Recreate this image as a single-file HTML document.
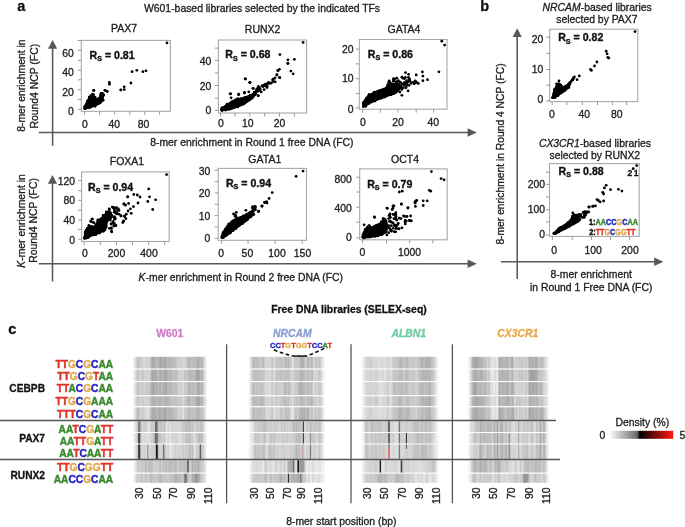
<!DOCTYPE html>
<html><head><meta charset="utf-8"><style>html,body{margin:0;padding:0;background:#fff;width:685px;height:527px;overflow:hidden}text{font-family:"Liberation Sans",sans-serif} svg{filter:blur(0.5px)}</style></head>
<body><svg width="685" height="527" viewBox="0 0 685 527" style="display:block;font-family:'Liberation Sans', sans-serif"><text x="17.20" y="11.20" font-size="14.5" font-weight="bold" fill="#111" stroke="#111" stroke-width="0.28">a</text>
<text x="480.30" y="11.20" font-size="14.5" font-weight="bold" fill="#111" stroke="#111" stroke-width="0.28">b</text>
<text x="8.30" y="334.00" font-size="14.5" font-weight="bold" fill="#111" stroke="#111" stroke-width="0.28">c</text>
<text x="144.00" y="11.70" font-size="10.4" fill="#1e1e1e" stroke="#1e1e1e" stroke-width="0.32">W601-based libraries selected by the indicated TFs</text>
<line x1="52.60" y1="46.00" x2="52.60" y2="145.80" stroke="#585858" stroke-width="1.55"/>
<polygon points="52.60,40.00 48.00,48.80 57.20,48.80" fill="#585858"/>
<line x1="38.80" y1="132.50" x2="470.80" y2="132.50" stroke="#585858" stroke-width="1.55"/>
<polygon points="476.80,132.50 467.60,128.20 467.60,136.80" fill="#585858"/>
<line x1="52.50" y1="181.00" x2="52.50" y2="281.50" stroke="#585858" stroke-width="1.55"/>
<polygon points="52.50,175.00 47.90,183.80 57.10,183.80" fill="#585858"/>
<line x1="38.80" y1="263.70" x2="470.80" y2="263.70" stroke="#585858" stroke-width="1.55"/>
<polygon points="476.80,263.70 467.60,259.40 467.60,268.00" fill="#585858"/>
<line x1="517.20" y1="34.20" x2="517.20" y2="279.00" stroke="#585858" stroke-width="1.55"/>
<polygon points="517.20,28.20 512.60,37.00 521.80,37.00" fill="#585858"/>
<line x1="501.00" y1="261.80" x2="657.40" y2="261.80" stroke="#585858" stroke-width="1.55"/>
<polygon points="663.40,261.80 654.20,257.50 654.20,266.10" fill="#585858"/>
<text x="25.40" y="85.60" font-size="10.4" text-anchor="middle" fill="#1e1e1e" stroke="#1e1e1e" stroke-width="0.32" transform="rotate(-90 25.40 85.60)">8-mer enrichment in</text>
<text x="37.60" y="86.20" font-size="10.4" text-anchor="middle" fill="#1e1e1e" stroke="#1e1e1e" stroke-width="0.32" transform="rotate(-90 37.60 86.20)">Round4 NCP (FC)</text>
<text x="24.60" y="221.00" font-size="10.4" text-anchor="middle" fill="#1e1e1e" stroke="#1e1e1e" stroke-width="0.32" transform="rotate(-90 24.60 221.00)"><tspan font-style="italic">K</tspan>-mer enrichment in</text>
<text x="36.80" y="220.50" font-size="10.4" text-anchor="middle" fill="#1e1e1e" stroke="#1e1e1e" stroke-width="0.32" transform="rotate(-90 36.80 220.50)">Round4 NCP (FC)</text>
<text x="150.20" y="145.90" font-size="10.4" fill="#1e1e1e" stroke="#1e1e1e" stroke-width="0.32">8-mer enrichment in Round 1 free DNA (FC)</text>
<text x="138.60" y="280.90" font-size="10.4" fill="#1e1e1e" stroke="#1e1e1e" stroke-width="0.32"><tspan font-style="italic">K</tspan>-mer enrichment in Round 2 free DNA (FC)</text>
<text x="503.60" y="154.00" font-size="10.3" text-anchor="middle" fill="#1e1e1e" stroke="#1e1e1e" stroke-width="0.32" transform="rotate(-90 503.60 154.00)">8-mer enrichment in Round 4 NCP (FC)</text>
<text x="591.20" y="278.00" font-size="10.4" text-anchor="middle" fill="#1e1e1e" stroke="#1e1e1e" stroke-width="0.32">8-mer enrichment</text>
<text x="591.20" y="291.00" font-size="10.4" text-anchor="middle" fill="#1e1e1e" stroke="#1e1e1e" stroke-width="0.32">in Round 1 Free DNA (FC)</text>
<text x="597.20" y="10.90" font-size="10.4" text-anchor="middle" fill="#1e1e1e" stroke="#1e1e1e" stroke-width="0.32"><tspan font-style="italic">NRCAM</tspan>-based libraries</text>
<text x="596.90" y="23.20" font-size="10.4" text-anchor="middle" fill="#1e1e1e" stroke="#1e1e1e" stroke-width="0.32">selected by PAX7</text>
<text x="594.90" y="146.80" font-size="10.4" text-anchor="middle" fill="#1e1e1e" stroke="#1e1e1e" stroke-width="0.32"><tspan font-style="italic">CX3CR1</tspan>-based libraries</text>
<text x="594.80" y="158.90" font-size="10.4" text-anchor="middle" fill="#1e1e1e" stroke="#1e1e1e" stroke-width="0.32">selected by RUNX2</text>
<rect x="81.30" y="40.40" width="89.10" height="70.90" fill="none" stroke="#a8a8a8" stroke-width="1.1"/>
<text x="124.10" y="31.50" font-size="10.5" text-anchor="middle" fill="#1e1e1e" stroke="#1e1e1e" stroke-width="0.32">PAX7</text>
<line x1="77.80" y1="40.50" x2="81.30" y2="40.50" stroke="#9a9a9a" stroke-width="1.0"/>
<line x1="77.80" y1="50.30" x2="81.30" y2="50.30" stroke="#9a9a9a" stroke-width="1.0"/>
<line x1="77.80" y1="60.50" x2="81.30" y2="60.50" stroke="#9a9a9a" stroke-width="1.0"/>
<line x1="77.80" y1="70.30" x2="81.30" y2="70.30" stroke="#9a9a9a" stroke-width="1.0"/>
<line x1="77.80" y1="79.80" x2="81.30" y2="79.80" stroke="#9a9a9a" stroke-width="1.0"/>
<line x1="77.80" y1="89.70" x2="81.30" y2="89.70" stroke="#9a9a9a" stroke-width="1.0"/>
<line x1="77.80" y1="99.50" x2="81.30" y2="99.50" stroke="#9a9a9a" stroke-width="1.0"/>
<line x1="77.80" y1="109.40" x2="81.30" y2="109.40" stroke="#9a9a9a" stroke-width="1.0"/>
<line x1="84.60" y1="111.30" x2="84.60" y2="114.80" stroke="#9a9a9a" stroke-width="1.0"/>
<line x1="99.50" y1="111.30" x2="99.50" y2="114.80" stroke="#9a9a9a" stroke-width="1.0"/>
<line x1="114.60" y1="111.30" x2="114.60" y2="114.80" stroke="#9a9a9a" stroke-width="1.0"/>
<line x1="129.80" y1="111.30" x2="129.80" y2="114.80" stroke="#9a9a9a" stroke-width="1.0"/>
<line x1="144.80" y1="111.30" x2="144.80" y2="114.80" stroke="#9a9a9a" stroke-width="1.0"/>
<line x1="159.60" y1="111.30" x2="159.60" y2="114.80" stroke="#9a9a9a" stroke-width="1.0"/>
<text x="73.80" y="57.00" font-size="10.4" text-anchor="end" fill="#1e1e1e" stroke="#1e1e1e" stroke-width="0.32">60</text>
<text x="73.80" y="76.00" font-size="10.4" text-anchor="end" fill="#1e1e1e" stroke="#1e1e1e" stroke-width="0.32">40</text>
<text x="73.80" y="95.70" font-size="10.4" text-anchor="end" fill="#1e1e1e" stroke="#1e1e1e" stroke-width="0.32">20</text>
<text x="73.80" y="114.50" font-size="10.4" text-anchor="end" fill="#1e1e1e" stroke="#1e1e1e" stroke-width="0.32">0</text>
<text x="85.00" y="127.60" font-size="10.4" text-anchor="middle" fill="#1e1e1e" stroke="#1e1e1e" stroke-width="0.32">0</text>
<text x="114.30" y="127.60" font-size="10.4" text-anchor="middle" fill="#1e1e1e" stroke="#1e1e1e" stroke-width="0.32">40</text>
<text x="143.50" y="127.60" font-size="10.4" text-anchor="middle" fill="#1e1e1e" stroke="#1e1e1e" stroke-width="0.32">80</text>
<text x="89.50" y="58.60" font-size="10.6" font-weight="bold" fill="#111" stroke="#111" stroke-width="0.35">R<tspan font-size="7.2" dy="2.4">S</tspan><tspan dy="-2.4"> = 0.81</tspan></text>
<rect x="218.40" y="40.00" width="88.20" height="73.00" fill="none" stroke="#a8a8a8" stroke-width="1.1"/>
<text x="262.60" y="32.60" font-size="10.5" text-anchor="middle" fill="#1e1e1e" stroke="#1e1e1e" stroke-width="0.32">RUNX2</text>
<line x1="214.90" y1="48.10" x2="218.40" y2="48.10" stroke="#9a9a9a" stroke-width="1.0"/>
<line x1="214.90" y1="60.30" x2="218.40" y2="60.30" stroke="#9a9a9a" stroke-width="1.0"/>
<line x1="214.90" y1="72.90" x2="218.40" y2="72.90" stroke="#9a9a9a" stroke-width="1.0"/>
<line x1="214.90" y1="85.50" x2="218.40" y2="85.50" stroke="#9a9a9a" stroke-width="1.0"/>
<line x1="214.90" y1="98.20" x2="218.40" y2="98.20" stroke="#9a9a9a" stroke-width="1.0"/>
<line x1="214.90" y1="110.40" x2="218.40" y2="110.40" stroke="#9a9a9a" stroke-width="1.0"/>
<line x1="220.60" y1="113.00" x2="220.60" y2="116.50" stroke="#9a9a9a" stroke-width="1.0"/>
<line x1="235.10" y1="113.00" x2="235.10" y2="116.50" stroke="#9a9a9a" stroke-width="1.0"/>
<line x1="249.90" y1="113.00" x2="249.90" y2="116.50" stroke="#9a9a9a" stroke-width="1.0"/>
<line x1="264.70" y1="113.00" x2="264.70" y2="116.50" stroke="#9a9a9a" stroke-width="1.0"/>
<line x1="279.50" y1="113.00" x2="279.50" y2="116.50" stroke="#9a9a9a" stroke-width="1.0"/>
<line x1="294.40" y1="113.00" x2="294.40" y2="116.50" stroke="#9a9a9a" stroke-width="1.0"/>
<text x="211.20" y="64.70" font-size="10.4" text-anchor="end" fill="#1e1e1e" stroke="#1e1e1e" stroke-width="0.32">40</text>
<text x="211.20" y="89.70" font-size="10.4" text-anchor="end" fill="#1e1e1e" stroke="#1e1e1e" stroke-width="0.32">20</text>
<text x="211.20" y="114.10" font-size="10.4" text-anchor="end" fill="#1e1e1e" stroke="#1e1e1e" stroke-width="0.32">0</text>
<text x="221.00" y="126.60" font-size="10.4" text-anchor="middle" fill="#1e1e1e" stroke="#1e1e1e" stroke-width="0.32">0</text>
<text x="247.70" y="126.60" font-size="10.4" text-anchor="middle" fill="#1e1e1e" stroke="#1e1e1e" stroke-width="0.32">10</text>
<text x="279.60" y="126.60" font-size="10.4" text-anchor="middle" fill="#1e1e1e" stroke="#1e1e1e" stroke-width="0.32">20</text>
<text x="225.30" y="58.30" font-size="10.6" font-weight="bold" fill="#111" stroke="#111" stroke-width="0.35">R<tspan font-size="7.2" dy="2.4">S</tspan><tspan dy="-2.4"> = 0.68</tspan></text>
<rect x="359.30" y="39.50" width="87.70" height="69.70" fill="none" stroke="#a8a8a8" stroke-width="1.1"/>
<text x="404.00" y="32.60" font-size="10.5" text-anchor="middle" fill="#1e1e1e" stroke="#1e1e1e" stroke-width="0.32">GATA4</text>
<line x1="355.80" y1="49.10" x2="359.30" y2="49.10" stroke="#9a9a9a" stroke-width="1.0"/>
<line x1="355.80" y1="63.90" x2="359.30" y2="63.90" stroke="#9a9a9a" stroke-width="1.0"/>
<line x1="355.80" y1="78.70" x2="359.30" y2="78.70" stroke="#9a9a9a" stroke-width="1.0"/>
<line x1="355.80" y1="93.60" x2="359.30" y2="93.60" stroke="#9a9a9a" stroke-width="1.0"/>
<line x1="355.80" y1="107.90" x2="359.30" y2="107.90" stroke="#9a9a9a" stroke-width="1.0"/>
<line x1="362.60" y1="109.20" x2="362.60" y2="112.70" stroke="#9a9a9a" stroke-width="1.0"/>
<line x1="380.40" y1="109.20" x2="380.40" y2="112.70" stroke="#9a9a9a" stroke-width="1.0"/>
<line x1="397.90" y1="109.20" x2="397.90" y2="112.70" stroke="#9a9a9a" stroke-width="1.0"/>
<line x1="416.20" y1="109.20" x2="416.20" y2="112.70" stroke="#9a9a9a" stroke-width="1.0"/>
<line x1="433.60" y1="109.20" x2="433.60" y2="112.70" stroke="#9a9a9a" stroke-width="1.0"/>
<text x="353.50" y="53.30" font-size="10.4" text-anchor="end" fill="#1e1e1e" stroke="#1e1e1e" stroke-width="0.32">20</text>
<text x="353.50" y="82.40" font-size="10.4" text-anchor="end" fill="#1e1e1e" stroke="#1e1e1e" stroke-width="0.32">10</text>
<text x="353.50" y="112.50" font-size="10.4" text-anchor="end" fill="#1e1e1e" stroke="#1e1e1e" stroke-width="0.32">0</text>
<text x="363.00" y="125.90" font-size="10.4" text-anchor="middle" fill="#1e1e1e" stroke="#1e1e1e" stroke-width="0.32">0</text>
<text x="398.00" y="125.90" font-size="10.4" text-anchor="middle" fill="#1e1e1e" stroke="#1e1e1e" stroke-width="0.32">20</text>
<text x="433.30" y="125.90" font-size="10.4" text-anchor="middle" fill="#1e1e1e" stroke="#1e1e1e" stroke-width="0.32">40</text>
<text x="367.80" y="57.80" font-size="10.6" font-weight="bold" fill="#111" stroke="#111" stroke-width="0.35">R<tspan font-size="7.2" dy="2.4">S</tspan><tspan dy="-2.4"> = 0.86</tspan></text>
<rect x="81.60" y="171.90" width="87.60" height="69.60" fill="none" stroke="#a8a8a8" stroke-width="1.1"/>
<text x="127.00" y="164.60" font-size="10.5" text-anchor="middle" fill="#1e1e1e" stroke="#1e1e1e" stroke-width="0.32">FOXA1</text>
<line x1="78.10" y1="180.60" x2="81.60" y2="180.60" stroke="#9a9a9a" stroke-width="1.0"/>
<line x1="78.10" y1="190.70" x2="81.60" y2="190.70" stroke="#9a9a9a" stroke-width="1.0"/>
<line x1="78.10" y1="200.30" x2="81.60" y2="200.30" stroke="#9a9a9a" stroke-width="1.0"/>
<line x1="78.10" y1="210.20" x2="81.60" y2="210.20" stroke="#9a9a9a" stroke-width="1.0"/>
<line x1="78.10" y1="220.00" x2="81.60" y2="220.00" stroke="#9a9a9a" stroke-width="1.0"/>
<line x1="78.10" y1="229.40" x2="81.60" y2="229.40" stroke="#9a9a9a" stroke-width="1.0"/>
<line x1="78.10" y1="239.20" x2="81.60" y2="239.20" stroke="#9a9a9a" stroke-width="1.0"/>
<line x1="84.10" y1="241.50" x2="84.10" y2="245.00" stroke="#9a9a9a" stroke-width="1.0"/>
<line x1="100.30" y1="241.50" x2="100.30" y2="245.00" stroke="#9a9a9a" stroke-width="1.0"/>
<line x1="116.40" y1="241.50" x2="116.40" y2="245.00" stroke="#9a9a9a" stroke-width="1.0"/>
<line x1="132.40" y1="241.50" x2="132.40" y2="245.00" stroke="#9a9a9a" stroke-width="1.0"/>
<line x1="148.70" y1="241.50" x2="148.70" y2="245.00" stroke="#9a9a9a" stroke-width="1.0"/>
<line x1="164.70" y1="241.50" x2="164.70" y2="245.00" stroke="#9a9a9a" stroke-width="1.0"/>
<text x="75.00" y="185.00" font-size="10.4" text-anchor="end" fill="#1e1e1e" stroke="#1e1e1e" stroke-width="0.32">120</text>
<text x="75.00" y="204.20" font-size="10.4" text-anchor="end" fill="#1e1e1e" stroke="#1e1e1e" stroke-width="0.32">80</text>
<text x="75.00" y="224.10" font-size="10.4" text-anchor="end" fill="#1e1e1e" stroke="#1e1e1e" stroke-width="0.32">40</text>
<text x="75.00" y="244.00" font-size="10.4" text-anchor="end" fill="#1e1e1e" stroke="#1e1e1e" stroke-width="0.32">0</text>
<text x="84.80" y="256.90" font-size="10.4" text-anchor="middle" fill="#1e1e1e" stroke="#1e1e1e" stroke-width="0.32">0</text>
<text x="116.50" y="256.90" font-size="10.4" text-anchor="middle" fill="#1e1e1e" stroke="#1e1e1e" stroke-width="0.32">200</text>
<text x="149.00" y="256.90" font-size="10.4" text-anchor="middle" fill="#1e1e1e" stroke="#1e1e1e" stroke-width="0.32">400</text>
<text x="88.00" y="190.80" font-size="10.6" font-weight="bold" fill="#111" stroke="#111" stroke-width="0.35">R<tspan font-size="7.2" dy="2.4">S</tspan><tspan dy="-2.4"> = 0.94</tspan></text>
<rect x="218.20" y="168.40" width="88.30" height="71.90" fill="none" stroke="#a8a8a8" stroke-width="1.1"/>
<text x="264.80" y="162.80" font-size="10.5" text-anchor="middle" fill="#1e1e1e" stroke="#1e1e1e" stroke-width="0.32">GATA1</text>
<line x1="214.70" y1="170.20" x2="218.20" y2="170.20" stroke="#9a9a9a" stroke-width="1.0"/>
<line x1="214.70" y1="181.60" x2="218.20" y2="181.60" stroke="#9a9a9a" stroke-width="1.0"/>
<line x1="214.70" y1="192.90" x2="218.20" y2="192.90" stroke="#9a9a9a" stroke-width="1.0"/>
<line x1="214.70" y1="204.30" x2="218.20" y2="204.30" stroke="#9a9a9a" stroke-width="1.0"/>
<line x1="214.70" y1="215.60" x2="218.20" y2="215.60" stroke="#9a9a9a" stroke-width="1.0"/>
<line x1="214.70" y1="226.90" x2="218.20" y2="226.90" stroke="#9a9a9a" stroke-width="1.0"/>
<line x1="214.70" y1="238.30" x2="218.20" y2="238.30" stroke="#9a9a9a" stroke-width="1.0"/>
<line x1="221.60" y1="240.30" x2="221.60" y2="243.80" stroke="#9a9a9a" stroke-width="1.0"/>
<line x1="248.10" y1="240.30" x2="248.10" y2="243.80" stroke="#9a9a9a" stroke-width="1.0"/>
<line x1="275.20" y1="240.30" x2="275.20" y2="243.80" stroke="#9a9a9a" stroke-width="1.0"/>
<line x1="302.20" y1="240.30" x2="302.20" y2="243.80" stroke="#9a9a9a" stroke-width="1.0"/>
<text x="210.30" y="175.00" font-size="10.4" text-anchor="end" fill="#1e1e1e" stroke="#1e1e1e" stroke-width="0.32">30</text>
<text x="210.30" y="197.00" font-size="10.4" text-anchor="end" fill="#1e1e1e" stroke="#1e1e1e" stroke-width="0.32">20</text>
<text x="210.30" y="219.60" font-size="10.4" text-anchor="end" fill="#1e1e1e" stroke="#1e1e1e" stroke-width="0.32">10</text>
<text x="210.30" y="241.90" font-size="10.4" text-anchor="end" fill="#1e1e1e" stroke="#1e1e1e" stroke-width="0.32">0</text>
<text x="221.10" y="257.10" font-size="10.4" text-anchor="middle" fill="#1e1e1e" stroke="#1e1e1e" stroke-width="0.32">0</text>
<text x="247.40" y="257.10" font-size="10.4" text-anchor="middle" fill="#1e1e1e" stroke="#1e1e1e" stroke-width="0.32">50</text>
<text x="277.00" y="257.10" font-size="10.4" text-anchor="middle" fill="#1e1e1e" stroke="#1e1e1e" stroke-width="0.32">100</text>
<text x="302.50" y="257.10" font-size="10.4" text-anchor="middle" fill="#1e1e1e" stroke="#1e1e1e" stroke-width="0.32">150</text>
<text x="225.90" y="186.90" font-size="10.6" font-weight="bold" fill="#111" stroke="#111" stroke-width="0.35">R<tspan font-size="7.2" dy="2.4">S</tspan><tspan dy="-2.4"> = 0.94</tspan></text>
<rect x="359.70" y="168.90" width="87.50" height="70.90" fill="none" stroke="#a8a8a8" stroke-width="1.1"/>
<text x="405.00" y="162.90" font-size="10.5" text-anchor="middle" fill="#1e1e1e" stroke="#1e1e1e" stroke-width="0.32">OCT4</text>
<line x1="356.20" y1="177.20" x2="359.70" y2="177.20" stroke="#9a9a9a" stroke-width="1.0"/>
<line x1="356.20" y1="192.00" x2="359.70" y2="192.00" stroke="#9a9a9a" stroke-width="1.0"/>
<line x1="356.20" y1="207.20" x2="359.70" y2="207.20" stroke="#9a9a9a" stroke-width="1.0"/>
<line x1="356.20" y1="222.20" x2="359.70" y2="222.20" stroke="#9a9a9a" stroke-width="1.0"/>
<line x1="356.20" y1="237.90" x2="359.70" y2="237.90" stroke="#9a9a9a" stroke-width="1.0"/>
<line x1="362.60" y1="239.80" x2="362.60" y2="243.30" stroke="#9a9a9a" stroke-width="1.0"/>
<line x1="386.50" y1="239.80" x2="386.50" y2="243.30" stroke="#9a9a9a" stroke-width="1.0"/>
<line x1="409.70" y1="239.80" x2="409.70" y2="243.30" stroke="#9a9a9a" stroke-width="1.0"/>
<line x1="432.80" y1="239.80" x2="432.80" y2="243.30" stroke="#9a9a9a" stroke-width="1.0"/>
<text x="351.80" y="182.90" font-size="10.4" text-anchor="end" fill="#1e1e1e" stroke="#1e1e1e" stroke-width="0.32">800</text>
<text x="351.80" y="211.60" font-size="10.4" text-anchor="end" fill="#1e1e1e" stroke="#1e1e1e" stroke-width="0.32">400</text>
<text x="351.80" y="240.80" font-size="10.4" text-anchor="end" fill="#1e1e1e" stroke="#1e1e1e" stroke-width="0.32">0</text>
<text x="362.50" y="256.40" font-size="10.4" text-anchor="middle" fill="#1e1e1e" stroke="#1e1e1e" stroke-width="0.32">0</text>
<text x="409.60" y="256.40" font-size="10.4" text-anchor="middle" fill="#1e1e1e" stroke="#1e1e1e" stroke-width="0.32">1000</text>
<text x="367.20" y="188.00" font-size="10.6" font-weight="bold" fill="#111" stroke="#111" stroke-width="0.35">R<tspan font-size="7.2" dy="2.4">S</tspan><tspan dy="-2.4"> = 0.79</tspan></text>
<rect x="549.70" y="29.20" width="88.10" height="72.40" fill="none" stroke="#a8a8a8" stroke-width="1.1"/>
<line x1="546.20" y1="37.20" x2="549.70" y2="37.20" stroke="#9a9a9a" stroke-width="1.0"/>
<line x1="546.20" y1="53.30" x2="549.70" y2="53.30" stroke="#9a9a9a" stroke-width="1.0"/>
<line x1="546.20" y1="69.50" x2="549.70" y2="69.50" stroke="#9a9a9a" stroke-width="1.0"/>
<line x1="546.20" y1="85.20" x2="549.70" y2="85.20" stroke="#9a9a9a" stroke-width="1.0"/>
<line x1="546.20" y1="100.90" x2="549.70" y2="100.90" stroke="#9a9a9a" stroke-width="1.0"/>
<line x1="552.10" y1="101.60" x2="552.10" y2="105.10" stroke="#9a9a9a" stroke-width="1.0"/>
<line x1="566.90" y1="101.60" x2="566.90" y2="105.10" stroke="#9a9a9a" stroke-width="1.0"/>
<line x1="582.30" y1="101.60" x2="582.30" y2="105.10" stroke="#9a9a9a" stroke-width="1.0"/>
<line x1="597.50" y1="101.60" x2="597.50" y2="105.10" stroke="#9a9a9a" stroke-width="1.0"/>
<line x1="612.30" y1="101.60" x2="612.30" y2="105.10" stroke="#9a9a9a" stroke-width="1.0"/>
<line x1="626.60" y1="101.60" x2="626.60" y2="105.10" stroke="#9a9a9a" stroke-width="1.0"/>
<text x="543.30" y="42.60" font-size="10.4" text-anchor="end" fill="#1e1e1e" stroke="#1e1e1e" stroke-width="0.32">20</text>
<text x="543.30" y="73.10" font-size="10.4" text-anchor="end" fill="#1e1e1e" stroke="#1e1e1e" stroke-width="0.32">10</text>
<text x="543.30" y="103.10" font-size="10.4" text-anchor="end" fill="#1e1e1e" stroke="#1e1e1e" stroke-width="0.32">0</text>
<text x="552.00" y="117.50" font-size="10.4" text-anchor="middle" fill="#1e1e1e" stroke="#1e1e1e" stroke-width="0.32">0</text>
<text x="584.20" y="117.50" font-size="10.4" text-anchor="middle" fill="#1e1e1e" stroke="#1e1e1e" stroke-width="0.32">40</text>
<text x="616.80" y="117.50" font-size="10.4" text-anchor="middle" fill="#1e1e1e" stroke="#1e1e1e" stroke-width="0.32">80</text>
<text x="558.20" y="41.20" font-size="10.6" font-weight="bold" fill="#111" stroke="#111" stroke-width="0.35">R<tspan font-size="7.2" dy="2.4">S</tspan><tspan dy="-2.4"> = 0.82</tspan></text>
<rect x="549.50" y="163.60" width="89.70" height="72.80" fill="none" stroke="#a8a8a8" stroke-width="1.1"/>
<line x1="546.00" y1="172.20" x2="549.50" y2="172.20" stroke="#9a9a9a" stroke-width="1.0"/>
<line x1="546.00" y1="184.40" x2="549.50" y2="184.40" stroke="#9a9a9a" stroke-width="1.0"/>
<line x1="546.00" y1="197.00" x2="549.50" y2="197.00" stroke="#9a9a9a" stroke-width="1.0"/>
<line x1="546.00" y1="209.70" x2="549.50" y2="209.70" stroke="#9a9a9a" stroke-width="1.0"/>
<line x1="546.00" y1="221.90" x2="549.50" y2="221.90" stroke="#9a9a9a" stroke-width="1.0"/>
<line x1="546.00" y1="235.00" x2="549.50" y2="235.00" stroke="#9a9a9a" stroke-width="1.0"/>
<line x1="552.60" y1="236.40" x2="552.60" y2="239.90" stroke="#9a9a9a" stroke-width="1.0"/>
<line x1="572.20" y1="236.40" x2="572.20" y2="239.90" stroke="#9a9a9a" stroke-width="1.0"/>
<line x1="591.40" y1="236.40" x2="591.40" y2="239.90" stroke="#9a9a9a" stroke-width="1.0"/>
<line x1="610.50" y1="236.40" x2="610.50" y2="239.90" stroke="#9a9a9a" stroke-width="1.0"/>
<line x1="629.70" y1="236.40" x2="629.70" y2="239.90" stroke="#9a9a9a" stroke-width="1.0"/>
<text x="545.00" y="187.90" font-size="10.4" text-anchor="end" fill="#1e1e1e" stroke="#1e1e1e" stroke-width="0.32">200</text>
<text x="545.00" y="213.30" font-size="10.4" text-anchor="end" fill="#1e1e1e" stroke="#1e1e1e" stroke-width="0.32">100</text>
<text x="545.00" y="237.50" font-size="10.4" text-anchor="end" fill="#1e1e1e" stroke="#1e1e1e" stroke-width="0.32">0</text>
<text x="554.10" y="253.90" font-size="10.4" text-anchor="middle" fill="#1e1e1e" stroke="#1e1e1e" stroke-width="0.32">0</text>
<text x="593.10" y="253.90" font-size="10.4" text-anchor="middle" fill="#1e1e1e" stroke="#1e1e1e" stroke-width="0.32">100</text>
<text x="630.00" y="253.90" font-size="10.4" text-anchor="middle" fill="#1e1e1e" stroke="#1e1e1e" stroke-width="0.32">200</text>
<text x="558.60" y="175.00" font-size="10.6" font-weight="bold" fill="#111" stroke="#111" stroke-width="0.35">R<tspan font-size="7.2" dy="2.4">S</tspan><tspan dy="-2.4"> = 0.88</tspan></text>
<path d="M83.6,109.1 L83.3,106.5 L85.1,103.5 L87.7,98.8 L88.5,96.0 L90.3,95.3 L92.3,94.0 L93.8,94.2 L93.6,96.0 L95.4,97.3 L96.4,98.3 L97.9,97.8 L99.5,95.8 L100.5,92.7 L103.1,92.2 L105.1,94.2 L104.1,96.3 L103.6,99.9 L101.5,103.5 L95.4,106.5 L87.7,109.1 L84.6,109.6Z" fill="#000"/>
<g><circle cx="93.8" cy="90.4" r="1.4"/><circle cx="105.1" cy="90.4" r="1.4"/><circle cx="167.0" cy="42.9" r="1.4"/><circle cx="132.1" cy="71.7" r="1.4"/><circle cx="136.8" cy="70.3" r="1.4"/><circle cx="142.9" cy="71.7" r="1.4"/><circle cx="146.0" cy="70.8" r="1.4"/><circle cx="130.9" cy="83.0" r="1.4"/><circle cx="109.4" cy="82.5" r="1.4"/><circle cx="109.4" cy="84.2" r="1.4"/><circle cx="120.7" cy="90.0" r="1.4"/><circle cx="124.2" cy="86.8" r="1.4"/><circle cx="124.2" cy="89.6" r="1.4"/><circle cx="93.7" cy="90.3" r="1.4"/><circle cx="105.0" cy="90.3" r="1.4"/><circle cx="101.6" cy="93.8" r="1.4"/><circle cx="107.3" cy="91.5" r="1.4"/><circle cx="85.0" cy="108.5" r="1.4"/><circle cx="85.0" cy="106.8" r="1.4"/><circle cx="89.1" cy="99.6" r="1.4"/><circle cx="87.5" cy="100.9" r="1.4"/><circle cx="89.3" cy="97.4" r="1.4"/><circle cx="90.7" cy="95.9" r="1.4"/><circle cx="91.5" cy="95.5" r="1.4"/><circle cx="93.8" cy="94.8" r="1.4"/><circle cx="92.5" cy="94.1" r="1.4"/><circle cx="94.3" cy="97.3" r="1.4"/><circle cx="95.2" cy="97.5" r="1.4"/><circle cx="97.6" cy="99.1" r="1.4"/><circle cx="99.8" cy="98.7" r="1.4"/><circle cx="100.4" cy="95.4" r="1.4"/><circle cx="100.9" cy="93.6" r="1.4"/><circle cx="102.0" cy="93.3" r="1.4"/><circle cx="103.4" cy="95.6" r="1.4"/><circle cx="102.9" cy="99.8" r="1.4"/><circle cx="103.1" cy="100.3" r="1.4"/><circle cx="98.1" cy="103.8" r="1.4"/><circle cx="99.6" cy="102.5" r="1.4"/><circle cx="91.3" cy="106.7" r="1.4"/><circle cx="95.0" cy="106.3" r="1.4"/><circle cx="89.5" cy="107.8" r="1.4"/><circle cx="85.1" cy="108.0" r="1.4"/><circle cx="85.0" cy="108.7" r="1.4"/></g>
<path d="M220.3,110.5 L222.0,107.0 L226.7,103.8 L235.0,98.8 L243.4,97.1 L251.7,93.8 L256.0,89.5 L258.0,90.0 L256.0,95.0 L253.4,98.8 L243.4,105.5 L230.0,110.5 L221.0,111.2Z" fill="#000"/>
<g><circle cx="287.8" cy="63.5" r="1.4"/><circle cx="278.0" cy="70.8" r="1.4"/><circle cx="279.4" cy="69.3" r="1.4"/><circle cx="276.9" cy="75.1" r="1.4"/><circle cx="279.8" cy="77.7" r="1.4"/><circle cx="273.2" cy="79.2" r="1.4"/><circle cx="273.6" cy="81.7" r="1.4"/><circle cx="271.4" cy="82.8" r="1.4"/><circle cx="269.2" cy="83.5" r="1.4"/><circle cx="267.0" cy="83.9" r="1.4"/><circle cx="264.8" cy="84.6" r="1.4"/><circle cx="263.4" cy="85.4" r="1.4"/><circle cx="267.0" cy="87.5" r="1.4"/><circle cx="264.1" cy="89.7" r="1.4"/><circle cx="261.2" cy="91.9" r="1.4"/><circle cx="258.2" cy="95.6" r="1.4"/><circle cx="245.1" cy="78.8" r="1.4"/><circle cx="249.9" cy="82.4" r="1.4"/><circle cx="253.1" cy="88.3" r="1.4"/><circle cx="244.4" cy="93.0" r="1.4"/><circle cx="248.8" cy="91.9" r="1.4"/><circle cx="258.2" cy="86.8" r="1.4"/><circle cx="256.8" cy="89.0" r="1.4"/><circle cx="230.1" cy="93.8" r="1.4"/><circle cx="238.7" cy="94.2" r="1.4"/><circle cx="244.6" cy="92.5" r="1.4"/><circle cx="253.1" cy="88.6" r="1.4"/><circle cx="258.4" cy="86.6" r="1.4"/><circle cx="258.1" cy="95.8" r="1.4"/><circle cx="249.9" cy="82.7" r="1.4"/><circle cx="231.1" cy="97.8" r="1.4"/><circle cx="303.1" cy="42.4" r="1.4"/><circle cx="279.9" cy="54.6" r="1.4"/><circle cx="287.9" cy="59.8" r="1.4"/><circle cx="287.9" cy="63.3" r="1.4"/><circle cx="294.4" cy="59.3" r="1.4"/><circle cx="290.9" cy="71.1" r="1.4"/><circle cx="293.2" cy="73.8" r="1.4"/><circle cx="277.8" cy="70.3" r="1.4"/><circle cx="276.9" cy="74.6" r="1.4"/><circle cx="279.5" cy="77.3" r="1.4"/><circle cx="245.5" cy="79.0" r="1.4"/><circle cx="249.9" cy="82.5" r="1.4"/><circle cx="272.6" cy="79.9" r="1.4"/><circle cx="265.6" cy="84.2" r="1.4"/><circle cx="268.5" cy="82.5" r="1.4"/><circle cx="262.0" cy="86.0" r="1.4"/><circle cx="230.7" cy="93.8" r="1.4"/><circle cx="238.6" cy="94.7" r="1.4"/><circle cx="275.0" cy="78.0" r="1.4"/><circle cx="221.8" cy="108.0" r="1.4"/><circle cx="226.7" cy="104.8" r="1.4"/><circle cx="223.1" cy="107.9" r="1.4"/><circle cx="232.0" cy="101.6" r="1.4"/><circle cx="227.1" cy="104.1" r="1.4"/><circle cx="230.4" cy="103.2" r="1.4"/><circle cx="237.9" cy="98.6" r="1.4"/><circle cx="235.8" cy="100.0" r="1.4"/><circle cx="241.3" cy="98.6" r="1.4"/><circle cx="244.8" cy="97.5" r="1.4"/><circle cx="249.9" cy="96.1" r="1.4"/><circle cx="250.2" cy="95.4" r="1.4"/><circle cx="254.3" cy="92.1" r="1.4"/><circle cx="254.1" cy="94.3" r="1.4"/><circle cx="256.4" cy="91.2" r="1.4"/><circle cx="255.7" cy="92.5" r="1.4"/><circle cx="256.7" cy="90.2" r="1.4"/><circle cx="254.7" cy="94.9" r="1.4"/><circle cx="243.5" cy="103.7" r="1.4"/><circle cx="249.2" cy="100.1" r="1.4"/><circle cx="243.5" cy="103.9" r="1.4"/><circle cx="244.9" cy="103.0" r="1.4"/><circle cx="235.1" cy="106.7" r="1.4"/><circle cx="235.9" cy="106.6" r="1.4"/><circle cx="237.7" cy="106.9" r="1.4"/><circle cx="237.2" cy="106.6" r="1.4"/><circle cx="237.7" cy="106.6" r="1.4"/><circle cx="222.1" cy="110.5" r="1.4"/><circle cx="225.6" cy="108.9" r="1.4"/><circle cx="225.4" cy="110.0" r="1.4"/><circle cx="221.3" cy="109.9" r="1.4"/><circle cx="259.4" cy="87.6" r="1.4"/><circle cx="253.1" cy="94.3" r="1.4"/><circle cx="257.6" cy="91.3" r="1.4"/><circle cx="258.4" cy="90.8" r="1.4"/><circle cx="263.1" cy="86.6" r="1.4"/><circle cx="275.2" cy="81.8" r="1.4"/><circle cx="265.4" cy="85.8" r="1.4"/><circle cx="260.2" cy="88.9" r="1.4"/><circle cx="263.6" cy="85.8" r="1.4"/><circle cx="270.8" cy="83.2" r="1.4"/><circle cx="259.5" cy="90.2" r="1.4"/><circle cx="258.8" cy="88.6" r="1.4"/><circle cx="267.1" cy="86.5" r="1.4"/><circle cx="255.6" cy="94.1" r="1.4"/></g>
<path d="M362.1,107.3 L362.1,102.7 L365.2,98.6 L368.2,94.5 L373.3,92.0 L378.4,89.5 L384.0,88.0 L388.0,84.5 L392.0,82.5 L396.0,84.0 L400.0,86.0 L403.0,87.0 L400.0,90.0 L396.8,93.5 L388.7,96.6 L380.5,99.6 L372.3,102.7 L366.2,106.3 L363.1,107.8Z" fill="#000"/>
<g><circle cx="405.5" cy="72.6" r="1.4"/><circle cx="408.6" cy="74.3" r="1.4"/><circle cx="416.2" cy="74.9" r="1.4"/><circle cx="422.4" cy="72.0" r="1.4"/><circle cx="422.9" cy="76.1" r="1.4"/><circle cx="427.5" cy="79.7" r="1.4"/><circle cx="422.9" cy="80.7" r="1.4"/><circle cx="408.1" cy="90.9" r="1.4"/><circle cx="401.9" cy="95.3" r="1.4"/><circle cx="396.8" cy="78.2" r="1.4"/><circle cx="401.9" cy="77.2" r="1.4"/><circle cx="403.0" cy="78.2" r="1.4"/><circle cx="393.8" cy="80.7" r="1.4"/><circle cx="388.7" cy="82.3" r="1.4"/><circle cx="387.6" cy="84.8" r="1.4"/><circle cx="409.1" cy="79.2" r="1.4"/><circle cx="410.1" cy="81.2" r="1.4"/><circle cx="411.1" cy="83.3" r="1.4"/><circle cx="413.2" cy="82.3" r="1.4"/><circle cx="417.3" cy="82.8" r="1.4"/><circle cx="406.0" cy="83.3" r="1.4"/><circle cx="404.0" cy="85.3" r="1.4"/><circle cx="400.9" cy="86.3" r="1.4"/><circle cx="398.9" cy="84.3" r="1.4"/><circle cx="396.8" cy="83.3" r="1.4"/><circle cx="394.8" cy="86.3" r="1.4"/><circle cx="392.7" cy="84.3" r="1.4"/><circle cx="390.7" cy="83.3" r="1.4"/><circle cx="406.0" cy="87.4" r="1.4"/><circle cx="401.9" cy="89.4" r="1.4"/><circle cx="399.9" cy="92.0" r="1.4"/><circle cx="393.8" cy="90.4" r="1.4"/><circle cx="407.0" cy="85.3" r="1.4"/><circle cx="414.2" cy="83.8" r="1.4"/><circle cx="398.4" cy="80.7" r="1.4"/><circle cx="404.5" cy="82.3" r="1.4"/><circle cx="391.7" cy="88.4" r="1.4"/><circle cx="395.8" cy="87.4" r="1.4"/><circle cx="399.9" cy="82.3" r="1.4"/><circle cx="409.1" cy="85.3" r="1.4"/><circle cx="415.2" cy="82.8" r="1.4"/><circle cx="441.8" cy="41.2" r="1.4"/><circle cx="444.6" cy="45.1" r="1.4"/><circle cx="438.9" cy="71.8" r="1.4"/><circle cx="363.9" cy="103.9" r="1.4"/><circle cx="363.4" cy="102.7" r="1.4"/><circle cx="365.1" cy="100.5" r="1.4"/><circle cx="366.3" cy="98.2" r="1.4"/><circle cx="368.0" cy="96.7" r="1.4"/><circle cx="369.1" cy="94.3" r="1.4"/><circle cx="373.2" cy="93.5" r="1.4"/><circle cx="375.6" cy="92.3" r="1.4"/><circle cx="374.3" cy="92.2" r="1.4"/><circle cx="383.8" cy="89.1" r="1.4"/><circle cx="383.6" cy="89.3" r="1.4"/><circle cx="387.8" cy="86.7" r="1.4"/><circle cx="388.0" cy="86.2" r="1.4"/><circle cx="390.1" cy="84.5" r="1.4"/><circle cx="393.8" cy="85.0" r="1.4"/><circle cx="397.7" cy="86.2" r="1.4"/><circle cx="402.7" cy="87.9" r="1.4"/><circle cx="400.6" cy="87.4" r="1.4"/><circle cx="397.3" cy="90.8" r="1.4"/><circle cx="391.2" cy="94.7" r="1.4"/><circle cx="391.9" cy="93.7" r="1.4"/><circle cx="394.0" cy="93.4" r="1.4"/><circle cx="385.2" cy="96.6" r="1.4"/><circle cx="384.6" cy="97.0" r="1.4"/><circle cx="381.2" cy="98.2" r="1.4"/><circle cx="372.0" cy="101.9" r="1.4"/><circle cx="375.5" cy="99.9" r="1.4"/><circle cx="374.9" cy="101.1" r="1.4"/><circle cx="368.7" cy="103.4" r="1.4"/><circle cx="365.3" cy="105.1" r="1.4"/><circle cx="365.7" cy="106.3" r="1.4"/><circle cx="363.4" cy="106.6" r="1.4"/><circle cx="406.7" cy="83.7" r="1.4"/><circle cx="398.6" cy="85.1" r="1.4"/><circle cx="389.2" cy="80.9" r="1.4"/><circle cx="393.4" cy="81.2" r="1.4"/><circle cx="396.7" cy="85.8" r="1.4"/><circle cx="397.0" cy="81.6" r="1.4"/><circle cx="394.0" cy="84.8" r="1.4"/><circle cx="394.2" cy="84.1" r="1.4"/><circle cx="415.8" cy="81.6" r="1.4"/><circle cx="418.4" cy="83.6" r="1.4"/><circle cx="391.2" cy="85.0" r="1.4"/><circle cx="405.6" cy="87.8" r="1.4"/><circle cx="396.6" cy="86.6" r="1.4"/><circle cx="408.7" cy="81.3" r="1.4"/><circle cx="389.6" cy="83.6" r="1.4"/><circle cx="401.8" cy="84.0" r="1.4"/><circle cx="406.4" cy="80.6" r="1.4"/><circle cx="415.1" cy="80.9" r="1.4"/><circle cx="389.5" cy="81.9" r="1.4"/><circle cx="395.2" cy="91.8" r="1.4"/><circle cx="397.5" cy="90.3" r="1.4"/><circle cx="393.8" cy="79.1" r="1.4"/><circle cx="404.2" cy="78.5" r="1.4"/><circle cx="414.0" cy="82.7" r="1.4"/><circle cx="396.3" cy="84.5" r="1.4"/><circle cx="394.7" cy="86.1" r="1.4"/><circle cx="405.4" cy="77.4" r="1.4"/><circle cx="392.7" cy="89.4" r="1.4"/><circle cx="404.5" cy="83.5" r="1.4"/><circle cx="396.1" cy="81.9" r="1.4"/><circle cx="409.3" cy="78.8" r="1.4"/><circle cx="400.6" cy="86.3" r="1.4"/><circle cx="393.3" cy="78.8" r="1.4"/><circle cx="393.4" cy="84.2" r="1.4"/><circle cx="407.4" cy="82.2" r="1.4"/><circle cx="394.7" cy="78.9" r="1.4"/><circle cx="409.6" cy="79.5" r="1.4"/><circle cx="400.4" cy="82.2" r="1.4"/><circle cx="408.5" cy="77.4" r="1.4"/><circle cx="394.4" cy="87.7" r="1.4"/></g>
<path d="M551.7,99.0 L552.2,94.0 L553.4,90.1 L555.9,85.1 L558.4,82.6 L560.9,83.4 L563.4,86.3 L567.5,83.4 L571.7,78.4 L575.1,75.1 L575.5,77.5 L572.0,82.0 L569.2,88.4 L560.0,95.1 L555.0,98.8Z" fill="#000"/>
<g><circle cx="579.3" cy="75.9" r="1.4"/><circle cx="577.1" cy="79.7" r="1.4"/><circle cx="635.0" cy="31.6" r="1.4"/><circle cx="606.2" cy="51.2" r="1.4"/><circle cx="607.1" cy="53.8" r="1.4"/><circle cx="607.9" cy="57.3" r="1.4"/><circle cx="608.8" cy="58.1" r="1.4"/><circle cx="596.9" cy="62.0" r="1.4"/><circle cx="594.5" cy="66.0" r="1.4"/><circle cx="590.5" cy="69.5" r="1.4"/><circle cx="591.4" cy="70.4" r="1.4"/><circle cx="559.0" cy="81.0" r="1.4"/><circle cx="556.5" cy="84.0" r="1.4"/><circle cx="553.2" cy="96.7" r="1.4"/><circle cx="552.5" cy="97.7" r="1.4"/><circle cx="554.6" cy="90.2" r="1.4"/><circle cx="555.3" cy="89.7" r="1.4"/><circle cx="554.7" cy="89.2" r="1.4"/><circle cx="558.6" cy="84.0" r="1.4"/><circle cx="559.4" cy="84.6" r="1.4"/><circle cx="560.6" cy="85.1" r="1.4"/><circle cx="564.6" cy="87.4" r="1.4"/><circle cx="565.2" cy="86.3" r="1.4"/><circle cx="569.0" cy="83.3" r="1.4"/><circle cx="572.6" cy="80.0" r="1.4"/><circle cx="574.2" cy="77.1" r="1.4"/><circle cx="573.8" cy="77.3" r="1.4"/><circle cx="573.4" cy="78.8" r="1.4"/><circle cx="572.3" cy="79.9" r="1.4"/><circle cx="568.9" cy="87.4" r="1.4"/><circle cx="569.8" cy="84.1" r="1.4"/><circle cx="563.1" cy="91.0" r="1.4"/><circle cx="563.7" cy="91.1" r="1.4"/><circle cx="564.8" cy="90.6" r="1.4"/><circle cx="561.2" cy="93.1" r="1.4"/><circle cx="557.9" cy="95.5" r="1.4"/><circle cx="557.9" cy="95.7" r="1.4"/><circle cx="554.8" cy="97.7" r="1.4"/></g>
<path d="M552.4,234.5 L554.6,231.2 L557.9,227.9 L562.3,225.2 L566.7,222.4 L570.0,219.1 L572.2,215.2 L574.4,213.6 L577.7,214.7 L581.0,216.3 L579.9,220.7 L577.7,223.0 L573.3,225.2 L567.8,228.5 L561.2,231.8 L555.7,235.1Z" fill="#000"/>
<g><circle cx="572.8" cy="213.0" r="1.4"/><circle cx="576.6" cy="215.2" r="1.4"/><circle cx="581.0" cy="214.7" r="1.4"/><circle cx="584.3" cy="215.8" r="1.4"/><circle cx="583.2" cy="212.5" r="1.4"/><circle cx="586.5" cy="213.0" r="1.4"/><circle cx="588.7" cy="211.9" r="1.4"/><circle cx="589.3" cy="207.0" r="1.4"/><circle cx="592.6" cy="206.4" r="1.4"/><circle cx="595.4" cy="205.9" r="1.4"/><circle cx="597.0" cy="199.6" r="1.4"/><circle cx="584.3" cy="217.4" r="1.4"/><circle cx="585.4" cy="215.2" r="1.4"/><circle cx="575.5" cy="218.0" r="1.4"/><circle cx="573.3" cy="216.3" r="1.4"/><circle cx="636.7" cy="165.6" r="1.4"/><circle cx="633.2" cy="168.7" r="1.4"/><circle cx="606.2" cy="185.3" r="1.4"/><circle cx="604.4" cy="187.9" r="1.4"/><circle cx="602.7" cy="192.3" r="1.4"/><circle cx="603.6" cy="194.0" r="1.4"/><circle cx="610.5" cy="189.7" r="1.4"/><circle cx="618.4" cy="189.3" r="1.4"/><circle cx="621.9" cy="191.1" r="1.4"/><circle cx="603.6" cy="201.0" r="1.4"/><circle cx="598.3" cy="200.5" r="1.4"/><circle cx="600.1" cy="201.9" r="1.4"/><circle cx="593.1" cy="206.2" r="1.4"/><circle cx="588.7" cy="207.1" r="1.4"/><circle cx="587.0" cy="212.3" r="1.4"/><circle cx="584.4" cy="214.1" r="1.4"/><circle cx="555.1" cy="233.3" r="1.4"/><circle cx="558.4" cy="229.6" r="1.4"/><circle cx="560.6" cy="227.3" r="1.4"/><circle cx="559.1" cy="228.5" r="1.4"/><circle cx="566.1" cy="224.8" r="1.4"/><circle cx="563.8" cy="226.1" r="1.4"/><circle cx="567.7" cy="222.7" r="1.4"/><circle cx="572.6" cy="216.3" r="1.4"/><circle cx="572.8" cy="216.2" r="1.4"/><circle cx="573.9" cy="214.8" r="1.4"/><circle cx="577.3" cy="216.0" r="1.4"/><circle cx="578.4" cy="218.8" r="1.4"/><circle cx="578.9" cy="220.4" r="1.4"/><circle cx="574.0" cy="223.4" r="1.4"/><circle cx="572.7" cy="224.2" r="1.4"/><circle cx="569.5" cy="226.2" r="1.4"/><circle cx="566.3" cy="227.3" r="1.4"/><circle cx="564.5" cy="228.8" r="1.4"/><circle cx="559.1" cy="231.1" r="1.4"/><circle cx="558.4" cy="231.7" r="1.4"/><circle cx="553.9" cy="233.2" r="1.4"/><circle cx="584.6" cy="211.7" r="1.4"/><circle cx="582.4" cy="217.5" r="1.4"/><circle cx="580.5" cy="215.9" r="1.4"/><circle cx="579.0" cy="214.3" r="1.4"/><circle cx="579.8" cy="219.5" r="1.4"/><circle cx="587.5" cy="211.9" r="1.4"/><circle cx="585.1" cy="212.3" r="1.4"/><circle cx="586.3" cy="212.0" r="1.4"/><circle cx="573.6" cy="218.4" r="1.4"/><circle cx="577.7" cy="221.4" r="1.4"/></g>
<path d="M83.6,239.4 L84.0,231.0 L87.2,227.1 L90.4,225.5 L94.3,225.5 L97.5,219.9 L101.5,216.7 L105.5,212.7 L108.7,209.6 L111.8,211.9 L112.6,217.5 L107.9,222.3 L107.1,227.9 L103.9,231.8 L98.3,234.2 L91.9,236.6 L86.4,239.4Z" fill="#000"/>
<g><circle cx="127.7" cy="196.8" r="1.4"/><circle cx="124.1" cy="203.9" r="1.4"/><circle cx="125.5" cy="205.2" r="1.4"/><circle cx="128.6" cy="203.5" r="1.4"/><circle cx="133.5" cy="206.6" r="1.4"/><circle cx="130.4" cy="208.8" r="1.4"/><circle cx="128.1" cy="211.0" r="1.4"/><circle cx="126.3" cy="214.2" r="1.4"/><circle cx="131.2" cy="213.3" r="1.4"/><circle cx="124.6" cy="216.4" r="1.4"/><circle cx="125.9" cy="218.6" r="1.4"/><circle cx="123.7" cy="220.8" r="1.4"/><circle cx="122.8" cy="222.6" r="1.4"/><circle cx="121.0" cy="215.9" r="1.4"/><circle cx="116.5" cy="213.7" r="1.4"/><circle cx="117.4" cy="210.6" r="1.4"/><circle cx="115.7" cy="208.4" r="1.4"/><circle cx="113.9" cy="207.5" r="1.4"/><circle cx="118.3" cy="208.8" r="1.4"/><circle cx="113.9" cy="217.3" r="1.4"/><circle cx="114.3" cy="223.5" r="1.4"/><circle cx="115.7" cy="225.7" r="1.4"/><circle cx="111.6" cy="231.5" r="1.4"/><circle cx="109.4" cy="228.4" r="1.4"/><circle cx="111.2" cy="224.0" r="1.4"/><circle cx="109.4" cy="209.3" r="1.4"/><circle cx="91.1" cy="221.7" r="1.4"/><circle cx="93.4" cy="222.6" r="1.4"/><circle cx="92.5" cy="219.1" r="1.4"/><circle cx="106.7" cy="212.4" r="1.4"/><circle cx="113.0" cy="221.7" r="1.4"/><circle cx="110.3" cy="220.0" r="1.4"/><circle cx="88.9" cy="225.3" r="1.4"/><circle cx="97.8" cy="220.0" r="1.4"/><circle cx="103.2" cy="215.5" r="1.4"/><circle cx="91.9" cy="219.1" r="1.4"/><circle cx="90.7" cy="221.1" r="1.4"/><circle cx="93.9" cy="222.7" r="1.4"/><circle cx="109.1" cy="208.8" r="1.4"/><circle cx="106.3" cy="211.9" r="1.4"/><circle cx="113.4" cy="208.0" r="1.4"/><circle cx="116.6" cy="207.6" r="1.4"/><circle cx="119.0" cy="210.4" r="1.4"/><circle cx="115.0" cy="211.9" r="1.4"/><circle cx="117.0" cy="213.9" r="1.4"/><circle cx="121.0" cy="215.9" r="1.4"/><circle cx="114.2" cy="217.1" r="1.4"/><circle cx="111.1" cy="223.9" r="1.4"/><circle cx="113.4" cy="223.1" r="1.4"/><circle cx="115.8" cy="225.5" r="1.4"/><circle cx="111.1" cy="227.9" r="1.4"/><circle cx="111.8" cy="231.8" r="1.4"/><circle cx="123.8" cy="204.0" r="1.4"/><circle cx="123.4" cy="221.5" r="1.4"/><circle cx="124.6" cy="215.9" r="1.4"/><circle cx="166.6" cy="174.6" r="1.4"/><circle cx="148.7" cy="188.9" r="1.4"/><circle cx="149.5" cy="196.8" r="1.4"/><circle cx="147.8" cy="201.5" r="1.4"/><circle cx="155.6" cy="199.8" r="1.4"/><circle cx="152.7" cy="209.5" r="1.4"/><circle cx="133.8" cy="194.5" r="1.4"/><circle cx="137.3" cy="195.0" r="1.4"/><circle cx="127.7" cy="196.8" r="1.4"/><circle cx="140.0" cy="197.0" r="1.4"/><circle cx="138.0" cy="203.0" r="1.4"/><circle cx="84.8" cy="237.7" r="1.4"/><circle cx="85.6" cy="236.8" r="1.4"/><circle cx="84.6" cy="238.1" r="1.4"/><circle cx="86.5" cy="230.1" r="1.4"/><circle cx="87.3" cy="228.2" r="1.4"/><circle cx="88.4" cy="228.0" r="1.4"/><circle cx="91.1" cy="226.5" r="1.4"/><circle cx="95.9" cy="224.6" r="1.4"/><circle cx="97.9" cy="222.4" r="1.4"/><circle cx="99.0" cy="220.4" r="1.4"/><circle cx="98.0" cy="221.2" r="1.4"/><circle cx="105.2" cy="215.2" r="1.4"/><circle cx="103.8" cy="215.5" r="1.4"/><circle cx="108.9" cy="211.7" r="1.4"/><circle cx="109.4" cy="211.8" r="1.4"/><circle cx="111.1" cy="216.1" r="1.4"/><circle cx="110.7" cy="214.4" r="1.4"/><circle cx="110.5" cy="217.5" r="1.4"/><circle cx="110.0" cy="218.0" r="1.4"/><circle cx="105.7" cy="225.2" r="1.4"/><circle cx="106.1" cy="227.1" r="1.4"/><circle cx="104.9" cy="229.9" r="1.4"/><circle cx="104.2" cy="228.9" r="1.4"/><circle cx="99.6" cy="233.0" r="1.4"/><circle cx="103.4" cy="231.3" r="1.4"/><circle cx="95.9" cy="234.7" r="1.4"/><circle cx="93.9" cy="234.9" r="1.4"/><circle cx="87.9" cy="237.6" r="1.4"/><circle cx="87.8" cy="237.3" r="1.4"/><circle cx="84.2" cy="238.0" r="1.4"/><circle cx="108.9" cy="218.7" r="1.4"/><circle cx="111.7" cy="215.5" r="1.4"/><circle cx="114.5" cy="219.4" r="1.4"/><circle cx="119.1" cy="214.2" r="1.4"/><circle cx="114.4" cy="209.9" r="1.4"/><circle cx="115.4" cy="218.5" r="1.4"/><circle cx="114.3" cy="216.7" r="1.4"/><circle cx="117.0" cy="213.3" r="1.4"/><circle cx="112.3" cy="207.1" r="1.4"/><circle cx="114.2" cy="212.3" r="1.4"/><circle cx="113.7" cy="226.0" r="1.4"/><circle cx="111.5" cy="228.6" r="1.4"/></g>
<path d="M220.7,238.3 L221.5,233.0 L223.4,230.1 L228.4,223.4 L235.0,218.4 L243.4,215.1 L251.7,210.1 L254.2,205.1 L256.0,207.0 L253.4,215.1 L246.7,221.8 L236.7,228.4 L226.7,236.8 L222.0,239.0Z" fill="#000"/>
<g><circle cx="236.3" cy="212.4" r="1.4"/><circle cx="233.6" cy="214.0" r="1.4"/><circle cx="235.1" cy="216.3" r="1.4"/><circle cx="261.9" cy="206.2" r="1.4"/><circle cx="258.4" cy="211.7" r="1.4"/><circle cx="253.8" cy="214.4" r="1.4"/><circle cx="264.7" cy="202.3" r="1.4"/><circle cx="267.0" cy="203.1" r="1.4"/><circle cx="252.2" cy="207.8" r="1.4"/><circle cx="253.0" cy="210.1" r="1.4"/><circle cx="303.1" cy="171.1" r="1.4"/><circle cx="296.1" cy="176.3" r="1.4"/><circle cx="272.2" cy="192.6" r="1.4"/><circle cx="269.1" cy="198.5" r="1.4"/><circle cx="266.5" cy="201.6" r="1.4"/><circle cx="264.7" cy="202.5" r="1.4"/><circle cx="262.1" cy="206.0" r="1.4"/><circle cx="258.6" cy="211.2" r="1.4"/><circle cx="221.9" cy="236.4" r="1.4"/><circle cx="222.5" cy="236.5" r="1.4"/><circle cx="223.4" cy="232.2" r="1.4"/><circle cx="225.7" cy="228.8" r="1.4"/><circle cx="226.7" cy="228.4" r="1.4"/><circle cx="227.6" cy="225.9" r="1.4"/><circle cx="231.6" cy="222.0" r="1.4"/><circle cx="232.9" cy="220.9" r="1.4"/><circle cx="228.8" cy="224.0" r="1.4"/><circle cx="238.9" cy="218.4" r="1.4"/><circle cx="243.1" cy="215.9" r="1.4"/><circle cx="234.8" cy="219.8" r="1.4"/><circle cx="249.3" cy="213.2" r="1.4"/><circle cx="249.8" cy="212.9" r="1.4"/><circle cx="246.2" cy="215.1" r="1.4"/><circle cx="255.3" cy="206.5" r="1.4"/><circle cx="253.9" cy="209.1" r="1.4"/><circle cx="255.2" cy="207.6" r="1.4"/><circle cx="254.0" cy="208.0" r="1.4"/><circle cx="252.9" cy="214.2" r="1.4"/><circle cx="251.7" cy="214.4" r="1.4"/><circle cx="250.9" cy="216.8" r="1.4"/><circle cx="251.9" cy="215.4" r="1.4"/><circle cx="247.4" cy="219.7" r="1.4"/><circle cx="237.3" cy="227.0" r="1.4"/><circle cx="237.0" cy="226.5" r="1.4"/><circle cx="242.6" cy="223.5" r="1.4"/><circle cx="239.3" cy="225.6" r="1.4"/><circle cx="231.7" cy="230.7" r="1.4"/><circle cx="230.3" cy="233.0" r="1.4"/><circle cx="226.7" cy="234.7" r="1.4"/><circle cx="235.7" cy="228.7" r="1.4"/><circle cx="233.1" cy="230.5" r="1.4"/><circle cx="222.0" cy="237.7" r="1.4"/><circle cx="223.2" cy="237.4" r="1.4"/><circle cx="223.2" cy="237.4" r="1.4"/><circle cx="246.1" cy="215.0" r="1.4"/><circle cx="240.5" cy="220.1" r="1.4"/><circle cx="236.3" cy="217.0" r="1.4"/><circle cx="252.8" cy="206.6" r="1.4"/><circle cx="240.3" cy="217.7" r="1.4"/><circle cx="255.5" cy="209.7" r="1.4"/><circle cx="245.9" cy="210.3" r="1.4"/><circle cx="235.4" cy="215.2" r="1.4"/></g>
<path d="M361.9,237.9 L362.4,232.7 L365.0,228.3 L369.4,223.9 L372.0,226.5 L376.4,223.9 L379.0,223.0 L381.6,220.4 L383.4,216.9 L386.0,218.6 L387.8,223.0 L387.8,230.0 L386.0,233.5 L379.9,236.2 L371.1,237.9 L363.3,238.8Z" fill="#000"/>
<g><circle cx="364.1" cy="224.8" r="1.4"/><circle cx="366.8" cy="228.3" r="1.4"/><circle cx="374.6" cy="217.3" r="1.4"/><circle cx="386.9" cy="208.1" r="1.4"/><circle cx="392.2" cy="209.5" r="1.4"/><circle cx="393.0" cy="208.1" r="1.4"/><circle cx="393.9" cy="205.9" r="1.4"/><circle cx="401.4" cy="203.8" r="1.4"/><circle cx="407.9" cy="208.1" r="1.4"/><circle cx="415.4" cy="206.4" r="1.4"/><circle cx="414.9" cy="202.0" r="1.4"/><circle cx="416.7" cy="200.3" r="1.4"/><circle cx="389.1" cy="215.6" r="1.4"/><circle cx="393.0" cy="214.3" r="1.4"/><circle cx="394.8" cy="214.7" r="1.4"/><circle cx="393.9" cy="218.6" r="1.4"/><circle cx="395.7" cy="218.2" r="1.4"/><circle cx="399.2" cy="218.2" r="1.4"/><circle cx="400.9" cy="218.6" r="1.4"/><circle cx="403.5" cy="216.0" r="1.4"/><circle cx="407.0" cy="216.5" r="1.4"/><circle cx="410.6" cy="216.0" r="1.4"/><circle cx="409.7" cy="220.4" r="1.4"/><circle cx="411.4" cy="220.8" r="1.4"/><circle cx="405.3" cy="220.4" r="1.4"/><circle cx="405.3" cy="223.9" r="1.4"/><circle cx="388.7" cy="218.6" r="1.4"/><circle cx="389.5" cy="221.3" r="1.4"/><circle cx="391.3" cy="222.2" r="1.4"/><circle cx="393.0" cy="223.0" r="1.4"/><circle cx="394.8" cy="224.8" r="1.4"/><circle cx="397.4" cy="224.8" r="1.4"/><circle cx="398.3" cy="228.7" r="1.4"/><circle cx="395.7" cy="231.8" r="1.4"/><circle cx="393.0" cy="228.3" r="1.4"/><circle cx="391.3" cy="230.9" r="1.4"/><circle cx="388.7" cy="232.7" r="1.4"/><circle cx="386.9" cy="234.9" r="1.4"/><circle cx="391.3" cy="225.7" r="1.4"/><circle cx="398.3" cy="223.5" r="1.4"/><circle cx="388.7" cy="225.7" r="1.4"/><circle cx="389.5" cy="228.3" r="1.4"/><circle cx="431.4" cy="171.6" r="1.4"/><circle cx="441.1" cy="178.6" r="1.4"/><circle cx="444.1" cy="179.8" r="1.4"/><circle cx="429.3" cy="190.3" r="1.4"/><circle cx="430.7" cy="191.2" r="1.4"/><circle cx="423.2" cy="200.8" r="1.4"/><circle cx="427.2" cy="200.8" r="1.4"/><circle cx="416.2" cy="200.8" r="1.4"/><circle cx="415.3" cy="203.0" r="1.4"/><circle cx="423.2" cy="205.5" r="1.4"/><circle cx="399.3" cy="192.0" r="1.4"/><circle cx="402.2" cy="191.2" r="1.4"/><circle cx="401.4" cy="204.3" r="1.4"/><circle cx="393.0" cy="206.0" r="1.4"/><circle cx="387.4" cy="208.3" r="1.4"/><circle cx="408.0" cy="207.7" r="1.4"/><circle cx="374.3" cy="217.0" r="1.4"/><circle cx="362.5" cy="237.1" r="1.4"/><circle cx="363.0" cy="234.8" r="1.4"/><circle cx="365.4" cy="229.8" r="1.4"/><circle cx="365.3" cy="229.3" r="1.4"/><circle cx="367.6" cy="227.2" r="1.4"/><circle cx="367.8" cy="227.1" r="1.4"/><circle cx="369.1" cy="225.6" r="1.4"/><circle cx="374.5" cy="226.2" r="1.4"/><circle cx="376.1" cy="225.7" r="1.4"/><circle cx="379.1" cy="224.5" r="1.4"/><circle cx="381.5" cy="221.7" r="1.4"/><circle cx="383.1" cy="218.6" r="1.4"/><circle cx="384.2" cy="219.6" r="1.4"/><circle cx="386.0" cy="220.9" r="1.4"/><circle cx="386.9" cy="226.7" r="1.4"/><circle cx="385.9" cy="224.2" r="1.4"/><circle cx="386.2" cy="231.7" r="1.4"/><circle cx="382.0" cy="234.5" r="1.4"/><circle cx="381.1" cy="234.5" r="1.4"/><circle cx="375.6" cy="236.3" r="1.4"/><circle cx="377.8" cy="235.9" r="1.4"/><circle cx="373.5" cy="235.9" r="1.4"/><circle cx="364.0" cy="238.1" r="1.4"/><circle cx="369.4" cy="236.9" r="1.4"/><circle cx="364.4" cy="237.6" r="1.4"/><circle cx="363.8" cy="237.6" r="1.4"/><circle cx="399.1" cy="228.8" r="1.4"/><circle cx="405.0" cy="221.8" r="1.4"/><circle cx="389.9" cy="214.0" r="1.4"/><circle cx="389.5" cy="215.6" r="1.4"/><circle cx="409.3" cy="220.4" r="1.4"/><circle cx="386.4" cy="225.7" r="1.4"/><circle cx="390.6" cy="230.2" r="1.4"/><circle cx="396.2" cy="226.5" r="1.4"/><circle cx="401.9" cy="227.8" r="1.4"/><circle cx="395.8" cy="214.4" r="1.4"/><circle cx="406.3" cy="221.1" r="1.4"/><circle cx="395.8" cy="228.5" r="1.4"/><circle cx="394.2" cy="225.6" r="1.4"/><circle cx="390.4" cy="217.4" r="1.4"/><circle cx="395.9" cy="216.3" r="1.4"/><circle cx="410.1" cy="220.8" r="1.4"/><circle cx="394.1" cy="231.7" r="1.4"/><circle cx="395.2" cy="218.8" r="1.4"/><circle cx="396.8" cy="220.2" r="1.4"/><circle cx="404.7" cy="216.4" r="1.4"/><circle cx="395.8" cy="212.7" r="1.4"/><circle cx="394.5" cy="214.5" r="1.4"/><circle cx="391.4" cy="231.1" r="1.4"/><circle cx="388.2" cy="227.4" r="1.4"/><circle cx="390.3" cy="221.2" r="1.4"/></g>
<text x="627.60" y="176.20" font-size="8.6" font-weight="bold" fill="#111" stroke="#111" stroke-width="0.28">2</text>
<text x="633.80" y="176.40" font-size="8.6" font-weight="bold" fill="#111" stroke="#111" stroke-width="0.28">1</text>
<text x="589.00" y="225.30" font-size="8.4" font-weight="bold" fill="#111" stroke="#111" stroke-width="0.45" textLength="49" lengthAdjust="spacingAndGlyphs">1:<tspan fill="#3a8a2e" stroke="#3a8a2e">A</tspan><tspan fill="#3a8a2e" stroke="#3a8a2e">A</tspan><tspan fill="#2424c8" stroke="#2424c8">C</tspan><tspan fill="#2424c8" stroke="#2424c8">C</tspan><tspan fill="#e0aa50" stroke="#e0aa50">G</tspan><tspan fill="#2424c8" stroke="#2424c8">C</tspan><tspan fill="#3a8a2e" stroke="#3a8a2e">A</tspan><tspan fill="#3a8a2e" stroke="#3a8a2e">A</tspan></text>
<text x="589.30" y="234.80" font-size="8.4" font-weight="bold" fill="#111" stroke="#111" stroke-width="0.45" textLength="46" lengthAdjust="spacingAndGlyphs">2:<tspan fill="#e03228" stroke="#e03228">T</tspan><tspan fill="#e03228" stroke="#e03228">T</tspan><tspan fill="#e0aa50" stroke="#e0aa50">G</tspan><tspan fill="#2424c8" stroke="#2424c8">C</tspan><tspan fill="#e0aa50" stroke="#e0aa50">G</tspan><tspan fill="#e0aa50" stroke="#e0aa50">G</tspan><tspan fill="#e03228" stroke="#e03228">T</tspan><tspan fill="#e03228" stroke="#e03228">T</tspan></text>
<text x="271.20" y="312.60" font-size="10.4" font-weight="bold" fill="#111" stroke="#111" stroke-width="0.28">Free DNA libraries (SELEX-seq)</text>
<text x="156.20" y="337.00" font-size="10.4" font-weight="bold" fill="#cf7dc8" stroke="#cf7dc8" stroke-width="0.28">W601</text>
<text x="273.00" y="336.80" font-size="10.4" font-weight="bold" font-style="italic" fill="#8a9dd2" stroke="#8a9dd2" stroke-width="0.28">NRCAM</text>
<text x="391.50" y="337.00" font-size="10.4" font-weight="bold" font-style="italic" fill="#6ccaa2" stroke="#6ccaa2" stroke-width="0.28">ALBN1</text>
<text x="497.30" y="337.00" font-size="10.4" font-weight="bold" font-style="italic" fill="#eaa948" stroke="#eaa948" stroke-width="0.28">CX3CR1</text>
<text x="270.00" y="348.30" font-size="8.1" font-weight="bold" fill="#111" stroke="#111" stroke-width="0.35" textLength="62" lengthAdjust="spacingAndGlyphs"><tspan fill="#2424c8" stroke="#2424c8">C</tspan><tspan fill="#2424c8" stroke="#2424c8">C</tspan><tspan fill="#e03228" stroke="#e03228">T</tspan><tspan fill="#e0aa50" stroke="#e0aa50">G</tspan><tspan fill="#e03228" stroke="#e03228">T</tspan><tspan fill="#e0aa50" stroke="#e0aa50">G</tspan><tspan fill="#e0aa50" stroke="#e0aa50">G</tspan><tspan fill="#e03228" stroke="#e03228">T</tspan><tspan fill="#2424c8" stroke="#2424c8">C</tspan><tspan fill="#2424c8" stroke="#2424c8">C</tspan><tspan fill="#3a8a2e" stroke="#3a8a2e">A</tspan><tspan fill="#e03228" stroke="#e03228">T</tspan></text>
<path d="M273.8,349.8 Q284,354 293.5,356.2 L306,356.2 Q316,352.5 326,347.6" stroke="#111" stroke-width="1.6" stroke-dasharray="3.6,2.6" fill="none"/>
<path d="M293.5,356.2 L306,356.2" stroke="#111" stroke-width="1.6" fill="none"/>
<text x="0.00" y="0.00" font-size="10.4" fill="#1e1e1e" stroke="#1e1e1e" stroke-width="0.32"></text>
<text x="45.00" y="392.40" font-size="10.2" font-weight="bold" text-anchor="end" fill="#111" stroke="#111" stroke-width="0.28">CEBPB</text>
<text x="45.00" y="442.30" font-size="10.2" font-weight="bold" text-anchor="end" fill="#111" stroke="#111" stroke-width="0.28">PAX7</text>
<text x="45.00" y="479.00" font-size="10.2" font-weight="bold" text-anchor="end" fill="#111" stroke="#111" stroke-width="0.28">RUNX2</text>
<text x="113.20" y="367.80" font-size="10.2" font-weight="bold" text-anchor="end" fill="#111" stroke="#111" stroke-width="0.45"><tspan fill="#e03228" stroke="#e03228">T</tspan><tspan fill="#e03228" stroke="#e03228">T</tspan><tspan fill="#e0aa50" stroke="#e0aa50">G</tspan><tspan fill="#2424c8" stroke="#2424c8">C</tspan><tspan fill="#e0aa50" stroke="#e0aa50">G</tspan><tspan fill="#2424c8" stroke="#2424c8">C</tspan><tspan fill="#3a8a2e" stroke="#3a8a2e">A</tspan><tspan fill="#3a8a2e" stroke="#3a8a2e">A</tspan></text>
<text x="113.20" y="380.00" font-size="10.2" font-weight="bold" text-anchor="end" fill="#111" stroke="#111" stroke-width="0.45"><tspan fill="#e03228" stroke="#e03228">T</tspan><tspan fill="#e03228" stroke="#e03228">T</tspan><tspan fill="#e0aa50" stroke="#e0aa50">G</tspan><tspan fill="#2424c8" stroke="#2424c8">C</tspan><tspan fill="#e0aa50" stroke="#e0aa50">G</tspan><tspan fill="#e03228" stroke="#e03228">T</tspan><tspan fill="#3a8a2e" stroke="#3a8a2e">A</tspan><tspan fill="#3a8a2e" stroke="#3a8a2e">A</tspan></text>
<text x="113.20" y="392.30" font-size="10.2" font-weight="bold" text-anchor="end" fill="#111" stroke="#111" stroke-width="0.45"><tspan fill="#e03228" stroke="#e03228">T</tspan><tspan fill="#e03228" stroke="#e03228">T</tspan><tspan fill="#3a8a2e" stroke="#3a8a2e">A</tspan><tspan fill="#2424c8" stroke="#2424c8">C</tspan><tspan fill="#e0aa50" stroke="#e0aa50">G</tspan><tspan fill="#2424c8" stroke="#2424c8">C</tspan><tspan fill="#3a8a2e" stroke="#3a8a2e">A</tspan><tspan fill="#3a8a2e" stroke="#3a8a2e">A</tspan></text>
<text x="113.20" y="404.80" font-size="10.2" font-weight="bold" text-anchor="end" fill="#111" stroke="#111" stroke-width="0.45"><tspan fill="#e03228" stroke="#e03228">T</tspan><tspan fill="#e03228" stroke="#e03228">T</tspan><tspan fill="#e0aa50" stroke="#e0aa50">G</tspan><tspan fill="#2424c8" stroke="#2424c8">C</tspan><tspan fill="#e0aa50" stroke="#e0aa50">G</tspan><tspan fill="#3a8a2e" stroke="#3a8a2e">A</tspan><tspan fill="#3a8a2e" stroke="#3a8a2e">A</tspan><tspan fill="#3a8a2e" stroke="#3a8a2e">A</tspan></text>
<text x="113.20" y="418.40" font-size="10.2" font-weight="bold" text-anchor="end" fill="#111" stroke="#111" stroke-width="0.45"><tspan fill="#e03228" stroke="#e03228">T</tspan><tspan fill="#e03228" stroke="#e03228">T</tspan><tspan fill="#e03228" stroke="#e03228">T</tspan><tspan fill="#2424c8" stroke="#2424c8">C</tspan><tspan fill="#e0aa50" stroke="#e0aa50">G</tspan><tspan fill="#2424c8" stroke="#2424c8">C</tspan><tspan fill="#3a8a2e" stroke="#3a8a2e">A</tspan><tspan fill="#3a8a2e" stroke="#3a8a2e">A</tspan></text>
<text x="113.20" y="432.50" font-size="10.2" font-weight="bold" text-anchor="end" fill="#111" stroke="#111" stroke-width="0.45"><tspan fill="#3a8a2e" stroke="#3a8a2e">A</tspan><tspan fill="#3a8a2e" stroke="#3a8a2e">A</tspan><tspan fill="#e03228" stroke="#e03228">T</tspan><tspan fill="#2424c8" stroke="#2424c8">C</tspan><tspan fill="#e0aa50" stroke="#e0aa50">G</tspan><tspan fill="#3a8a2e" stroke="#3a8a2e">A</tspan><tspan fill="#e03228" stroke="#e03228">T</tspan><tspan fill="#e03228" stroke="#e03228">T</tspan></text>
<text x="113.20" y="444.60" font-size="10.2" font-weight="bold" text-anchor="end" fill="#111" stroke="#111" stroke-width="0.45"><tspan fill="#3a8a2e" stroke="#3a8a2e">A</tspan><tspan fill="#3a8a2e" stroke="#3a8a2e">A</tspan><tspan fill="#e03228" stroke="#e03228">T</tspan><tspan fill="#e03228" stroke="#e03228">T</tspan><tspan fill="#e0aa50" stroke="#e0aa50">G</tspan><tspan fill="#3a8a2e" stroke="#3a8a2e">A</tspan><tspan fill="#e03228" stroke="#e03228">T</tspan><tspan fill="#e03228" stroke="#e03228">T</tspan></text>
<text x="113.20" y="457.10" font-size="10.2" font-weight="bold" text-anchor="end" fill="#111" stroke="#111" stroke-width="0.45"><tspan fill="#3a8a2e" stroke="#3a8a2e">A</tspan><tspan fill="#3a8a2e" stroke="#3a8a2e">A</tspan><tspan fill="#e03228" stroke="#e03228">T</tspan><tspan fill="#2424c8" stroke="#2424c8">C</tspan><tspan fill="#3a8a2e" stroke="#3a8a2e">A</tspan><tspan fill="#3a8a2e" stroke="#3a8a2e">A</tspan><tspan fill="#e03228" stroke="#e03228">T</tspan><tspan fill="#e03228" stroke="#e03228">T</tspan></text>
<text x="113.20" y="471.10" font-size="10.2" font-weight="bold" text-anchor="end" fill="#111" stroke="#111" stroke-width="0.45"><tspan fill="#e03228" stroke="#e03228">T</tspan><tspan fill="#e03228" stroke="#e03228">T</tspan><tspan fill="#e0aa50" stroke="#e0aa50">G</tspan><tspan fill="#2424c8" stroke="#2424c8">C</tspan><tspan fill="#e0aa50" stroke="#e0aa50">G</tspan><tspan fill="#e0aa50" stroke="#e0aa50">G</tspan><tspan fill="#e03228" stroke="#e03228">T</tspan><tspan fill="#e03228" stroke="#e03228">T</tspan></text>
<text x="113.20" y="483.20" font-size="10.2" font-weight="bold" text-anchor="end" fill="#111" stroke="#111" stroke-width="0.45"><tspan fill="#3a8a2e" stroke="#3a8a2e">A</tspan><tspan fill="#3a8a2e" stroke="#3a8a2e">A</tspan><tspan fill="#2424c8" stroke="#2424c8">C</tspan><tspan fill="#2424c8" stroke="#2424c8">C</tspan><tspan fill="#e0aa50" stroke="#e0aa50">G</tspan><tspan fill="#2424c8" stroke="#2424c8">C</tspan><tspan fill="#3a8a2e" stroke="#3a8a2e">A</tspan><tspan fill="#3a8a2e" stroke="#3a8a2e">A</tspan></text>
<g transform="translate(0,356.8)"><rect x="133.0" width="1.05" height="11.6" fill="#f3f3f3"/><rect x="134.0" width="1.05" height="11.6" fill="#e8e8e8"/><rect x="135.0" width="1.05" height="11.6" fill="#dcdcdc"/><rect x="136.0" width="1.05" height="11.6" fill="#cecece"/><rect x="137.0" width="1.05" height="11.6" fill="#c5c5c5"/><rect x="138.0" width="1.05" height="11.6" fill="#c4c4c4"/><rect x="139.0" width="1.05" height="11.6" fill="#c4c4c4"/><rect x="140.0" width="1.05" height="11.6" fill="#cfcfcf"/><rect x="141.0" width="1.05" height="11.6" fill="#cecece"/><rect x="142.0" width="1.05" height="11.6" fill="#cdcdcd"/><rect x="143.0" width="1.05" height="11.6" fill="#d9d9d9"/><rect x="144.0" width="1.05" height="11.6" fill="#d8d8d8"/><rect x="145.0" width="1.05" height="11.6" fill="#d7d7d7"/><rect x="146.0" width="1.05" height="11.6" fill="#cecece"/><rect x="147.0" width="1.05" height="11.6" fill="#cecece"/><rect x="148.0" width="1.05" height="11.6" fill="#d5d5d5"/><rect x="149.0" width="1.05" height="11.6" fill="#d0d0d0"/><rect x="150.0" width="1.05" height="11.6" fill="#c2c2c2"/><rect x="151.0" width="1.05" height="11.6" fill="#b3b3b3"/><rect x="152.0" width="1.05" height="11.6" fill="#aaaaaa"/><rect x="153.0" width="1.05" height="11.6" fill="#a9a9a9"/><rect x="154.0" width="1.05" height="11.6" fill="#b0b0b0"/><rect x="155.0" width="1.05" height="11.6" fill="#b4b4b4"/><rect x="156.0" width="1.05" height="11.6" fill="#b6b6b6"/><rect x="157.0" width="1.05" height="11.6" fill="#bcbcbc"/><rect x="158.0" width="1.05" height="11.6" fill="#b6b6b6"/><rect x="159.0" width="1.05" height="11.6" fill="#aaaaaa"/><rect x="160.0" width="1.05" height="11.6" fill="#a4a4a4"/><rect x="161.0" width="1.05" height="11.6" fill="#aeaeae"/><rect x="162.0" width="1.05" height="11.6" fill="#b2b2b2"/><rect x="163.0" width="1.05" height="11.6" fill="#acacac"/><rect x="164.0" width="1.05" height="11.6" fill="#a8a8a8"/><rect x="165.0" width="1.05" height="11.6" fill="#adadad"/><rect x="166.0" width="1.05" height="11.6" fill="#b1b1b1"/><rect x="167.0" width="1.05" height="11.6" fill="#b9b9b9"/><rect x="168.0" width="1.05" height="11.6" fill="#b6b6b6"/><rect x="169.0" width="1.05" height="11.6" fill="#b2b2b2"/><rect x="170.0" width="1.05" height="11.6" fill="#bbbbbb"/><rect x="171.0" width="1.05" height="11.6" fill="#bbbbbb"/><rect x="172.0" width="1.05" height="11.6" fill="#b5b5b5"/><rect x="173.0" width="1.05" height="11.6" fill="#bebebe"/><rect x="174.0" width="1.05" height="11.6" fill="#c2c2c2"/><rect x="175.0" width="1.05" height="11.6" fill="#bcbcbc"/><rect x="176.0" width="1.05" height="11.6" fill="#c6c6c6"/><rect x="177.0" width="1.05" height="11.6" fill="#d1d1d1"/><rect x="178.0" width="1.05" height="11.6" fill="#cccccc"/><rect x="179.0" width="1.05" height="11.6" fill="#d0d0d0"/><rect x="180.0" width="1.05" height="11.6" fill="#d6d6d6"/><rect x="181.0" width="1.05" height="11.6" fill="#cacaca"/><rect x="182.0" width="1.05" height="11.6" fill="#d3d3d3"/><rect x="183.0" width="1.05" height="11.6" fill="#dadada"/><rect x="184.0" width="1.05" height="11.6" fill="#d3d3d3"/><rect x="185.0" width="1.05" height="11.6" fill="#d4d4d4"/><rect x="186.0" width="1.05" height="11.6" fill="#cbcbcb"/><rect x="187.0" width="1.05" height="11.6" fill="#bcbcbc"/><rect x="188.0" width="1.05" height="11.6" fill="#b7b7b7"/><rect x="189.0" width="1.05" height="11.6" fill="#b7b7b7"/><rect x="190.0" width="1.05" height="11.6" fill="#b6b6b6"/><rect x="191.0" width="1.05" height="11.6" fill="#c2c2c2"/><rect x="192.0" width="1.05" height="11.6" fill="#bebebe"/><rect x="193.0" width="1.05" height="11.6" fill="#bbbbbb"/><rect x="194.0" width="1.05" height="11.6" fill="#bdbdbd"/><rect x="195.0" width="1.05" height="11.6" fill="#bdbdbd"/><rect x="196.0" width="1.05" height="11.6" fill="#b7b7b7"/><rect x="197.0" width="1.05" height="11.6" fill="#afafaf"/><rect x="198.0" width="1.05" height="11.6" fill="#b0b0b0"/><rect x="199.0" width="1.05" height="11.6" fill="#b4b4b4"/><rect x="200.0" width="1.05" height="11.6" fill="#bebebe"/><rect x="201.0" width="1.05" height="11.6" fill="#b4b4b4"/><rect x="202.0" width="1.05" height="11.6" fill="#b8b8b8"/><rect x="203.0" width="1.05" height="11.6" fill="#d0d0d0"/><rect x="204.0" width="1.05" height="11.6" fill="#d9d9d9"/><rect x="205.0" width="1.05" height="11.6" fill="#e7e7e7"/><rect x="206.0" width="1.05" height="11.6" fill="#f5f5f5"/></g><g transform="translate(0,369.6)"><rect x="133.0" width="1.05" height="11.4" fill="#f4f4f4"/><rect x="134.0" width="1.05" height="11.4" fill="#e9e9e9"/><rect x="135.0" width="1.05" height="11.4" fill="#dcdcdc"/><rect x="136.0" width="1.05" height="11.4" fill="#cfcfcf"/><rect x="137.0" width="1.05" height="11.4" fill="#c6c6c6"/><rect x="138.0" width="1.05" height="11.4" fill="#c6c6c6"/><rect x="139.0" width="1.05" height="11.4" fill="#cbcbcb"/><rect x="140.0" width="1.05" height="11.4" fill="#d7d7d7"/><rect x="141.0" width="1.05" height="11.4" fill="#d3d3d3"/><rect x="142.0" width="1.05" height="11.4" fill="#c4c4c4"/><rect x="143.0" width="1.05" height="11.4" fill="#cacaca"/><rect x="144.0" width="1.05" height="11.4" fill="#d1d1d1"/><rect x="145.0" width="1.05" height="11.4" fill="#d5d5d5"/><rect x="146.0" width="1.05" height="11.4" fill="#cfcfcf"/><rect x="147.0" width="1.05" height="11.4" fill="#d0d0d0"/><rect x="148.0" width="1.05" height="11.4" fill="#d4d4d4"/><rect x="149.0" width="1.05" height="11.4" fill="#d3d3d3"/><rect x="150.0" width="1.05" height="11.4" fill="#c7c7c7"/><rect x="151.0" width="1.05" height="11.4" fill="#b0b0b0"/><rect x="152.0" width="1.05" height="11.4" fill="#a6a6a6"/><rect x="153.0" width="1.05" height="11.4" fill="#adadad"/><rect x="154.0" width="1.05" height="11.4" fill="#ababab"/><rect x="155.0" width="1.05" height="11.4" fill="#aaaaaa"/><rect x="156.0" width="1.05" height="11.4" fill="#afafaf"/><rect x="157.0" width="1.05" height="11.4" fill="#b7b7b7"/><rect x="158.0" width="1.05" height="11.4" fill="#bcbcbc"/><rect x="159.0" width="1.05" height="11.4" fill="#b0b0b0"/><rect x="160.0" width="1.05" height="11.4" fill="#a9a9a9"/><rect x="161.0" width="1.05" height="11.4" fill="#b6b6b6"/><rect x="162.0" width="1.05" height="11.4" fill="#b8b8b8"/><rect x="163.0" width="1.05" height="11.4" fill="#adadad"/><rect x="164.0" width="1.05" height="11.4" fill="#acacac"/><rect x="165.0" width="1.05" height="11.4" fill="#ababab"/><rect x="166.0" width="1.05" height="11.4" fill="#a4a4a4"/><rect x="167.0" width="1.05" height="11.4" fill="#b4b4b4"/><rect x="168.0" width="1.05" height="11.4" fill="#bababa"/><rect x="169.0" width="1.05" height="11.4" fill="#b1b1b1"/><rect x="170.0" width="1.05" height="11.4" fill="#b8b8b8"/><rect x="171.0" width="1.05" height="11.4" fill="#bbbbbb"/><rect x="172.0" width="1.05" height="11.4" fill="#bbbbbb"/><rect x="173.0" width="1.05" height="11.4" fill="#c5c5c5"/><rect x="174.0" width="1.05" height="11.4" fill="#c3c3c3"/><rect x="175.0" width="1.05" height="11.4" fill="#bababa"/><rect x="176.0" width="1.05" height="11.4" fill="#b9b9b9"/><rect x="177.0" width="1.05" height="11.4" fill="#cccccc"/><rect x="178.0" width="1.05" height="11.4" fill="#cacaca"/><rect x="179.0" width="1.05" height="11.4" fill="#d4d4d4"/><rect x="180.0" width="1.05" height="11.4" fill="#d8d8d8"/><rect x="181.0" width="1.05" height="11.4" fill="#cdcdcd"/><rect x="182.0" width="1.05" height="11.4" fill="#cfcfcf"/><rect x="183.0" width="1.05" height="11.4" fill="#dcdcdc"/><rect x="184.0" width="1.05" height="11.4" fill="#c6c6c6"/><rect x="185.0" width="1.05" height="11.4" fill="#bfbfbf"/><rect x="186.0" width="1.05" height="11.4" fill="#c9c9c9"/><rect x="187.0" width="1.05" height="11.4" fill="#c5c5c5"/><rect x="188.0" width="1.05" height="11.4" fill="#bdbdbd"/><rect x="189.0" width="1.05" height="11.4" fill="#b5b5b5"/><rect x="190.0" width="1.05" height="11.4" fill="#b6b6b6"/><rect x="191.0" width="1.05" height="11.4" fill="#bbbbbb"/><rect x="192.0" width="1.05" height="11.4" fill="#bcbcbc"/><rect x="193.0" width="1.05" height="11.4" fill="#bdbdbd"/><rect x="194.0" width="1.05" height="11.4" fill="#bbbbbb"/><rect x="195.0" width="1.05" height="11.4" fill="#b4b4b4"/><rect x="196.0" width="1.05" height="11.4" fill="#a5a5a5"/><rect x="197.0" width="1.05" height="11.4" fill="#9e9e9e"/><rect x="198.0" width="1.05" height="11.4" fill="#a5a5a5"/><rect x="199.0" width="1.05" height="11.4" fill="#aaaaaa"/><rect x="200.0" width="1.05" height="11.4" fill="#b8b8b8"/><rect x="201.0" width="1.05" height="11.4" fill="#b3b3b3"/><rect x="202.0" width="1.05" height="11.4" fill="#b3b3b3"/><rect x="203.0" width="1.05" height="11.4" fill="#cdcdcd"/><rect x="204.0" width="1.05" height="11.4" fill="#dbdbdb"/><rect x="205.0" width="1.05" height="11.4" fill="#e7e7e7"/><rect x="206.0" width="1.05" height="11.4" fill="#f4f4f4"/></g><g transform="translate(0,382.1)"><rect x="133.0" width="1.05" height="13.0" fill="#f3f3f3"/><rect x="134.0" width="1.05" height="13.0" fill="#e9e9e9"/><rect x="135.0" width="1.05" height="13.0" fill="#dedede"/><rect x="136.0" width="1.05" height="13.0" fill="#cfcfcf"/><rect x="137.0" width="1.05" height="13.0" fill="#c5c5c5"/><rect x="138.0" width="1.05" height="13.0" fill="#c2c2c2"/><rect x="139.0" width="1.05" height="13.0" fill="#c8c8c8"/><rect x="140.0" width="1.05" height="13.0" fill="#d3d3d3"/><rect x="141.0" width="1.05" height="13.0" fill="#cdcdcd"/><rect x="142.0" width="1.05" height="13.0" fill="#c7c7c7"/><rect x="143.0" width="1.05" height="13.0" fill="#cfcfcf"/><rect x="144.0" width="1.05" height="13.0" fill="#d2d2d2"/><rect x="145.0" width="1.05" height="13.0" fill="#cdcdcd"/><rect x="146.0" width="1.05" height="13.0" fill="#c7c7c7"/><rect x="147.0" width="1.05" height="13.0" fill="#c9c9c9"/><rect x="148.0" width="1.05" height="13.0" fill="#d0d0d0"/><rect x="149.0" width="1.05" height="13.0" fill="#c5c5c5"/><rect x="150.0" width="1.05" height="13.0" fill="#bababa"/><rect x="151.0" width="1.05" height="13.0" fill="#b2b2b2"/><rect x="152.0" width="1.05" height="13.0" fill="#a8a8a8"/><rect x="153.0" width="1.05" height="13.0" fill="#a5a5a5"/><rect x="154.0" width="1.05" height="13.0" fill="#acacac"/><rect x="155.0" width="1.05" height="13.0" fill="#b3b3b3"/><rect x="156.0" width="1.05" height="13.0" fill="#afafaf"/><rect x="157.0" width="1.05" height="13.0" fill="#b6b6b6"/><rect x="158.0" width="1.05" height="13.0" fill="#bbbbbb"/><rect x="159.0" width="1.05" height="13.0" fill="#b1b1b1"/><rect x="160.0" width="1.05" height="13.0" fill="#b1b1b1"/><rect x="161.0" width="1.05" height="13.0" fill="#bcbcbc"/><rect x="162.0" width="1.05" height="13.0" fill="#b9b9b9"/><rect x="163.0" width="1.05" height="13.0" fill="#b0b0b0"/><rect x="164.0" width="1.05" height="13.0" fill="#aeaeae"/><rect x="165.0" width="1.05" height="13.0" fill="#adadad"/><rect x="166.0" width="1.05" height="13.0" fill="#a8a8a8"/><rect x="167.0" width="1.05" height="13.0" fill="#b9b9b9"/><rect x="168.0" width="1.05" height="13.0" fill="#bbbbbb"/><rect x="169.0" width="1.05" height="13.0" fill="#b5b5b5"/><rect x="170.0" width="1.05" height="13.0" fill="#bababa"/><rect x="171.0" width="1.05" height="13.0" fill="#bbbbbb"/><rect x="172.0" width="1.05" height="13.0" fill="#bbbbbb"/><rect x="173.0" width="1.05" height="13.0" fill="#c1c1c1"/><rect x="174.0" width="1.05" height="13.0" fill="#c3c3c3"/><rect x="175.0" width="1.05" height="13.0" fill="#bebebe"/><rect x="176.0" width="1.05" height="13.0" fill="#bdbdbd"/><rect x="177.0" width="1.05" height="13.0" fill="#cecece"/><rect x="178.0" width="1.05" height="13.0" fill="#cbcbcb"/><rect x="179.0" width="1.05" height="13.0" fill="#d1d1d1"/><rect x="180.0" width="1.05" height="13.0" fill="#d5d5d5"/><rect x="181.0" width="1.05" height="13.0" fill="#c9c9c9"/><rect x="182.0" width="1.05" height="13.0" fill="#d6d6d6"/><rect x="183.0" width="1.05" height="13.0" fill="#dcdcdc"/><rect x="184.0" width="1.05" height="13.0" fill="#c9c9c9"/><rect x="185.0" width="1.05" height="13.0" fill="#c8c8c8"/><rect x="186.0" width="1.05" height="13.0" fill="#cbcbcb"/><rect x="187.0" width="1.05" height="13.0" fill="#c1c1c1"/><rect x="188.0" width="1.05" height="13.0" fill="#b8b8b8"/><rect x="189.0" width="1.05" height="13.0" fill="#b4b4b4"/><rect x="190.0" width="1.05" height="13.0" fill="#b5b5b5"/><rect x="191.0" width="1.05" height="13.0" fill="#c3c3c3"/><rect x="192.0" width="1.05" height="13.0" fill="#bcbcbc"/><rect x="193.0" width="1.05" height="13.0" fill="#b5b5b5"/><rect x="194.0" width="1.05" height="13.0" fill="#c0c0c0"/><rect x="195.0" width="1.05" height="13.0" fill="#c1c1c1"/><rect x="196.0" width="1.05" height="13.0" fill="#b7b7b7"/><rect x="197.0" width="1.05" height="13.0" fill="#b1b1b1"/><rect x="198.0" width="1.05" height="13.0" fill="#aaaaaa"/><rect x="199.0" width="1.05" height="13.0" fill="#acacac"/><rect x="200.0" width="1.05" height="13.0" fill="#b8b8b8"/><rect x="201.0" width="1.05" height="13.0" fill="#b7b7b7"/><rect x="202.0" width="1.05" height="13.0" fill="#b8b8b8"/><rect x="203.0" width="1.05" height="13.0" fill="#cfcfcf"/><rect x="204.0" width="1.05" height="13.0" fill="#dcdcdc"/><rect x="205.0" width="1.05" height="13.0" fill="#e9e9e9"/><rect x="206.0" width="1.05" height="13.0" fill="#f5f5f5"/></g><g transform="translate(0,396.3)"><rect x="133.0" width="1.05" height="9.8" fill="#f4f4f4"/><rect x="134.0" width="1.05" height="9.8" fill="#eaeaea"/><rect x="135.0" width="1.05" height="9.8" fill="#dcdcdc"/><rect x="136.0" width="1.05" height="9.8" fill="#cdcdcd"/><rect x="137.0" width="1.05" height="9.8" fill="#cbcbcb"/><rect x="138.0" width="1.05" height="9.8" fill="#cbcbcb"/><rect x="139.0" width="1.05" height="9.8" fill="#cccccc"/><rect x="140.0" width="1.05" height="9.8" fill="#d5d5d5"/><rect x="141.0" width="1.05" height="9.8" fill="#d0d0d0"/><rect x="142.0" width="1.05" height="9.8" fill="#c7c7c7"/><rect x="143.0" width="1.05" height="9.8" fill="#cfcfcf"/><rect x="144.0" width="1.05" height="9.8" fill="#d3d3d3"/><rect x="145.0" width="1.05" height="9.8" fill="#d4d4d4"/><rect x="146.0" width="1.05" height="9.8" fill="#cecece"/><rect x="147.0" width="1.05" height="9.8" fill="#cfcfcf"/><rect x="148.0" width="1.05" height="9.8" fill="#d5d5d5"/><rect x="149.0" width="1.05" height="9.8" fill="#cdcdcd"/><rect x="150.0" width="1.05" height="9.8" fill="#bebebe"/><rect x="151.0" width="1.05" height="9.8" fill="#bababa"/><rect x="152.0" width="1.05" height="9.8" fill="#b0b0b0"/><rect x="153.0" width="1.05" height="9.8" fill="#aaaaaa"/><rect x="154.0" width="1.05" height="9.8" fill="#b1b1b1"/><rect x="155.0" width="1.05" height="9.8" fill="#b8b8b8"/><rect x="156.0" width="1.05" height="9.8" fill="#b6b6b6"/><rect x="157.0" width="1.05" height="9.8" fill="#b8b8b8"/><rect x="158.0" width="1.05" height="9.8" fill="#bbbbbb"/><rect x="159.0" width="1.05" height="9.8" fill="#b0b0b0"/><rect x="160.0" width="1.05" height="9.8" fill="#b0b0b0"/><rect x="161.0" width="1.05" height="9.8" fill="#bdbdbd"/><rect x="162.0" width="1.05" height="9.8" fill="#bfbfbf"/><rect x="163.0" width="1.05" height="9.8" fill="#b6b6b6"/><rect x="164.0" width="1.05" height="9.8" fill="#b6b6b6"/><rect x="165.0" width="1.05" height="9.8" fill="#b6b6b6"/><rect x="166.0" width="1.05" height="9.8" fill="#aeaeae"/><rect x="167.0" width="1.05" height="9.8" fill="#b5b5b5"/><rect x="168.0" width="1.05" height="9.8" fill="#b9b9b9"/><rect x="169.0" width="1.05" height="9.8" fill="#b6b6b6"/><rect x="170.0" width="1.05" height="9.8" fill="#c1c1c1"/><rect x="171.0" width="1.05" height="9.8" fill="#c6c6c6"/><rect x="172.0" width="1.05" height="9.8" fill="#bebebe"/><rect x="173.0" width="1.05" height="9.8" fill="#c2c2c2"/><rect x="174.0" width="1.05" height="9.8" fill="#c7c7c7"/><rect x="175.0" width="1.05" height="9.8" fill="#bebebe"/><rect x="176.0" width="1.05" height="9.8" fill="#c1c1c1"/><rect x="177.0" width="1.05" height="9.8" fill="#cdcdcd"/><rect x="178.0" width="1.05" height="9.8" fill="#c2c2c2"/><rect x="179.0" width="1.05" height="9.8" fill="#c5c5c5"/><rect x="180.0" width="1.05" height="9.8" fill="#d2d2d2"/><rect x="181.0" width="1.05" height="9.8" fill="#c6c6c6"/><rect x="182.0" width="1.05" height="9.8" fill="#d3d3d3"/><rect x="183.0" width="1.05" height="9.8" fill="#dadada"/><rect x="184.0" width="1.05" height="9.8" fill="#cccccc"/><rect x="185.0" width="1.05" height="9.8" fill="#c7c7c7"/><rect x="186.0" width="1.05" height="9.8" fill="#c5c5c5"/><rect x="187.0" width="1.05" height="9.8" fill="#b7b7b7"/><rect x="188.0" width="1.05" height="9.8" fill="#b5b5b5"/><rect x="189.0" width="1.05" height="9.8" fill="#b2b2b2"/><rect x="190.0" width="1.05" height="9.8" fill="#bababa"/><rect x="191.0" width="1.05" height="9.8" fill="#c7c7c7"/><rect x="192.0" width="1.05" height="9.8" fill="#c0c0c0"/><rect x="193.0" width="1.05" height="9.8" fill="#bababa"/><rect x="194.0" width="1.05" height="9.8" fill="#c0c0c0"/><rect x="195.0" width="1.05" height="9.8" fill="#b9b9b9"/><rect x="196.0" width="1.05" height="9.8" fill="#acacac"/><rect x="197.0" width="1.05" height="9.8" fill="#a5a5a5"/><rect x="198.0" width="1.05" height="9.8" fill="#a3a3a3"/><rect x="199.0" width="1.05" height="9.8" fill="#adadad"/><rect x="200.0" width="1.05" height="9.8" fill="#bababa"/><rect x="201.0" width="1.05" height="9.8" fill="#b6b6b6"/><rect x="202.0" width="1.05" height="9.8" fill="#b7b7b7"/><rect x="203.0" width="1.05" height="9.8" fill="#cccccc"/><rect x="204.0" width="1.05" height="9.8" fill="#d6d6d6"/><rect x="205.0" width="1.05" height="9.8" fill="#e5e5e5"/><rect x="206.0" width="1.05" height="9.8" fill="#f4f4f4"/></g><g transform="translate(0,407.3)"><rect x="133.0" width="1.05" height="13.0" fill="#f3f3f3"/><rect x="134.0" width="1.05" height="13.0" fill="#e9e9e9"/><rect x="135.0" width="1.05" height="13.0" fill="#dcdcdc"/><rect x="136.0" width="1.05" height="13.0" fill="#cbcbcb"/><rect x="137.0" width="1.05" height="13.0" fill="#bdbdbd"/><rect x="138.0" width="1.05" height="13.0" fill="#bfbfbf"/><rect x="139.0" width="1.05" height="13.0" fill="#c4c4c4"/><rect x="140.0" width="1.05" height="13.0" fill="#d0d0d0"/><rect x="141.0" width="1.05" height="13.0" fill="#d4d4d4"/><rect x="142.0" width="1.05" height="13.0" fill="#c9c9c9"/><rect x="143.0" width="1.05" height="13.0" fill="#cdcdcd"/><rect x="144.0" width="1.05" height="13.0" fill="#d3d3d3"/><rect x="145.0" width="1.05" height="13.0" fill="#dadada"/><rect x="146.0" width="1.05" height="13.0" fill="#dadada"/><rect x="147.0" width="1.05" height="13.0" fill="#dddddd"/><rect x="148.0" width="1.05" height="13.0" fill="#dddddd"/><rect x="149.0" width="1.05" height="13.0" fill="#d4d4d4"/><rect x="150.0" width="1.05" height="13.0" fill="#c3c3c3"/><rect x="151.0" width="1.05" height="13.0" fill="#b3b3b3"/><rect x="152.0" width="1.05" height="13.0" fill="#adadad"/><rect x="153.0" width="1.05" height="13.0" fill="#aaaaaa"/><rect x="154.0" width="1.05" height="13.0" fill="#acacac"/><rect x="155.0" width="1.05" height="13.0" fill="#b3b3b3"/><rect x="156.0" width="1.05" height="13.0" fill="#b4b4b4"/><rect x="157.0" width="1.05" height="13.0" fill="#b9b9b9"/><rect x="158.0" width="1.05" height="13.0" fill="#b3b3b3"/><rect x="159.0" width="1.05" height="13.0" fill="#a9a9a9"/><rect x="160.0" width="1.05" height="13.0" fill="#ababab"/><rect x="161.0" width="1.05" height="13.0" fill="#b5b5b5"/><rect x="162.0" width="1.05" height="13.0" fill="#b7b7b7"/><rect x="163.0" width="1.05" height="13.0" fill="#afafaf"/><rect x="164.0" width="1.05" height="13.0" fill="#a5a5a5"/><rect x="165.0" width="1.05" height="13.0" fill="#a9a9a9"/><rect x="166.0" width="1.05" height="13.0" fill="#b0b0b0"/><rect x="167.0" width="1.05" height="13.0" fill="#bababa"/><rect x="168.0" width="1.05" height="13.0" fill="#b7b7b7"/><rect x="169.0" width="1.05" height="13.0" fill="#b2b2b2"/><rect x="170.0" width="1.05" height="13.0" fill="#b8b8b8"/><rect x="171.0" width="1.05" height="13.0" fill="#b7b7b7"/><rect x="172.0" width="1.05" height="13.0" fill="#b4b4b4"/><rect x="173.0" width="1.05" height="13.0" fill="#c1c1c1"/><rect x="174.0" width="1.05" height="13.0" fill="#c1c1c1"/><rect x="175.0" width="1.05" height="13.0" fill="#c1c1c1"/><rect x="176.0" width="1.05" height="13.0" fill="#c3c3c3"/><rect x="177.0" width="1.05" height="13.0" fill="#cbcbcb"/><rect x="178.0" width="1.05" height="13.0" fill="#cecece"/><rect x="179.0" width="1.05" height="13.0" fill="#d4d4d4"/><rect x="180.0" width="1.05" height="13.0" fill="#d4d4d4"/><rect x="181.0" width="1.05" height="13.0" fill="#cdcdcd"/><rect x="182.0" width="1.05" height="13.0" fill="#dbdbdb"/><rect x="183.0" width="1.05" height="13.0" fill="#e3e3e3"/><rect x="184.0" width="1.05" height="13.0" fill="#cecece"/><rect x="185.0" width="1.05" height="13.0" fill="#c7c7c7"/><rect x="186.0" width="1.05" height="13.0" fill="#cdcdcd"/><rect x="187.0" width="1.05" height="13.0" fill="#c2c2c2"/><rect x="188.0" width="1.05" height="13.0" fill="#b8b8b8"/><rect x="189.0" width="1.05" height="13.0" fill="#bababa"/><rect x="190.0" width="1.05" height="13.0" fill="#bdbdbd"/><rect x="191.0" width="1.05" height="13.0" fill="#c5c5c5"/><rect x="192.0" width="1.05" height="13.0" fill="#c1c1c1"/><rect x="193.0" width="1.05" height="13.0" fill="#bfbfbf"/><rect x="194.0" width="1.05" height="13.0" fill="#c1c1c1"/><rect x="195.0" width="1.05" height="13.0" fill="#bebebe"/><rect x="196.0" width="1.05" height="13.0" fill="#b9b9b9"/><rect x="197.0" width="1.05" height="13.0" fill="#b4b4b4"/><rect x="198.0" width="1.05" height="13.0" fill="#b3b3b3"/><rect x="199.0" width="1.05" height="13.0" fill="#b8b8b8"/><rect x="200.0" width="1.05" height="13.0" fill="#c2c2c2"/><rect x="201.0" width="1.05" height="13.0" fill="#c1c1c1"/><rect x="202.0" width="1.05" height="13.0" fill="#c0c0c0"/><rect x="203.0" width="1.05" height="13.0" fill="#cfcfcf"/><rect x="204.0" width="1.05" height="13.0" fill="#dcdcdc"/><rect x="205.0" width="1.05" height="13.0" fill="#e8e8e8"/><rect x="206.0" width="1.05" height="13.0" fill="#f6f6f6"/></g><g transform="translate(0,421.3)"><rect x="133.0" width="1.05" height="10.7" fill="#f5f5f5"/><rect x="134.0" width="1.05" height="10.7" fill="#ececec"/><rect x="135.0" width="1.05" height="10.7" fill="#e1e1e1"/><rect x="136.0" width="1.05" height="10.7" fill="#d7d7d7"/><rect x="137.0" width="1.05" height="10.7" fill="#cccccc"/><rect x="138.0" width="1.05" height="10.7" fill="#c7c7c7"/><rect x="139.0" width="1.05" height="10.7" fill="#c8c8c8"/><rect x="140.0" width="1.05" height="10.7" fill="#c8c8c8"/><rect x="141.0" width="1.05" height="10.7" fill="#cbcbcb"/><rect x="142.0" width="1.05" height="10.7" fill="#d5d5d5"/><rect x="143.0" width="1.05" height="10.7" fill="#d2d2d2"/><rect x="144.0" width="1.05" height="10.7" fill="#cdcdcd"/><rect x="145.0" width="1.05" height="10.7" fill="#cfcfcf"/><rect x="146.0" width="1.05" height="10.7" fill="#d3d3d3"/><rect x="147.0" width="1.05" height="10.7" fill="#d8d8d8"/><rect x="148.0" width="1.05" height="10.7" fill="#e6e6e6"/><rect x="149.0" width="1.05" height="10.7" fill="#e0e0e0"/><rect x="150.0" width="1.05" height="10.7" fill="#d3d3d3"/><rect x="151.0" width="1.05" height="10.7" fill="#c9c9c9"/><rect x="152.0" width="1.05" height="10.7" fill="#c9c9c9"/><rect x="153.0" width="1.05" height="10.7" fill="#cecece"/><rect x="154.0" width="1.05" height="10.7" fill="#c8c8c8"/><rect x="155.0" width="1.05" height="10.7" fill="#bebebe"/><rect x="156.0" width="1.05" height="10.7" fill="#bdbdbd"/><rect x="157.0" width="1.05" height="10.7" fill="#c2c2c2"/><rect x="158.0" width="1.05" height="10.7" fill="#c0c0c0"/><rect x="159.0" width="1.05" height="10.7" fill="#c8c8c8"/><rect x="160.0" width="1.05" height="10.7" fill="#c5c5c5"/><rect x="161.0" width="1.05" height="10.7" fill="#c4c4c4"/><rect x="162.0" width="1.05" height="10.7" fill="#cdcdcd"/><rect x="163.0" width="1.05" height="10.7" fill="#c8c8c8"/><rect x="164.0" width="1.05" height="10.7" fill="#bfbfbf"/><rect x="165.0" width="1.05" height="10.7" fill="#d0d0d0"/><rect x="166.0" width="1.05" height="10.7" fill="#e0e0e0"/><rect x="167.0" width="1.05" height="10.7" fill="#e1e1e1"/><rect x="168.0" width="1.05" height="10.7" fill="#d5d5d5"/><rect x="169.0" width="1.05" height="10.7" fill="#dbdbdb"/><rect x="170.0" width="1.05" height="10.7" fill="#e3e3e3"/><rect x="171.0" width="1.05" height="10.7" fill="#d7d7d7"/><rect x="172.0" width="1.05" height="10.7" fill="#d1d1d1"/><rect x="173.0" width="1.05" height="10.7" fill="#d9d9d9"/><rect x="174.0" width="1.05" height="10.7" fill="#d6d6d6"/><rect x="175.0" width="1.05" height="10.7" fill="#dbdbdb"/><rect x="176.0" width="1.05" height="10.7" fill="#d9d9d9"/><rect x="177.0" width="1.05" height="10.7" fill="#d2d2d2"/><rect x="178.0" width="1.05" height="10.7" fill="#dcdcdc"/><rect x="179.0" width="1.05" height="10.7" fill="#d7d7d7"/><rect x="180.0" width="1.05" height="10.7" fill="#d2d2d2"/><rect x="181.0" width="1.05" height="10.7" fill="#d3d3d3"/><rect x="182.0" width="1.05" height="10.7" fill="#c9c9c9"/><rect x="183.0" width="1.05" height="10.7" fill="#c5c5c5"/><rect x="184.0" width="1.05" height="10.7" fill="#c7c7c7"/><rect x="185.0" width="1.05" height="10.7" fill="#bebebe"/><rect x="186.0" width="1.05" height="10.7" fill="#bfbfbf"/><rect x="187.0" width="1.05" height="10.7" fill="#bfbfbf"/><rect x="188.0" width="1.05" height="10.7" fill="#bdbdbd"/><rect x="189.0" width="1.05" height="10.7" fill="#bfbfbf"/><rect x="190.0" width="1.05" height="10.7" fill="#bbbbbb"/><rect x="191.0" width="1.05" height="10.7" fill="#c9c9c9"/><rect x="192.0" width="1.05" height="10.7" fill="#c6c6c6"/><rect x="193.0" width="1.05" height="10.7" fill="#c7c7c7"/><rect x="194.0" width="1.05" height="10.7" fill="#d5d5d5"/><rect x="195.0" width="1.05" height="10.7" fill="#d9d9d9"/><rect x="196.0" width="1.05" height="10.7" fill="#c8c8c8"/><rect x="197.0" width="1.05" height="10.7" fill="#c3c3c3"/><rect x="198.0" width="1.05" height="10.7" fill="#c8c8c8"/><rect x="199.0" width="1.05" height="10.7" fill="#cecece"/><rect x="200.0" width="1.05" height="10.7" fill="#c5c5c5"/><rect x="201.0" width="1.05" height="10.7" fill="#c0c0c0"/><rect x="202.0" width="1.05" height="10.7" fill="#c7c7c7"/><rect x="203.0" width="1.05" height="10.7" fill="#d6d6d6"/><rect x="204.0" width="1.05" height="10.7" fill="#e0e0e0"/><rect x="205.0" width="1.05" height="10.7" fill="#efefef"/><rect x="206.0" width="1.05" height="10.7" fill="#f7f7f7"/></g><g transform="translate(0,433.1)"><rect x="133.0" width="1.05" height="10.3" fill="#f6f6f6"/><rect x="134.0" width="1.05" height="10.3" fill="#ebebeb"/><rect x="135.0" width="1.05" height="10.3" fill="#dddddd"/><rect x="136.0" width="1.05" height="10.3" fill="#d1d1d1"/><rect x="137.0" width="1.05" height="10.3" fill="#c4c4c4"/><rect x="138.0" width="1.05" height="10.3" fill="#c2c2c2"/><rect x="139.0" width="1.05" height="10.3" fill="#c7c7c7"/><rect x="140.0" width="1.05" height="10.3" fill="#cdcdcd"/><rect x="141.0" width="1.05" height="10.3" fill="#d4d4d4"/><rect x="142.0" width="1.05" height="10.3" fill="#d6d6d6"/><rect x="143.0" width="1.05" height="10.3" fill="#dadada"/><rect x="144.0" width="1.05" height="10.3" fill="#d6d6d6"/><rect x="145.0" width="1.05" height="10.3" fill="#dcdcdc"/><rect x="146.0" width="1.05" height="10.3" fill="#dcdcdc"/><rect x="147.0" width="1.05" height="10.3" fill="#dddddd"/><rect x="148.0" width="1.05" height="10.3" fill="#e1e1e1"/><rect x="149.0" width="1.05" height="10.3" fill="#d9d9d9"/><rect x="150.0" width="1.05" height="10.3" fill="#d3d3d3"/><rect x="151.0" width="1.05" height="10.3" fill="#cecece"/><rect x="152.0" width="1.05" height="10.3" fill="#cdcdcd"/><rect x="153.0" width="1.05" height="10.3" fill="#c7c7c7"/><rect x="154.0" width="1.05" height="10.3" fill="#bdbdbd"/><rect x="155.0" width="1.05" height="10.3" fill="#b6b6b6"/><rect x="156.0" width="1.05" height="10.3" fill="#b3b3b3"/><rect x="157.0" width="1.05" height="10.3" fill="#b6b6b6"/><rect x="158.0" width="1.05" height="10.3" fill="#b9b9b9"/><rect x="159.0" width="1.05" height="10.3" fill="#c5c5c5"/><rect x="160.0" width="1.05" height="10.3" fill="#c4c4c4"/><rect x="161.0" width="1.05" height="10.3" fill="#c6c6c6"/><rect x="162.0" width="1.05" height="10.3" fill="#d5d5d5"/><rect x="163.0" width="1.05" height="10.3" fill="#cdcdcd"/><rect x="164.0" width="1.05" height="10.3" fill="#c7c7c7"/><rect x="165.0" width="1.05" height="10.3" fill="#d9d9d9"/><rect x="166.0" width="1.05" height="10.3" fill="#e0e0e0"/><rect x="167.0" width="1.05" height="10.3" fill="#dcdcdc"/><rect x="168.0" width="1.05" height="10.3" fill="#d8d8d8"/><rect x="169.0" width="1.05" height="10.3" fill="#dcdcdc"/><rect x="170.0" width="1.05" height="10.3" fill="#e6e6e6"/><rect x="171.0" width="1.05" height="10.3" fill="#dcdcdc"/><rect x="172.0" width="1.05" height="10.3" fill="#cfcfcf"/><rect x="173.0" width="1.05" height="10.3" fill="#d5d5d5"/><rect x="174.0" width="1.05" height="10.3" fill="#d5d5d5"/><rect x="175.0" width="1.05" height="10.3" fill="#d2d2d2"/><rect x="176.0" width="1.05" height="10.3" fill="#cfcfcf"/><rect x="177.0" width="1.05" height="10.3" fill="#d7d7d7"/><rect x="178.0" width="1.05" height="10.3" fill="#dddddd"/><rect x="179.0" width="1.05" height="10.3" fill="#dcdcdc"/><rect x="180.0" width="1.05" height="10.3" fill="#dadada"/><rect x="181.0" width="1.05" height="10.3" fill="#dbdbdb"/><rect x="182.0" width="1.05" height="10.3" fill="#d2d2d2"/><rect x="183.0" width="1.05" height="10.3" fill="#cecece"/><rect x="184.0" width="1.05" height="10.3" fill="#d6d6d6"/><rect x="185.0" width="1.05" height="10.3" fill="#c5c5c5"/><rect x="186.0" width="1.05" height="10.3" fill="#c0c0c0"/><rect x="187.0" width="1.05" height="10.3" fill="#c1c1c1"/><rect x="188.0" width="1.05" height="10.3" fill="#bebebe"/><rect x="189.0" width="1.05" height="10.3" fill="#bfbfbf"/><rect x="190.0" width="1.05" height="10.3" fill="#c2c2c2"/><rect x="191.0" width="1.05" height="10.3" fill="#cacaca"/><rect x="192.0" width="1.05" height="10.3" fill="#cacaca"/><rect x="193.0" width="1.05" height="10.3" fill="#d4d4d4"/><rect x="194.0" width="1.05" height="10.3" fill="#dedede"/><rect x="195.0" width="1.05" height="10.3" fill="#d4d4d4"/><rect x="196.0" width="1.05" height="10.3" fill="#cbcbcb"/><rect x="197.0" width="1.05" height="10.3" fill="#c9c9c9"/><rect x="198.0" width="1.05" height="10.3" fill="#b8b8b8"/><rect x="199.0" width="1.05" height="10.3" fill="#b8b8b8"/><rect x="200.0" width="1.05" height="10.3" fill="#bfbfbf"/><rect x="201.0" width="1.05" height="10.3" fill="#bcbcbc"/><rect x="202.0" width="1.05" height="10.3" fill="#c3c3c3"/><rect x="203.0" width="1.05" height="10.3" fill="#d6d6d6"/><rect x="204.0" width="1.05" height="10.3" fill="#dfdfdf"/><rect x="205.0" width="1.05" height="10.3" fill="#ebebeb"/><rect x="206.0" width="1.05" height="10.3" fill="#f6f6f6"/></g><g transform="translate(0,444.5)"><rect x="133.0" width="1.05" height="14.5" fill="#f7f7f7"/><rect x="134.0" width="1.05" height="14.5" fill="#f0f0f0"/><rect x="135.0" width="1.05" height="14.5" fill="#e0e0e0"/><rect x="136.0" width="1.05" height="14.5" fill="#d5d5d5"/><rect x="137.0" width="1.05" height="14.5" fill="#c7c7c7"/><rect x="138.0" width="1.05" height="14.5" fill="#bcbcbc"/><rect x="139.0" width="1.05" height="14.5" fill="#c0c0c0"/><rect x="140.0" width="1.05" height="14.5" fill="#c9c9c9"/><rect x="141.0" width="1.05" height="14.5" fill="#d2d2d2"/><rect x="142.0" width="1.05" height="14.5" fill="#d5d5d5"/><rect x="143.0" width="1.05" height="14.5" fill="#d4d4d4"/><rect x="144.0" width="1.05" height="14.5" fill="#d1d1d1"/><rect x="145.0" width="1.05" height="14.5" fill="#d4d4d4"/><rect x="146.0" width="1.05" height="14.5" fill="#dddddd"/><rect x="147.0" width="1.05" height="14.5" fill="#dddddd"/><rect x="148.0" width="1.05" height="14.5" fill="#e0e0e0"/><rect x="149.0" width="1.05" height="14.5" fill="#d9d9d9"/><rect x="150.0" width="1.05" height="14.5" fill="#d7d7d7"/><rect x="151.0" width="1.05" height="14.5" fill="#cfcfcf"/><rect x="152.0" width="1.05" height="14.5" fill="#cecece"/><rect x="153.0" width="1.05" height="14.5" fill="#cecece"/><rect x="154.0" width="1.05" height="14.5" fill="#cbcbcb"/><rect x="155.0" width="1.05" height="14.5" fill="#c5c5c5"/><rect x="156.0" width="1.05" height="14.5" fill="#bababa"/><rect x="157.0" width="1.05" height="14.5" fill="#b7b7b7"/><rect x="158.0" width="1.05" height="14.5" fill="#c1c1c1"/><rect x="159.0" width="1.05" height="14.5" fill="#d0d0d0"/><rect x="160.0" width="1.05" height="14.5" fill="#d0d0d0"/><rect x="161.0" width="1.05" height="14.5" fill="#d3d3d3"/><rect x="162.0" width="1.05" height="14.5" fill="#d9d9d9"/><rect x="163.0" width="1.05" height="14.5" fill="#c7c7c7"/><rect x="164.0" width="1.05" height="14.5" fill="#b7b7b7"/><rect x="165.0" width="1.05" height="14.5" fill="#cbcbcb"/><rect x="166.0" width="1.05" height="14.5" fill="#d7d7d7"/><rect x="167.0" width="1.05" height="14.5" fill="#d6d6d6"/><rect x="168.0" width="1.05" height="14.5" fill="#d2d2d2"/><rect x="169.0" width="1.05" height="14.5" fill="#e0e0e0"/><rect x="170.0" width="1.05" height="14.5" fill="#e6e6e6"/><rect x="171.0" width="1.05" height="14.5" fill="#dddddd"/><rect x="172.0" width="1.05" height="14.5" fill="#d8d8d8"/><rect x="173.0" width="1.05" height="14.5" fill="#dfdfdf"/><rect x="174.0" width="1.05" height="14.5" fill="#d2d2d2"/><rect x="175.0" width="1.05" height="14.5" fill="#cecece"/><rect x="176.0" width="1.05" height="14.5" fill="#d4d4d4"/><rect x="177.0" width="1.05" height="14.5" fill="#d9d9d9"/><rect x="178.0" width="1.05" height="14.5" fill="#d4d4d4"/><rect x="179.0" width="1.05" height="14.5" fill="#d1d1d1"/><rect x="180.0" width="1.05" height="14.5" fill="#d3d3d3"/><rect x="181.0" width="1.05" height="14.5" fill="#d7d7d7"/><rect x="182.0" width="1.05" height="14.5" fill="#c8c8c8"/><rect x="183.0" width="1.05" height="14.5" fill="#c8c8c8"/><rect x="184.0" width="1.05" height="14.5" fill="#d6d6d6"/><rect x="185.0" width="1.05" height="14.5" fill="#cacaca"/><rect x="186.0" width="1.05" height="14.5" fill="#d0d0d0"/><rect x="187.0" width="1.05" height="14.5" fill="#cbcbcb"/><rect x="188.0" width="1.05" height="14.5" fill="#c6c6c6"/><rect x="189.0" width="1.05" height="14.5" fill="#c0c0c0"/><rect x="190.0" width="1.05" height="14.5" fill="#c0c0c0"/><rect x="191.0" width="1.05" height="14.5" fill="#c9c9c9"/><rect x="192.0" width="1.05" height="14.5" fill="#bfbfbf"/><rect x="193.0" width="1.05" height="14.5" fill="#d0d0d0"/><rect x="194.0" width="1.05" height="14.5" fill="#e4e4e4"/><rect x="195.0" width="1.05" height="14.5" fill="#dedede"/><rect x="196.0" width="1.05" height="14.5" fill="#cfcfcf"/><rect x="197.0" width="1.05" height="14.5" fill="#cdcdcd"/><rect x="198.0" width="1.05" height="14.5" fill="#cecece"/><rect x="199.0" width="1.05" height="14.5" fill="#d1d1d1"/><rect x="200.0" width="1.05" height="14.5" fill="#cbcbcb"/><rect x="201.0" width="1.05" height="14.5" fill="#c1c1c1"/><rect x="202.0" width="1.05" height="14.5" fill="#c8c8c8"/><rect x="203.0" width="1.05" height="14.5" fill="#d2d2d2"/><rect x="204.0" width="1.05" height="14.5" fill="#dcdcdc"/><rect x="205.0" width="1.05" height="14.5" fill="#eeeeee"/><rect x="206.0" width="1.05" height="14.5" fill="#f8f8f8"/></g><g transform="translate(0,460.2)"><rect x="133.0" width="1.05" height="12.3" fill="#f7f7f7"/><rect x="134.0" width="1.05" height="12.3" fill="#f1f1f1"/><rect x="135.0" width="1.05" height="12.3" fill="#e6e6e6"/><rect x="136.0" width="1.05" height="12.3" fill="#dbdbdb"/><rect x="137.0" width="1.05" height="12.3" fill="#cfcfcf"/><rect x="138.0" width="1.05" height="12.3" fill="#cbcbcb"/><rect x="139.0" width="1.05" height="12.3" fill="#cdcdcd"/><rect x="140.0" width="1.05" height="12.3" fill="#cbcbcb"/><rect x="141.0" width="1.05" height="12.3" fill="#cacaca"/><rect x="142.0" width="1.05" height="12.3" fill="#c5c5c5"/><rect x="143.0" width="1.05" height="12.3" fill="#cccccc"/><rect x="144.0" width="1.05" height="12.3" fill="#cacaca"/><rect x="145.0" width="1.05" height="12.3" fill="#bcbcbc"/><rect x="146.0" width="1.05" height="12.3" fill="#c0c0c0"/><rect x="147.0" width="1.05" height="12.3" fill="#cbcbcb"/><rect x="148.0" width="1.05" height="12.3" fill="#c2c2c2"/><rect x="149.0" width="1.05" height="12.3" fill="#b8b8b8"/><rect x="150.0" width="1.05" height="12.3" fill="#c2c2c2"/><rect x="151.0" width="1.05" height="12.3" fill="#bebebe"/><rect x="152.0" width="1.05" height="12.3" fill="#c4c4c4"/><rect x="153.0" width="1.05" height="12.3" fill="#cacaca"/><rect x="154.0" width="1.05" height="12.3" fill="#cfcfcf"/><rect x="155.0" width="1.05" height="12.3" fill="#cdcdcd"/><rect x="156.0" width="1.05" height="12.3" fill="#cccccc"/><rect x="157.0" width="1.05" height="12.3" fill="#cecece"/><rect x="158.0" width="1.05" height="12.3" fill="#cccccc"/><rect x="159.0" width="1.05" height="12.3" fill="#c6c6c6"/><rect x="160.0" width="1.05" height="12.3" fill="#bfbfbf"/><rect x="161.0" width="1.05" height="12.3" fill="#cfcfcf"/><rect x="162.0" width="1.05" height="12.3" fill="#cacaca"/><rect x="163.0" width="1.05" height="12.3" fill="#c0c0c0"/><rect x="164.0" width="1.05" height="12.3" fill="#c6c6c6"/><rect x="165.0" width="1.05" height="12.3" fill="#c1c1c1"/><rect x="166.0" width="1.05" height="12.3" fill="#bbbbbb"/><rect x="167.0" width="1.05" height="12.3" fill="#c5c5c5"/><rect x="168.0" width="1.05" height="12.3" fill="#c3c3c3"/><rect x="169.0" width="1.05" height="12.3" fill="#bdbdbd"/><rect x="170.0" width="1.05" height="12.3" fill="#bcbcbc"/><rect x="171.0" width="1.05" height="12.3" fill="#bfbfbf"/><rect x="172.0" width="1.05" height="12.3" fill="#c2c2c2"/><rect x="173.0" width="1.05" height="12.3" fill="#c1c1c1"/><rect x="174.0" width="1.05" height="12.3" fill="#c0c0c0"/><rect x="175.0" width="1.05" height="12.3" fill="#b9b9b9"/><rect x="176.0" width="1.05" height="12.3" fill="#bfbfbf"/><rect x="177.0" width="1.05" height="12.3" fill="#c9c9c9"/><rect x="178.0" width="1.05" height="12.3" fill="#cacaca"/><rect x="179.0" width="1.05" height="12.3" fill="#c2c2c2"/><rect x="180.0" width="1.05" height="12.3" fill="#bebebe"/><rect x="181.0" width="1.05" height="12.3" fill="#bfbfbf"/><rect x="182.0" width="1.05" height="12.3" fill="#c7c7c7"/><rect x="183.0" width="1.05" height="12.3" fill="#bebebe"/><rect x="184.0" width="1.05" height="12.3" fill="#bcbcbc"/><rect x="185.0" width="1.05" height="12.3" fill="#bdbdbd"/><rect x="186.0" width="1.05" height="12.3" fill="#c1c1c1"/><rect x="187.0" width="1.05" height="12.3" fill="#bfbfbf"/><rect x="188.0" width="1.05" height="12.3" fill="#bebebe"/><rect x="189.0" width="1.05" height="12.3" fill="#cecece"/><rect x="190.0" width="1.05" height="12.3" fill="#cfcfcf"/><rect x="191.0" width="1.05" height="12.3" fill="#c2c2c2"/><rect x="192.0" width="1.05" height="12.3" fill="#b1b1b1"/><rect x="193.0" width="1.05" height="12.3" fill="#b8b8b8"/><rect x="194.0" width="1.05" height="12.3" fill="#bdbdbd"/><rect x="195.0" width="1.05" height="12.3" fill="#b9b9b9"/><rect x="196.0" width="1.05" height="12.3" fill="#bcbcbc"/><rect x="197.0" width="1.05" height="12.3" fill="#b8b8b8"/><rect x="198.0" width="1.05" height="12.3" fill="#adadad"/><rect x="199.0" width="1.05" height="12.3" fill="#bcbcbc"/><rect x="200.0" width="1.05" height="12.3" fill="#c7c7c7"/><rect x="201.0" width="1.05" height="12.3" fill="#c9c9c9"/><rect x="202.0" width="1.05" height="12.3" fill="#cecece"/><rect x="203.0" width="1.05" height="12.3" fill="#d3d3d3"/><rect x="204.0" width="1.05" height="12.3" fill="#dcdcdc"/><rect x="205.0" width="1.05" height="12.3" fill="#e5e5e5"/><rect x="206.0" width="1.05" height="12.3" fill="#f3f3f3"/></g><g transform="translate(0,473.7)"><rect x="133.0" width="1.05" height="9.1" fill="#f8f8f8"/><rect x="134.0" width="1.05" height="9.1" fill="#f0f0f0"/><rect x="135.0" width="1.05" height="9.1" fill="#dedede"/><rect x="136.0" width="1.05" height="9.1" fill="#d4d4d4"/><rect x="137.0" width="1.05" height="9.1" fill="#cccccc"/><rect x="138.0" width="1.05" height="9.1" fill="#cbcbcb"/><rect x="139.0" width="1.05" height="9.1" fill="#d2d2d2"/><rect x="140.0" width="1.05" height="9.1" fill="#cdcdcd"/><rect x="141.0" width="1.05" height="9.1" fill="#c2c2c2"/><rect x="142.0" width="1.05" height="9.1" fill="#c6c6c6"/><rect x="143.0" width="1.05" height="9.1" fill="#d1d1d1"/><rect x="144.0" width="1.05" height="9.1" fill="#cecece"/><rect x="145.0" width="1.05" height="9.1" fill="#c1c1c1"/><rect x="146.0" width="1.05" height="9.1" fill="#c3c3c3"/><rect x="147.0" width="1.05" height="9.1" fill="#cdcdcd"/><rect x="148.0" width="1.05" height="9.1" fill="#cdcdcd"/><rect x="149.0" width="1.05" height="9.1" fill="#c6c6c6"/><rect x="150.0" width="1.05" height="9.1" fill="#c1c1c1"/><rect x="151.0" width="1.05" height="9.1" fill="#b9b9b9"/><rect x="152.0" width="1.05" height="9.1" fill="#c2c2c2"/><rect x="153.0" width="1.05" height="9.1" fill="#cbcbcb"/><rect x="154.0" width="1.05" height="9.1" fill="#c8c8c8"/><rect x="155.0" width="1.05" height="9.1" fill="#c9c9c9"/><rect x="156.0" width="1.05" height="9.1" fill="#cccccc"/><rect x="157.0" width="1.05" height="9.1" fill="#c7c7c7"/><rect x="158.0" width="1.05" height="9.1" fill="#c1c1c1"/><rect x="159.0" width="1.05" height="9.1" fill="#bebebe"/><rect x="160.0" width="1.05" height="9.1" fill="#b5b5b5"/><rect x="161.0" width="1.05" height="9.1" fill="#bebebe"/><rect x="162.0" width="1.05" height="9.1" fill="#cacaca"/><rect x="163.0" width="1.05" height="9.1" fill="#c7c7c7"/><rect x="164.0" width="1.05" height="9.1" fill="#c3c3c3"/><rect x="165.0" width="1.05" height="9.1" fill="#c6c6c6"/><rect x="166.0" width="1.05" height="9.1" fill="#c9c9c9"/><rect x="167.0" width="1.05" height="9.1" fill="#c7c7c7"/><rect x="168.0" width="1.05" height="9.1" fill="#c8c8c8"/><rect x="169.0" width="1.05" height="9.1" fill="#c6c6c6"/><rect x="170.0" width="1.05" height="9.1" fill="#c3c3c3"/><rect x="171.0" width="1.05" height="9.1" fill="#c5c5c5"/><rect x="172.0" width="1.05" height="9.1" fill="#c3c3c3"/><rect x="173.0" width="1.05" height="9.1" fill="#bebebe"/><rect x="174.0" width="1.05" height="9.1" fill="#bababa"/><rect x="175.0" width="1.05" height="9.1" fill="#b0b0b0"/><rect x="176.0" width="1.05" height="9.1" fill="#b3b3b3"/><rect x="177.0" width="1.05" height="9.1" fill="#b9b9b9"/><rect x="178.0" width="1.05" height="9.1" fill="#b8b8b8"/><rect x="179.0" width="1.05" height="9.1" fill="#bbbbbb"/><rect x="180.0" width="1.05" height="9.1" fill="#bdbdbd"/><rect x="181.0" width="1.05" height="9.1" fill="#bebebe"/><rect x="182.0" width="1.05" height="9.1" fill="#c7c7c7"/><rect x="183.0" width="1.05" height="9.1" fill="#bababa"/><rect x="184.0" width="1.05" height="9.1" fill="#bcbcbc"/><rect x="185.0" width="1.05" height="9.1" fill="#b8b8b8"/><rect x="186.0" width="1.05" height="9.1" fill="#afafaf"/><rect x="187.0" width="1.05" height="9.1" fill="#b7b7b7"/><rect x="188.0" width="1.05" height="9.1" fill="#c1c1c1"/><rect x="189.0" width="1.05" height="9.1" fill="#cdcdcd"/><rect x="190.0" width="1.05" height="9.1" fill="#cdcdcd"/><rect x="191.0" width="1.05" height="9.1" fill="#bfbfbf"/><rect x="192.0" width="1.05" height="9.1" fill="#acacac"/><rect x="193.0" width="1.05" height="9.1" fill="#adadad"/><rect x="194.0" width="1.05" height="9.1" fill="#aeaeae"/><rect x="195.0" width="1.05" height="9.1" fill="#a7a7a7"/><rect x="196.0" width="1.05" height="9.1" fill="#b5b5b5"/><rect x="197.0" width="1.05" height="9.1" fill="#adadad"/><rect x="198.0" width="1.05" height="9.1" fill="#a4a4a4"/><rect x="199.0" width="1.05" height="9.1" fill="#b1b1b1"/><rect x="200.0" width="1.05" height="9.1" fill="#c1c1c1"/><rect x="201.0" width="1.05" height="9.1" fill="#c7c7c7"/><rect x="202.0" width="1.05" height="9.1" fill="#d0d0d0"/><rect x="203.0" width="1.05" height="9.1" fill="#d4d4d4"/><rect x="204.0" width="1.05" height="9.1" fill="#d9d9d9"/><rect x="205.0" width="1.05" height="9.1" fill="#e8e8e8"/><rect x="206.0" width="1.05" height="9.1" fill="#f5f5f5"/></g><g transform="translate(0,356.8)"><rect x="249.0" width="1.05" height="11.6" fill="#f1f1f1"/><rect x="250.0" width="1.05" height="11.6" fill="#e4e4e4"/><rect x="251.0" width="1.05" height="11.6" fill="#d6d6d6"/><rect x="252.0" width="1.05" height="11.6" fill="#c1c1c1"/><rect x="253.0" width="1.05" height="11.6" fill="#b8b8b8"/><rect x="254.0" width="1.05" height="11.6" fill="#bababa"/><rect x="255.0" width="1.05" height="11.6" fill="#c2c2c2"/><rect x="256.0" width="1.05" height="11.6" fill="#bfbfbf"/><rect x="257.0" width="1.05" height="11.6" fill="#bebebe"/><rect x="258.0" width="1.05" height="11.6" fill="#c0c0c0"/><rect x="259.0" width="1.05" height="11.6" fill="#c6c6c6"/><rect x="260.0" width="1.05" height="11.6" fill="#c6c6c6"/><rect x="261.0" width="1.05" height="11.6" fill="#c5c5c5"/><rect x="262.0" width="1.05" height="11.6" fill="#bfbfbf"/><rect x="263.0" width="1.05" height="11.6" fill="#b7b7b7"/><rect x="264.0" width="1.05" height="11.6" fill="#c8c8c8"/><rect x="265.0" width="1.05" height="11.6" fill="#d2d2d2"/><rect x="266.0" width="1.05" height="11.6" fill="#d9d9d9"/><rect x="267.0" width="1.05" height="11.6" fill="#d3d3d3"/><rect x="268.0" width="1.05" height="11.6" fill="#d1d1d1"/><rect x="269.0" width="1.05" height="11.6" fill="#d6d6d6"/><rect x="270.0" width="1.05" height="11.6" fill="#d7d7d7"/><rect x="271.0" width="1.05" height="11.6" fill="#cacaca"/><rect x="272.0" width="1.05" height="11.6" fill="#c5c5c5"/><rect x="273.0" width="1.05" height="11.6" fill="#d4d4d4"/><rect x="274.0" width="1.05" height="11.6" fill="#d7d7d7"/><rect x="275.0" width="1.05" height="11.6" fill="#d1d1d1"/><rect x="276.0" width="1.05" height="11.6" fill="#c6c6c6"/><rect x="277.0" width="1.05" height="11.6" fill="#c6c6c6"/><rect x="278.0" width="1.05" height="11.6" fill="#cbcbcb"/><rect x="279.0" width="1.05" height="11.6" fill="#c4c4c4"/><rect x="280.0" width="1.05" height="11.6" fill="#c1c1c1"/><rect x="281.0" width="1.05" height="11.6" fill="#c3c3c3"/><rect x="282.0" width="1.05" height="11.6" fill="#c6c6c6"/><rect x="283.0" width="1.05" height="11.6" fill="#cacaca"/><rect x="284.0" width="1.05" height="11.6" fill="#c5c5c5"/><rect x="285.0" width="1.05" height="11.6" fill="#b2b2b2"/><rect x="286.0" width="1.05" height="11.6" fill="#c0c0c0"/><rect x="287.0" width="1.05" height="11.6" fill="#bdbdbd"/><rect x="288.0" width="1.05" height="11.6" fill="#b2b2b2"/><rect x="289.0" width="1.05" height="11.6" fill="#c4c4c4"/><rect x="290.0" width="1.05" height="11.6" fill="#cacaca"/><rect x="291.0" width="1.05" height="11.6" fill="#cdcdcd"/><rect x="292.0" width="1.05" height="11.6" fill="#e2e2e2"/><rect x="293.0" width="1.05" height="11.6" fill="#dfdfdf"/><rect x="294.0" width="1.05" height="11.6" fill="#cacaca"/><rect x="295.0" width="1.05" height="11.6" fill="#c8c8c8"/><rect x="296.0" width="1.05" height="11.6" fill="#c8c8c8"/><rect x="297.0" width="1.05" height="11.6" fill="#cacaca"/><rect x="298.0" width="1.05" height="11.6" fill="#c9c9c9"/><rect x="299.0" width="1.05" height="11.6" fill="#c1c1c1"/><rect x="300.0" width="1.05" height="11.6" fill="#b8b8b8"/><rect x="301.0" width="1.05" height="11.6" fill="#b3b3b3"/><rect x="302.0" width="1.05" height="11.6" fill="#aaaaaa"/><rect x="303.0" width="1.05" height="11.6" fill="#b6b6b6"/><rect x="304.0" width="1.05" height="11.6" fill="#c2c2c2"/><rect x="305.0" width="1.05" height="11.6" fill="#cccccc"/><rect x="306.0" width="1.05" height="11.6" fill="#cbcbcb"/><rect x="307.0" width="1.05" height="11.6" fill="#b7b7b7"/><rect x="308.0" width="1.05" height="11.6" fill="#b8b8b8"/><rect x="309.0" width="1.05" height="11.6" fill="#bfbfbf"/><rect x="310.0" width="1.05" height="11.6" fill="#c1c1c1"/><rect x="311.0" width="1.05" height="11.6" fill="#b9b9b9"/><rect x="312.0" width="1.05" height="11.6" fill="#bebebe"/><rect x="313.0" width="1.05" height="11.6" fill="#d0d0d0"/><rect x="314.0" width="1.05" height="11.6" fill="#d5d5d5"/><rect x="315.0" width="1.05" height="11.6" fill="#c2c2c2"/><rect x="316.0" width="1.05" height="11.6" fill="#c4c4c4"/><rect x="317.0" width="1.05" height="11.6" fill="#c9c9c9"/><rect x="318.0" width="1.05" height="11.6" fill="#c8c8c8"/><rect x="319.0" width="1.05" height="11.6" fill="#c5c5c5"/><rect x="320.0" width="1.05" height="11.6" fill="#c9c9c9"/><rect x="321.0" width="1.05" height="11.6" fill="#dbdbdb"/><rect x="322.0" width="1.05" height="11.6" fill="#e4e4e4"/><rect x="323.0" width="1.05" height="11.6" fill="#ededed"/><rect x="324.0" width="1.05" height="11.6" fill="#f6f6f6"/></g><g transform="translate(0,369.6)"><rect x="249.0" width="1.05" height="11.4" fill="#f3f3f3"/><rect x="250.0" width="1.05" height="11.4" fill="#e8e8e8"/><rect x="251.0" width="1.05" height="11.4" fill="#dbdbdb"/><rect x="252.0" width="1.05" height="11.4" fill="#cacaca"/><rect x="253.0" width="1.05" height="11.4" fill="#c0c0c0"/><rect x="254.0" width="1.05" height="11.4" fill="#c4c4c4"/><rect x="255.0" width="1.05" height="11.4" fill="#bdbdbd"/><rect x="256.0" width="1.05" height="11.4" fill="#c1c1c1"/><rect x="257.0" width="1.05" height="11.4" fill="#bfbfbf"/><rect x="258.0" width="1.05" height="11.4" fill="#bfbfbf"/><rect x="259.0" width="1.05" height="11.4" fill="#c1c1c1"/><rect x="260.0" width="1.05" height="11.4" fill="#bfbfbf"/><rect x="261.0" width="1.05" height="11.4" fill="#c4c4c4"/><rect x="262.0" width="1.05" height="11.4" fill="#c2c2c2"/><rect x="263.0" width="1.05" height="11.4" fill="#c3c3c3"/><rect x="264.0" width="1.05" height="11.4" fill="#cacaca"/><rect x="265.0" width="1.05" height="11.4" fill="#d0d0d0"/><rect x="266.0" width="1.05" height="11.4" fill="#d5d5d5"/><rect x="267.0" width="1.05" height="11.4" fill="#d5d5d5"/><rect x="268.0" width="1.05" height="11.4" fill="#d6d6d6"/><rect x="269.0" width="1.05" height="11.4" fill="#d9d9d9"/><rect x="270.0" width="1.05" height="11.4" fill="#d4d4d4"/><rect x="271.0" width="1.05" height="11.4" fill="#cacaca"/><rect x="272.0" width="1.05" height="11.4" fill="#c7c7c7"/><rect x="273.0" width="1.05" height="11.4" fill="#dbdbdb"/><rect x="274.0" width="1.05" height="11.4" fill="#d8d8d8"/><rect x="275.0" width="1.05" height="11.4" fill="#d2d2d2"/><rect x="276.0" width="1.05" height="11.4" fill="#c5c5c5"/><rect x="277.0" width="1.05" height="11.4" fill="#c2c2c2"/><rect x="278.0" width="1.05" height="11.4" fill="#c3c3c3"/><rect x="279.0" width="1.05" height="11.4" fill="#c8c8c8"/><rect x="280.0" width="1.05" height="11.4" fill="#c2c2c2"/><rect x="281.0" width="1.05" height="11.4" fill="#bebebe"/><rect x="282.0" width="1.05" height="11.4" fill="#c5c5c5"/><rect x="283.0" width="1.05" height="11.4" fill="#c8c8c8"/><rect x="284.0" width="1.05" height="11.4" fill="#c9c9c9"/><rect x="285.0" width="1.05" height="11.4" fill="#bfbfbf"/><rect x="286.0" width="1.05" height="11.4" fill="#c4c4c4"/><rect x="287.0" width="1.05" height="11.4" fill="#c3c3c3"/><rect x="288.0" width="1.05" height="11.4" fill="#bcbcbc"/><rect x="289.0" width="1.05" height="11.4" fill="#c9c9c9"/><rect x="290.0" width="1.05" height="11.4" fill="#c8c8c8"/><rect x="291.0" width="1.05" height="11.4" fill="#d1d1d1"/><rect x="292.0" width="1.05" height="11.4" fill="#d6d6d6"/><rect x="293.0" width="1.05" height="11.4" fill="#d1d1d1"/><rect x="294.0" width="1.05" height="11.4" fill="#cacaca"/><rect x="295.0" width="1.05" height="11.4" fill="#c3c3c3"/><rect x="296.0" width="1.05" height="11.4" fill="#c3c3c3"/><rect x="297.0" width="1.05" height="11.4" fill="#c8c8c8"/><rect x="298.0" width="1.05" height="11.4" fill="#c3c3c3"/><rect x="299.0" width="1.05" height="11.4" fill="#bcbcbc"/><rect x="300.0" width="1.05" height="11.4" fill="#b7b7b7"/><rect x="301.0" width="1.05" height="11.4" fill="#b1b1b1"/><rect x="302.0" width="1.05" height="11.4" fill="#b3b3b3"/><rect x="303.0" width="1.05" height="11.4" fill="#b9b9b9"/><rect x="304.0" width="1.05" height="11.4" fill="#bbbbbb"/><rect x="305.0" width="1.05" height="11.4" fill="#c5c5c5"/><rect x="306.0" width="1.05" height="11.4" fill="#c5c5c5"/><rect x="307.0" width="1.05" height="11.4" fill="#b7b7b7"/><rect x="308.0" width="1.05" height="11.4" fill="#c1c1c1"/><rect x="309.0" width="1.05" height="11.4" fill="#c7c7c7"/><rect x="310.0" width="1.05" height="11.4" fill="#c5c5c5"/><rect x="311.0" width="1.05" height="11.4" fill="#bcbcbc"/><rect x="312.0" width="1.05" height="11.4" fill="#bbbbbb"/><rect x="313.0" width="1.05" height="11.4" fill="#d1d1d1"/><rect x="314.0" width="1.05" height="11.4" fill="#dbdbdb"/><rect x="315.0" width="1.05" height="11.4" fill="#d2d2d2"/><rect x="316.0" width="1.05" height="11.4" fill="#d7d7d7"/><rect x="317.0" width="1.05" height="11.4" fill="#d5d5d5"/><rect x="318.0" width="1.05" height="11.4" fill="#c7c7c7"/><rect x="319.0" width="1.05" height="11.4" fill="#cacaca"/><rect x="320.0" width="1.05" height="11.4" fill="#cdcdcd"/><rect x="321.0" width="1.05" height="11.4" fill="#dddddd"/><rect x="322.0" width="1.05" height="11.4" fill="#e8e8e8"/><rect x="323.0" width="1.05" height="11.4" fill="#f1f1f1"/><rect x="324.0" width="1.05" height="11.4" fill="#f7f7f7"/></g><g transform="translate(0,382.1)"><rect x="249.0" width="1.05" height="13.0" fill="#f0f0f0"/><rect x="250.0" width="1.05" height="13.0" fill="#e1e1e1"/><rect x="251.0" width="1.05" height="13.0" fill="#d5d5d5"/><rect x="252.0" width="1.05" height="13.0" fill="#c1c1c1"/><rect x="253.0" width="1.05" height="13.0" fill="#b7b7b7"/><rect x="254.0" width="1.05" height="13.0" fill="#c3c3c3"/><rect x="255.0" width="1.05" height="13.0" fill="#c6c6c6"/><rect x="256.0" width="1.05" height="13.0" fill="#c2c2c2"/><rect x="257.0" width="1.05" height="13.0" fill="#c3c3c3"/><rect x="258.0" width="1.05" height="13.0" fill="#c5c5c5"/><rect x="259.0" width="1.05" height="13.0" fill="#c9c9c9"/><rect x="260.0" width="1.05" height="13.0" fill="#c2c2c2"/><rect x="261.0" width="1.05" height="13.0" fill="#bdbdbd"/><rect x="262.0" width="1.05" height="13.0" fill="#c5c5c5"/><rect x="263.0" width="1.05" height="13.0" fill="#cacaca"/><rect x="264.0" width="1.05" height="13.0" fill="#d1d1d1"/><rect x="265.0" width="1.05" height="13.0" fill="#d4d4d4"/><rect x="266.0" width="1.05" height="13.0" fill="#dcdcdc"/><rect x="267.0" width="1.05" height="13.0" fill="#d8d8d8"/><rect x="268.0" width="1.05" height="13.0" fill="#d5d5d5"/><rect x="269.0" width="1.05" height="13.0" fill="#e0e0e0"/><rect x="270.0" width="1.05" height="13.0" fill="#dddddd"/><rect x="271.0" width="1.05" height="13.0" fill="#cbcbcb"/><rect x="272.0" width="1.05" height="13.0" fill="#c4c4c4"/><rect x="273.0" width="1.05" height="13.0" fill="#d8d8d8"/><rect x="274.0" width="1.05" height="13.0" fill="#d3d3d3"/><rect x="275.0" width="1.05" height="13.0" fill="#cacaca"/><rect x="276.0" width="1.05" height="13.0" fill="#c5c5c5"/><rect x="277.0" width="1.05" height="13.0" fill="#cacaca"/><rect x="278.0" width="1.05" height="13.0" fill="#cfcfcf"/><rect x="279.0" width="1.05" height="13.0" fill="#cccccc"/><rect x="280.0" width="1.05" height="13.0" fill="#cdcdcd"/><rect x="281.0" width="1.05" height="13.0" fill="#cecece"/><rect x="282.0" width="1.05" height="13.0" fill="#cecece"/><rect x="283.0" width="1.05" height="13.0" fill="#c9c9c9"/><rect x="284.0" width="1.05" height="13.0" fill="#bdbdbd"/><rect x="285.0" width="1.05" height="13.0" fill="#b0b0b0"/><rect x="286.0" width="1.05" height="13.0" fill="#c3c3c3"/><rect x="287.0" width="1.05" height="13.0" fill="#c5c5c5"/><rect x="288.0" width="1.05" height="13.0" fill="#b9b9b9"/><rect x="289.0" width="1.05" height="13.0" fill="#c4c4c4"/><rect x="290.0" width="1.05" height="13.0" fill="#c5c5c5"/><rect x="291.0" width="1.05" height="13.0" fill="#cfcfcf"/><rect x="292.0" width="1.05" height="13.0" fill="#dbdbdb"/><rect x="293.0" width="1.05" height="13.0" fill="#d6d6d6"/><rect x="294.0" width="1.05" height="13.0" fill="#cccccc"/><rect x="295.0" width="1.05" height="13.0" fill="#cecece"/><rect x="296.0" width="1.05" height="13.0" fill="#cccccc"/><rect x="297.0" width="1.05" height="13.0" fill="#c1c1c1"/><rect x="298.0" width="1.05" height="13.0" fill="#bfbfbf"/><rect x="299.0" width="1.05" height="13.0" fill="#b1b1b1"/><rect x="300.0" width="1.05" height="13.0" fill="#aeaeae"/><rect x="301.0" width="1.05" height="13.0" fill="#b2b2b2"/><rect x="302.0" width="1.05" height="13.0" fill="#b0b0b0"/><rect x="303.0" width="1.05" height="13.0" fill="#bababa"/><rect x="304.0" width="1.05" height="13.0" fill="#bcbcbc"/><rect x="305.0" width="1.05" height="13.0" fill="#bebebe"/><rect x="306.0" width="1.05" height="13.0" fill="#c3c3c3"/><rect x="307.0" width="1.05" height="13.0" fill="#bbbbbb"/><rect x="308.0" width="1.05" height="13.0" fill="#bbbbbb"/><rect x="309.0" width="1.05" height="13.0" fill="#bfbfbf"/><rect x="310.0" width="1.05" height="13.0" fill="#bfbfbf"/><rect x="311.0" width="1.05" height="13.0" fill="#bdbdbd"/><rect x="312.0" width="1.05" height="13.0" fill="#c9c9c9"/><rect x="313.0" width="1.05" height="13.0" fill="#dcdcdc"/><rect x="314.0" width="1.05" height="13.0" fill="#d6d6d6"/><rect x="315.0" width="1.05" height="13.0" fill="#cacaca"/><rect x="316.0" width="1.05" height="13.0" fill="#d1d1d1"/><rect x="317.0" width="1.05" height="13.0" fill="#d4d4d4"/><rect x="318.0" width="1.05" height="13.0" fill="#c8c8c8"/><rect x="319.0" width="1.05" height="13.0" fill="#c6c6c6"/><rect x="320.0" width="1.05" height="13.0" fill="#c8c8c8"/><rect x="321.0" width="1.05" height="13.0" fill="#d6d6d6"/><rect x="322.0" width="1.05" height="13.0" fill="#e5e5e5"/><rect x="323.0" width="1.05" height="13.0" fill="#efefef"/><rect x="324.0" width="1.05" height="13.0" fill="#f7f7f7"/></g><g transform="translate(0,396.3)"><rect x="249.0" width="1.05" height="9.8" fill="#f1f1f1"/><rect x="250.0" width="1.05" height="9.8" fill="#e6e6e6"/><rect x="251.0" width="1.05" height="9.8" fill="#d8d8d8"/><rect x="252.0" width="1.05" height="9.8" fill="#c1c1c1"/><rect x="253.0" width="1.05" height="9.8" fill="#b9b9b9"/><rect x="254.0" width="1.05" height="9.8" fill="#bdbdbd"/><rect x="255.0" width="1.05" height="9.8" fill="#bcbcbc"/><rect x="256.0" width="1.05" height="9.8" fill="#bbbbbb"/><rect x="257.0" width="1.05" height="9.8" fill="#bfbfbf"/><rect x="258.0" width="1.05" height="9.8" fill="#bfbfbf"/><rect x="259.0" width="1.05" height="9.8" fill="#c5c5c5"/><rect x="260.0" width="1.05" height="9.8" fill="#b8b8b8"/><rect x="261.0" width="1.05" height="9.8" fill="#b3b3b3"/><rect x="262.0" width="1.05" height="9.8" fill="#bbbbbb"/><rect x="263.0" width="1.05" height="9.8" fill="#bebebe"/><rect x="264.0" width="1.05" height="9.8" fill="#c7c7c7"/><rect x="265.0" width="1.05" height="9.8" fill="#cecece"/><rect x="266.0" width="1.05" height="9.8" fill="#d9d9d9"/><rect x="267.0" width="1.05" height="9.8" fill="#d0d0d0"/><rect x="268.0" width="1.05" height="9.8" fill="#d0d0d0"/><rect x="269.0" width="1.05" height="9.8" fill="#dadada"/><rect x="270.0" width="1.05" height="9.8" fill="#d7d7d7"/><rect x="271.0" width="1.05" height="9.8" fill="#cccccc"/><rect x="272.0" width="1.05" height="9.8" fill="#cccccc"/><rect x="273.0" width="1.05" height="9.8" fill="#d7d7d7"/><rect x="274.0" width="1.05" height="9.8" fill="#d2d2d2"/><rect x="275.0" width="1.05" height="9.8" fill="#d0d0d0"/><rect x="276.0" width="1.05" height="9.8" fill="#c9c9c9"/><rect x="277.0" width="1.05" height="9.8" fill="#cccccc"/><rect x="278.0" width="1.05" height="9.8" fill="#d2d2d2"/><rect x="279.0" width="1.05" height="9.8" fill="#cfcfcf"/><rect x="280.0" width="1.05" height="9.8" fill="#c8c8c8"/><rect x="281.0" width="1.05" height="9.8" fill="#c9c9c9"/><rect x="282.0" width="1.05" height="9.8" fill="#cacaca"/><rect x="283.0" width="1.05" height="9.8" fill="#bdbdbd"/><rect x="284.0" width="1.05" height="9.8" fill="#bcbcbc"/><rect x="285.0" width="1.05" height="9.8" fill="#bcbcbc"/><rect x="286.0" width="1.05" height="9.8" fill="#c2c2c2"/><rect x="287.0" width="1.05" height="9.8" fill="#c2c2c2"/><rect x="288.0" width="1.05" height="9.8" fill="#bababa"/><rect x="289.0" width="1.05" height="9.8" fill="#cecece"/><rect x="290.0" width="1.05" height="9.8" fill="#d1d1d1"/><rect x="291.0" width="1.05" height="9.8" fill="#cfcfcf"/><rect x="292.0" width="1.05" height="9.8" fill="#d9d9d9"/><rect x="293.0" width="1.05" height="9.8" fill="#d3d3d3"/><rect x="294.0" width="1.05" height="9.8" fill="#c7c7c7"/><rect x="295.0" width="1.05" height="9.8" fill="#c7c7c7"/><rect x="296.0" width="1.05" height="9.8" fill="#bfbfbf"/><rect x="297.0" width="1.05" height="9.8" fill="#c3c3c3"/><rect x="298.0" width="1.05" height="9.8" fill="#cacaca"/><rect x="299.0" width="1.05" height="9.8" fill="#c1c1c1"/><rect x="300.0" width="1.05" height="9.8" fill="#b6b6b6"/><rect x="301.0" width="1.05" height="9.8" fill="#b7b7b7"/><rect x="302.0" width="1.05" height="9.8" fill="#bababa"/><rect x="303.0" width="1.05" height="9.8" fill="#bdbdbd"/><rect x="304.0" width="1.05" height="9.8" fill="#bebebe"/><rect x="305.0" width="1.05" height="9.8" fill="#c5c5c5"/><rect x="306.0" width="1.05" height="9.8" fill="#c9c9c9"/><rect x="307.0" width="1.05" height="9.8" fill="#bebebe"/><rect x="308.0" width="1.05" height="9.8" fill="#b7b7b7"/><rect x="309.0" width="1.05" height="9.8" fill="#c2c2c2"/><rect x="310.0" width="1.05" height="9.8" fill="#bebebe"/><rect x="311.0" width="1.05" height="9.8" fill="#b0b0b0"/><rect x="312.0" width="1.05" height="9.8" fill="#b9b9b9"/><rect x="313.0" width="1.05" height="9.8" fill="#cecece"/><rect x="314.0" width="1.05" height="9.8" fill="#cacaca"/><rect x="315.0" width="1.05" height="9.8" fill="#cacaca"/><rect x="316.0" width="1.05" height="9.8" fill="#d4d4d4"/><rect x="317.0" width="1.05" height="9.8" fill="#d4d4d4"/><rect x="318.0" width="1.05" height="9.8" fill="#d1d1d1"/><rect x="319.0" width="1.05" height="9.8" fill="#c9c9c9"/><rect x="320.0" width="1.05" height="9.8" fill="#c9c9c9"/><rect x="321.0" width="1.05" height="9.8" fill="#d8d8d8"/><rect x="322.0" width="1.05" height="9.8" fill="#e5e5e5"/><rect x="323.0" width="1.05" height="9.8" fill="#efefef"/><rect x="324.0" width="1.05" height="9.8" fill="#f8f8f8"/></g><g transform="translate(0,407.3)"><rect x="249.0" width="1.05" height="13.0" fill="#f1f1f1"/><rect x="250.0" width="1.05" height="13.0" fill="#e5e5e5"/><rect x="251.0" width="1.05" height="13.0" fill="#d8d8d8"/><rect x="252.0" width="1.05" height="13.0" fill="#c4c4c4"/><rect x="253.0" width="1.05" height="13.0" fill="#bbbbbb"/><rect x="254.0" width="1.05" height="13.0" fill="#bfbfbf"/><rect x="255.0" width="1.05" height="13.0" fill="#c4c4c4"/><rect x="256.0" width="1.05" height="13.0" fill="#c0c0c0"/><rect x="257.0" width="1.05" height="13.0" fill="#c2c2c2"/><rect x="258.0" width="1.05" height="13.0" fill="#bdbdbd"/><rect x="259.0" width="1.05" height="13.0" fill="#c1c1c1"/><rect x="260.0" width="1.05" height="13.0" fill="#c0c0c0"/><rect x="261.0" width="1.05" height="13.0" fill="#c2c2c2"/><rect x="262.0" width="1.05" height="13.0" fill="#c6c6c6"/><rect x="263.0" width="1.05" height="13.0" fill="#c5c5c5"/><rect x="264.0" width="1.05" height="13.0" fill="#c3c3c3"/><rect x="265.0" width="1.05" height="13.0" fill="#cdcdcd"/><rect x="266.0" width="1.05" height="13.0" fill="#dbdbdb"/><rect x="267.0" width="1.05" height="13.0" fill="#d9d9d9"/><rect x="268.0" width="1.05" height="13.0" fill="#d8d8d8"/><rect x="269.0" width="1.05" height="13.0" fill="#d7d7d7"/><rect x="270.0" width="1.05" height="13.0" fill="#d4d4d4"/><rect x="271.0" width="1.05" height="13.0" fill="#c9c9c9"/><rect x="272.0" width="1.05" height="13.0" fill="#c4c4c4"/><rect x="273.0" width="1.05" height="13.0" fill="#dcdcdc"/><rect x="274.0" width="1.05" height="13.0" fill="#dedede"/><rect x="275.0" width="1.05" height="13.0" fill="#dadada"/><rect x="276.0" width="1.05" height="13.0" fill="#d2d2d2"/><rect x="277.0" width="1.05" height="13.0" fill="#d2d2d2"/><rect x="278.0" width="1.05" height="13.0" fill="#d5d5d5"/><rect x="279.0" width="1.05" height="13.0" fill="#d2d2d2"/><rect x="280.0" width="1.05" height="13.0" fill="#c8c8c8"/><rect x="281.0" width="1.05" height="13.0" fill="#c0c0c0"/><rect x="282.0" width="1.05" height="13.0" fill="#cacaca"/><rect x="283.0" width="1.05" height="13.0" fill="#d2d2d2"/><rect x="284.0" width="1.05" height="13.0" fill="#cbcbcb"/><rect x="285.0" width="1.05" height="13.0" fill="#bcbcbc"/><rect x="286.0" width="1.05" height="13.0" fill="#c3c3c3"/><rect x="287.0" width="1.05" height="13.0" fill="#c3c3c3"/><rect x="288.0" width="1.05" height="13.0" fill="#bdbdbd"/><rect x="289.0" width="1.05" height="13.0" fill="#cfcfcf"/><rect x="290.0" width="1.05" height="13.0" fill="#d1d1d1"/><rect x="291.0" width="1.05" height="13.0" fill="#dedede"/><rect x="292.0" width="1.05" height="13.0" fill="#e8e8e8"/><rect x="293.0" width="1.05" height="13.0" fill="#e1e1e1"/><rect x="294.0" width="1.05" height="13.0" fill="#cdcdcd"/><rect x="295.0" width="1.05" height="13.0" fill="#c4c4c4"/><rect x="296.0" width="1.05" height="13.0" fill="#c4c4c4"/><rect x="297.0" width="1.05" height="13.0" fill="#cccccc"/><rect x="298.0" width="1.05" height="13.0" fill="#c5c5c5"/><rect x="299.0" width="1.05" height="13.0" fill="#bababa"/><rect x="300.0" width="1.05" height="13.0" fill="#b7b7b7"/><rect x="301.0" width="1.05" height="13.0" fill="#b5b5b5"/><rect x="302.0" width="1.05" height="13.0" fill="#aeaeae"/><rect x="303.0" width="1.05" height="13.0" fill="#b4b4b4"/><rect x="304.0" width="1.05" height="13.0" fill="#b4b4b4"/><rect x="305.0" width="1.05" height="13.0" fill="#b9b9b9"/><rect x="306.0" width="1.05" height="13.0" fill="#bdbdbd"/><rect x="307.0" width="1.05" height="13.0" fill="#b1b1b1"/><rect x="308.0" width="1.05" height="13.0" fill="#b7b7b7"/><rect x="309.0" width="1.05" height="13.0" fill="#c6c6c6"/><rect x="310.0" width="1.05" height="13.0" fill="#d0d0d0"/><rect x="311.0" width="1.05" height="13.0" fill="#c1c1c1"/><rect x="312.0" width="1.05" height="13.0" fill="#c4c4c4"/><rect x="313.0" width="1.05" height="13.0" fill="#d4d4d4"/><rect x="314.0" width="1.05" height="13.0" fill="#d0d0d0"/><rect x="315.0" width="1.05" height="13.0" fill="#c4c4c4"/><rect x="316.0" width="1.05" height="13.0" fill="#cacaca"/><rect x="317.0" width="1.05" height="13.0" fill="#d0d0d0"/><rect x="318.0" width="1.05" height="13.0" fill="#c7c7c7"/><rect x="319.0" width="1.05" height="13.0" fill="#c6c6c6"/><rect x="320.0" width="1.05" height="13.0" fill="#c9c9c9"/><rect x="321.0" width="1.05" height="13.0" fill="#d5d5d5"/><rect x="322.0" width="1.05" height="13.0" fill="#e1e1e1"/><rect x="323.0" width="1.05" height="13.0" fill="#eeeeee"/><rect x="324.0" width="1.05" height="13.0" fill="#f7f7f7"/></g><g transform="translate(0,421.3)"><rect x="249.0" width="1.05" height="10.7" fill="#f3f3f3"/><rect x="250.0" width="1.05" height="10.7" fill="#ececec"/><rect x="251.0" width="1.05" height="10.7" fill="#ececec"/><rect x="252.0" width="1.05" height="10.7" fill="#e5e5e5"/><rect x="253.0" width="1.05" height="10.7" fill="#dcdcdc"/><rect x="254.0" width="1.05" height="10.7" fill="#d7d7d7"/><rect x="255.0" width="1.05" height="10.7" fill="#c8c8c8"/><rect x="256.0" width="1.05" height="10.7" fill="#cecece"/><rect x="257.0" width="1.05" height="10.7" fill="#d0d0d0"/><rect x="258.0" width="1.05" height="10.7" fill="#c4c4c4"/><rect x="259.0" width="1.05" height="10.7" fill="#c7c7c7"/><rect x="260.0" width="1.05" height="10.7" fill="#cdcdcd"/><rect x="261.0" width="1.05" height="10.7" fill="#c6c6c6"/><rect x="262.0" width="1.05" height="10.7" fill="#c6c6c6"/><rect x="263.0" width="1.05" height="10.7" fill="#bdbdbd"/><rect x="264.0" width="1.05" height="10.7" fill="#bebebe"/><rect x="265.0" width="1.05" height="10.7" fill="#c3c3c3"/><rect x="266.0" width="1.05" height="10.7" fill="#cbcbcb"/><rect x="267.0" width="1.05" height="10.7" fill="#c9c9c9"/><rect x="268.0" width="1.05" height="10.7" fill="#cdcdcd"/><rect x="269.0" width="1.05" height="10.7" fill="#d4d4d4"/><rect x="270.0" width="1.05" height="10.7" fill="#c5c5c5"/><rect x="271.0" width="1.05" height="10.7" fill="#d1d1d1"/><rect x="272.0" width="1.05" height="10.7" fill="#d5d5d5"/><rect x="273.0" width="1.05" height="10.7" fill="#cdcdcd"/><rect x="274.0" width="1.05" height="10.7" fill="#cbcbcb"/><rect x="275.0" width="1.05" height="10.7" fill="#cccccc"/><rect x="276.0" width="1.05" height="10.7" fill="#cccccc"/><rect x="277.0" width="1.05" height="10.7" fill="#d2d2d2"/><rect x="278.0" width="1.05" height="10.7" fill="#d1d1d1"/><rect x="279.0" width="1.05" height="10.7" fill="#d6d6d6"/><rect x="280.0" width="1.05" height="10.7" fill="#d3d3d3"/><rect x="281.0" width="1.05" height="10.7" fill="#cacaca"/><rect x="282.0" width="1.05" height="10.7" fill="#cbcbcb"/><rect x="283.0" width="1.05" height="10.7" fill="#d0d0d0"/><rect x="284.0" width="1.05" height="10.7" fill="#c5c5c5"/><rect x="285.0" width="1.05" height="10.7" fill="#d1d1d1"/><rect x="286.0" width="1.05" height="10.7" fill="#d2d2d2"/><rect x="287.0" width="1.05" height="10.7" fill="#cdcdcd"/><rect x="288.0" width="1.05" height="10.7" fill="#d3d3d3"/><rect x="289.0" width="1.05" height="10.7" fill="#d3d3d3"/><rect x="290.0" width="1.05" height="10.7" fill="#c7c7c7"/><rect x="291.0" width="1.05" height="10.7" fill="#d2d2d2"/><rect x="292.0" width="1.05" height="10.7" fill="#c8c8c8"/><rect x="293.0" width="1.05" height="10.7" fill="#b7b7b7"/><rect x="294.0" width="1.05" height="10.7" fill="#bebebe"/><rect x="295.0" width="1.05" height="10.7" fill="#bfbfbf"/><rect x="296.0" width="1.05" height="10.7" fill="#b9b9b9"/><rect x="297.0" width="1.05" height="10.7" fill="#bfbfbf"/><rect x="298.0" width="1.05" height="10.7" fill="#c6c6c6"/><rect x="299.0" width="1.05" height="10.7" fill="#bfbfbf"/><rect x="300.0" width="1.05" height="10.7" fill="#c4c4c4"/><rect x="301.0" width="1.05" height="10.7" fill="#c7c7c7"/><rect x="302.0" width="1.05" height="10.7" fill="#c6c6c6"/><rect x="303.0" width="1.05" height="10.7" fill="#cccccc"/><rect x="304.0" width="1.05" height="10.7" fill="#d3d3d3"/><rect x="305.0" width="1.05" height="10.7" fill="#d9d9d9"/><rect x="306.0" width="1.05" height="10.7" fill="#cccccc"/><rect x="307.0" width="1.05" height="10.7" fill="#c9c9c9"/><rect x="308.0" width="1.05" height="10.7" fill="#cfcfcf"/><rect x="309.0" width="1.05" height="10.7" fill="#c7c7c7"/><rect x="310.0" width="1.05" height="10.7" fill="#c1c1c1"/><rect x="311.0" width="1.05" height="10.7" fill="#c3c3c3"/><rect x="312.0" width="1.05" height="10.7" fill="#cecece"/><rect x="313.0" width="1.05" height="10.7" fill="#cbcbcb"/><rect x="314.0" width="1.05" height="10.7" fill="#c2c2c2"/><rect x="315.0" width="1.05" height="10.7" fill="#c7c7c7"/><rect x="316.0" width="1.05" height="10.7" fill="#c9c9c9"/><rect x="317.0" width="1.05" height="10.7" fill="#cbcbcb"/><rect x="318.0" width="1.05" height="10.7" fill="#c8c8c8"/><rect x="319.0" width="1.05" height="10.7" fill="#c1c1c1"/><rect x="320.0" width="1.05" height="10.7" fill="#c9c9c9"/><rect x="321.0" width="1.05" height="10.7" fill="#d9d9d9"/><rect x="322.0" width="1.05" height="10.7" fill="#e6e6e6"/><rect x="323.0" width="1.05" height="10.7" fill="#eeeeee"/><rect x="324.0" width="1.05" height="10.7" fill="#f5f5f5"/></g><g transform="translate(0,433.1)"><rect x="249.0" width="1.05" height="10.3" fill="#f2f2f2"/><rect x="250.0" width="1.05" height="10.3" fill="#eaeaea"/><rect x="251.0" width="1.05" height="10.3" fill="#eaeaea"/><rect x="252.0" width="1.05" height="10.3" fill="#e4e4e4"/><rect x="253.0" width="1.05" height="10.3" fill="#dadada"/><rect x="254.0" width="1.05" height="10.3" fill="#cecece"/><rect x="255.0" width="1.05" height="10.3" fill="#c2c2c2"/><rect x="256.0" width="1.05" height="10.3" fill="#c9c9c9"/><rect x="257.0" width="1.05" height="10.3" fill="#cdcdcd"/><rect x="258.0" width="1.05" height="10.3" fill="#c0c0c0"/><rect x="259.0" width="1.05" height="10.3" fill="#cccccc"/><rect x="260.0" width="1.05" height="10.3" fill="#d5d5d5"/><rect x="261.0" width="1.05" height="10.3" fill="#cfcfcf"/><rect x="262.0" width="1.05" height="10.3" fill="#cecece"/><rect x="263.0" width="1.05" height="10.3" fill="#c4c4c4"/><rect x="264.0" width="1.05" height="10.3" fill="#bebebe"/><rect x="265.0" width="1.05" height="10.3" fill="#c8c8c8"/><rect x="266.0" width="1.05" height="10.3" fill="#dadada"/><rect x="267.0" width="1.05" height="10.3" fill="#d4d4d4"/><rect x="268.0" width="1.05" height="10.3" fill="#d7d7d7"/><rect x="269.0" width="1.05" height="10.3" fill="#d3d3d3"/><rect x="270.0" width="1.05" height="10.3" fill="#c1c1c1"/><rect x="271.0" width="1.05" height="10.3" fill="#c8c8c8"/><rect x="272.0" width="1.05" height="10.3" fill="#cfcfcf"/><rect x="273.0" width="1.05" height="10.3" fill="#bcbcbc"/><rect x="274.0" width="1.05" height="10.3" fill="#c8c8c8"/><rect x="275.0" width="1.05" height="10.3" fill="#cdcdcd"/><rect x="276.0" width="1.05" height="10.3" fill="#cdcdcd"/><rect x="277.0" width="1.05" height="10.3" fill="#d2d2d2"/><rect x="278.0" width="1.05" height="10.3" fill="#d3d3d3"/><rect x="279.0" width="1.05" height="10.3" fill="#d1d1d1"/><rect x="280.0" width="1.05" height="10.3" fill="#d3d3d3"/><rect x="281.0" width="1.05" height="10.3" fill="#cdcdcd"/><rect x="282.0" width="1.05" height="10.3" fill="#cecece"/><rect x="283.0" width="1.05" height="10.3" fill="#cecece"/><rect x="284.0" width="1.05" height="10.3" fill="#c9c9c9"/><rect x="285.0" width="1.05" height="10.3" fill="#d1d1d1"/><rect x="286.0" width="1.05" height="10.3" fill="#cfcfcf"/><rect x="287.0" width="1.05" height="10.3" fill="#c5c5c5"/><rect x="288.0" width="1.05" height="10.3" fill="#d0d0d0"/><rect x="289.0" width="1.05" height="10.3" fill="#d5d5d5"/><rect x="290.0" width="1.05" height="10.3" fill="#cfcfcf"/><rect x="291.0" width="1.05" height="10.3" fill="#d3d3d3"/><rect x="292.0" width="1.05" height="10.3" fill="#d1d1d1"/><rect x="293.0" width="1.05" height="10.3" fill="#cdcdcd"/><rect x="294.0" width="1.05" height="10.3" fill="#cdcdcd"/><rect x="295.0" width="1.05" height="10.3" fill="#c3c3c3"/><rect x="296.0" width="1.05" height="10.3" fill="#bbbbbb"/><rect x="297.0" width="1.05" height="10.3" fill="#bdbdbd"/><rect x="298.0" width="1.05" height="10.3" fill="#c1c1c1"/><rect x="299.0" width="1.05" height="10.3" fill="#bababa"/><rect x="300.0" width="1.05" height="10.3" fill="#bfbfbf"/><rect x="301.0" width="1.05" height="10.3" fill="#cacaca"/><rect x="302.0" width="1.05" height="10.3" fill="#cacaca"/><rect x="303.0" width="1.05" height="10.3" fill="#d6d6d6"/><rect x="304.0" width="1.05" height="10.3" fill="#d4d4d4"/><rect x="305.0" width="1.05" height="10.3" fill="#d7d7d7"/><rect x="306.0" width="1.05" height="10.3" fill="#d4d4d4"/><rect x="307.0" width="1.05" height="10.3" fill="#dbdbdb"/><rect x="308.0" width="1.05" height="10.3" fill="#d2d2d2"/><rect x="309.0" width="1.05" height="10.3" fill="#c9c9c9"/><rect x="310.0" width="1.05" height="10.3" fill="#c5c5c5"/><rect x="311.0" width="1.05" height="10.3" fill="#c2c2c2"/><rect x="312.0" width="1.05" height="10.3" fill="#c8c8c8"/><rect x="313.0" width="1.05" height="10.3" fill="#c6c6c6"/><rect x="314.0" width="1.05" height="10.3" fill="#c7c7c7"/><rect x="315.0" width="1.05" height="10.3" fill="#d3d3d3"/><rect x="316.0" width="1.05" height="10.3" fill="#d2d2d2"/><rect x="317.0" width="1.05" height="10.3" fill="#d3d3d3"/><rect x="318.0" width="1.05" height="10.3" fill="#d0d0d0"/><rect x="319.0" width="1.05" height="10.3" fill="#bdbdbd"/><rect x="320.0" width="1.05" height="10.3" fill="#c5c5c5"/><rect x="321.0" width="1.05" height="10.3" fill="#d7d7d7"/><rect x="322.0" width="1.05" height="10.3" fill="#dfdfdf"/><rect x="323.0" width="1.05" height="10.3" fill="#eaeaea"/><rect x="324.0" width="1.05" height="10.3" fill="#f5f5f5"/></g><g transform="translate(0,444.5)"><rect x="249.0" width="1.05" height="14.5" fill="#f2f2f2"/><rect x="250.0" width="1.05" height="14.5" fill="#ebebeb"/><rect x="251.0" width="1.05" height="14.5" fill="#e9e9e9"/><rect x="252.0" width="1.05" height="14.5" fill="#e1e1e1"/><rect x="253.0" width="1.05" height="14.5" fill="#d5d5d5"/><rect x="254.0" width="1.05" height="14.5" fill="#c8c8c8"/><rect x="255.0" width="1.05" height="14.5" fill="#bdbdbd"/><rect x="256.0" width="1.05" height="14.5" fill="#c5c5c5"/><rect x="257.0" width="1.05" height="14.5" fill="#cfcfcf"/><rect x="258.0" width="1.05" height="14.5" fill="#c1c1c1"/><rect x="259.0" width="1.05" height="14.5" fill="#c6c6c6"/><rect x="260.0" width="1.05" height="14.5" fill="#cccccc"/><rect x="261.0" width="1.05" height="14.5" fill="#c9c9c9"/><rect x="262.0" width="1.05" height="14.5" fill="#c3c3c3"/><rect x="263.0" width="1.05" height="14.5" fill="#c1c1c1"/><rect x="264.0" width="1.05" height="14.5" fill="#c2c2c2"/><rect x="265.0" width="1.05" height="14.5" fill="#cecece"/><rect x="266.0" width="1.05" height="14.5" fill="#e0e0e0"/><rect x="267.0" width="1.05" height="14.5" fill="#d4d4d4"/><rect x="268.0" width="1.05" height="14.5" fill="#cdcdcd"/><rect x="269.0" width="1.05" height="14.5" fill="#c5c5c5"/><rect x="270.0" width="1.05" height="14.5" fill="#bcbcbc"/><rect x="271.0" width="1.05" height="14.5" fill="#c8c8c8"/><rect x="272.0" width="1.05" height="14.5" fill="#cecece"/><rect x="273.0" width="1.05" height="14.5" fill="#c0c0c0"/><rect x="274.0" width="1.05" height="14.5" fill="#c9c9c9"/><rect x="275.0" width="1.05" height="14.5" fill="#d0d0d0"/><rect x="276.0" width="1.05" height="14.5" fill="#d2d2d2"/><rect x="277.0" width="1.05" height="14.5" fill="#d1d1d1"/><rect x="278.0" width="1.05" height="14.5" fill="#d3d3d3"/><rect x="279.0" width="1.05" height="14.5" fill="#d8d8d8"/><rect x="280.0" width="1.05" height="14.5" fill="#d5d5d5"/><rect x="281.0" width="1.05" height="14.5" fill="#d0d0d0"/><rect x="282.0" width="1.05" height="14.5" fill="#cfcfcf"/><rect x="283.0" width="1.05" height="14.5" fill="#d1d1d1"/><rect x="284.0" width="1.05" height="14.5" fill="#c9c9c9"/><rect x="285.0" width="1.05" height="14.5" fill="#d4d4d4"/><rect x="286.0" width="1.05" height="14.5" fill="#d8d8d8"/><rect x="287.0" width="1.05" height="14.5" fill="#d1d1d1"/><rect x="288.0" width="1.05" height="14.5" fill="#d6d6d6"/><rect x="289.0" width="1.05" height="14.5" fill="#d7d7d7"/><rect x="290.0" width="1.05" height="14.5" fill="#c8c8c8"/><rect x="291.0" width="1.05" height="14.5" fill="#d3d3d3"/><rect x="292.0" width="1.05" height="14.5" fill="#d2d2d2"/><rect x="293.0" width="1.05" height="14.5" fill="#c7c7c7"/><rect x="294.0" width="1.05" height="14.5" fill="#c9c9c9"/><rect x="295.0" width="1.05" height="14.5" fill="#c2c2c2"/><rect x="296.0" width="1.05" height="14.5" fill="#b8b8b8"/><rect x="297.0" width="1.05" height="14.5" fill="#bebebe"/><rect x="298.0" width="1.05" height="14.5" fill="#c0c0c0"/><rect x="299.0" width="1.05" height="14.5" fill="#bebebe"/><rect x="300.0" width="1.05" height="14.5" fill="#cacaca"/><rect x="301.0" width="1.05" height="14.5" fill="#c8c8c8"/><rect x="302.0" width="1.05" height="14.5" fill="#c4c4c4"/><rect x="303.0" width="1.05" height="14.5" fill="#cccccc"/><rect x="304.0" width="1.05" height="14.5" fill="#d6d6d6"/><rect x="305.0" width="1.05" height="14.5" fill="#dbdbdb"/><rect x="306.0" width="1.05" height="14.5" fill="#d2d2d2"/><rect x="307.0" width="1.05" height="14.5" fill="#cfcfcf"/><rect x="308.0" width="1.05" height="14.5" fill="#d5d5d5"/><rect x="309.0" width="1.05" height="14.5" fill="#c6c6c6"/><rect x="310.0" width="1.05" height="14.5" fill="#c6c6c6"/><rect x="311.0" width="1.05" height="14.5" fill="#cecece"/><rect x="312.0" width="1.05" height="14.5" fill="#d9d9d9"/><rect x="313.0" width="1.05" height="14.5" fill="#cfcfcf"/><rect x="314.0" width="1.05" height="14.5" fill="#cbcbcb"/><rect x="315.0" width="1.05" height="14.5" fill="#d5d5d5"/><rect x="316.0" width="1.05" height="14.5" fill="#d9d9d9"/><rect x="317.0" width="1.05" height="14.5" fill="#d6d6d6"/><rect x="318.0" width="1.05" height="14.5" fill="#cfcfcf"/><rect x="319.0" width="1.05" height="14.5" fill="#c5c5c5"/><rect x="320.0" width="1.05" height="14.5" fill="#d3d3d3"/><rect x="321.0" width="1.05" height="14.5" fill="#dedede"/><rect x="322.0" width="1.05" height="14.5" fill="#e8e8e8"/><rect x="323.0" width="1.05" height="14.5" fill="#f2f2f2"/><rect x="324.0" width="1.05" height="14.5" fill="#f8f8f8"/></g><g transform="translate(0,460.2)"><rect x="249.0" width="1.05" height="12.3" fill="#f7f7f7"/><rect x="250.0" width="1.05" height="12.3" fill="#f2f2f2"/><rect x="251.0" width="1.05" height="12.3" fill="#ececec"/><rect x="252.0" width="1.05" height="12.3" fill="#e2e2e2"/><rect x="253.0" width="1.05" height="12.3" fill="#dadada"/><rect x="254.0" width="1.05" height="12.3" fill="#dbdbdb"/><rect x="255.0" width="1.05" height="12.3" fill="#dcdcdc"/><rect x="256.0" width="1.05" height="12.3" fill="#d6d6d6"/><rect x="257.0" width="1.05" height="12.3" fill="#dcdcdc"/><rect x="258.0" width="1.05" height="12.3" fill="#e1e1e1"/><rect x="259.0" width="1.05" height="12.3" fill="#dadada"/><rect x="260.0" width="1.05" height="12.3" fill="#dcdcdc"/><rect x="261.0" width="1.05" height="12.3" fill="#dbdbdb"/><rect x="262.0" width="1.05" height="12.3" fill="#e8e8e8"/><rect x="263.0" width="1.05" height="12.3" fill="#e8e8e8"/><rect x="264.0" width="1.05" height="12.3" fill="#d8d8d8"/><rect x="265.0" width="1.05" height="12.3" fill="#cfcfcf"/><rect x="266.0" width="1.05" height="12.3" fill="#cecece"/><rect x="267.0" width="1.05" height="12.3" fill="#dbdbdb"/><rect x="268.0" width="1.05" height="12.3" fill="#e1e1e1"/><rect x="269.0" width="1.05" height="12.3" fill="#d9d9d9"/><rect x="270.0" width="1.05" height="12.3" fill="#d7d7d7"/><rect x="271.0" width="1.05" height="12.3" fill="#dbdbdb"/><rect x="272.0" width="1.05" height="12.3" fill="#e1e1e1"/><rect x="273.0" width="1.05" height="12.3" fill="#e5e5e5"/><rect x="274.0" width="1.05" height="12.3" fill="#dddddd"/><rect x="275.0" width="1.05" height="12.3" fill="#d0d0d0"/><rect x="276.0" width="1.05" height="12.3" fill="#d6d6d6"/><rect x="277.0" width="1.05" height="12.3" fill="#d8d8d8"/><rect x="278.0" width="1.05" height="12.3" fill="#dcdcdc"/><rect x="279.0" width="1.05" height="12.3" fill="#dddddd"/><rect x="280.0" width="1.05" height="12.3" fill="#d2d2d2"/><rect x="281.0" width="1.05" height="12.3" fill="#d4d4d4"/><rect x="282.0" width="1.05" height="12.3" fill="#dfdfdf"/><rect x="283.0" width="1.05" height="12.3" fill="#dadada"/><rect x="284.0" width="1.05" height="12.3" fill="#cdcdcd"/><rect x="285.0" width="1.05" height="12.3" fill="#d7d7d7"/><rect x="286.0" width="1.05" height="12.3" fill="#e3e3e3"/><rect x="287.0" width="1.05" height="12.3" fill="#c6c6c6"/><rect x="288.0" width="1.05" height="12.3" fill="#b4b4b4"/><rect x="289.0" width="1.05" height="12.3" fill="#adadad"/><rect x="290.0" width="1.05" height="12.3" fill="#adadad"/><rect x="291.0" width="1.05" height="12.3" fill="#aaaaaa"/><rect x="292.0" width="1.05" height="12.3" fill="#a4a4a4"/><rect x="293.0" width="1.05" height="12.3" fill="#b1b1b1"/><rect x="294.0" width="1.05" height="12.3" fill="#cccccc"/><rect x="295.0" width="1.05" height="12.3" fill="#dbdbdb"/><rect x="296.0" width="1.05" height="12.3" fill="#dddddd"/><rect x="297.0" width="1.05" height="12.3" fill="#d0d0d0"/><rect x="298.0" width="1.05" height="12.3" fill="#b9b9b9"/><rect x="299.0" width="1.05" height="12.3" fill="#a5a5a5"/><rect x="300.0" width="1.05" height="12.3" fill="#9a9a9a"/><rect x="301.0" width="1.05" height="12.3" fill="#999999"/><rect x="302.0" width="1.05" height="12.3" fill="#9b9b9b"/><rect x="303.0" width="1.05" height="12.3" fill="#9e9e9e"/><rect x="304.0" width="1.05" height="12.3" fill="#bfbfbf"/><rect x="305.0" width="1.05" height="12.3" fill="#d9d9d9"/><rect x="306.0" width="1.05" height="12.3" fill="#e7e7e7"/><rect x="307.0" width="1.05" height="12.3" fill="#e8e8e8"/><rect x="308.0" width="1.05" height="12.3" fill="#e8e8e8"/><rect x="309.0" width="1.05" height="12.3" fill="#e1e1e1"/><rect x="310.0" width="1.05" height="12.3" fill="#e8e8e8"/><rect x="311.0" width="1.05" height="12.3" fill="#e6e6e6"/><rect x="312.0" width="1.05" height="12.3" fill="#dbdbdb"/><rect x="313.0" width="1.05" height="12.3" fill="#dddddd"/><rect x="314.0" width="1.05" height="12.3" fill="#e1e1e1"/><rect x="315.0" width="1.05" height="12.3" fill="#e8e8e8"/><rect x="316.0" width="1.05" height="12.3" fill="#e8e8e8"/><rect x="317.0" width="1.05" height="12.3" fill="#e8e8e8"/><rect x="318.0" width="1.05" height="12.3" fill="#e8e8e8"/><rect x="319.0" width="1.05" height="12.3" fill="#e1e1e1"/><rect x="320.0" width="1.05" height="12.3" fill="#e2e2e2"/><rect x="321.0" width="1.05" height="12.3" fill="#ececec"/><rect x="322.0" width="1.05" height="12.3" fill="#f0f0f0"/><rect x="323.0" width="1.05" height="12.3" fill="#f0f0f0"/><rect x="324.0" width="1.05" height="12.3" fill="#f7f7f7"/></g><g transform="translate(0,473.7)"><rect x="249.0" width="1.05" height="9.1" fill="#f4f4f4"/><rect x="250.0" width="1.05" height="9.1" fill="#ebebeb"/><rect x="251.0" width="1.05" height="9.1" fill="#e0e0e0"/><rect x="252.0" width="1.05" height="9.1" fill="#d3d3d3"/><rect x="253.0" width="1.05" height="9.1" fill="#c9c9c9"/><rect x="254.0" width="1.05" height="9.1" fill="#c9c9c9"/><rect x="255.0" width="1.05" height="9.1" fill="#c9c9c9"/><rect x="256.0" width="1.05" height="9.1" fill="#c5c5c5"/><rect x="257.0" width="1.05" height="9.1" fill="#cacaca"/><rect x="258.0" width="1.05" height="9.1" fill="#cbcbcb"/><rect x="259.0" width="1.05" height="9.1" fill="#c7c7c7"/><rect x="260.0" width="1.05" height="9.1" fill="#cacaca"/><rect x="261.0" width="1.05" height="9.1" fill="#c9c9c9"/><rect x="262.0" width="1.05" height="9.1" fill="#d0d0d0"/><rect x="263.0" width="1.05" height="9.1" fill="#cecece"/><rect x="264.0" width="1.05" height="9.1" fill="#bfbfbf"/><rect x="265.0" width="1.05" height="9.1" fill="#bebebe"/><rect x="266.0" width="1.05" height="9.1" fill="#bebebe"/><rect x="267.0" width="1.05" height="9.1" fill="#cecece"/><rect x="268.0" width="1.05" height="9.1" fill="#d4d4d4"/><rect x="269.0" width="1.05" height="9.1" fill="#c8c8c8"/><rect x="270.0" width="1.05" height="9.1" fill="#c1c1c1"/><rect x="271.0" width="1.05" height="9.1" fill="#c0c0c0"/><rect x="272.0" width="1.05" height="9.1" fill="#cbcbcb"/><rect x="273.0" width="1.05" height="9.1" fill="#cecece"/><rect x="274.0" width="1.05" height="9.1" fill="#c5c5c5"/><rect x="275.0" width="1.05" height="9.1" fill="#c1c1c1"/><rect x="276.0" width="1.05" height="9.1" fill="#cccccc"/><rect x="277.0" width="1.05" height="9.1" fill="#c5c5c5"/><rect x="278.0" width="1.05" height="9.1" fill="#bfbfbf"/><rect x="279.0" width="1.05" height="9.1" fill="#c1c1c1"/><rect x="280.0" width="1.05" height="9.1" fill="#b0b0b0"/><rect x="281.0" width="1.05" height="9.1" fill="#b5b5b5"/><rect x="282.0" width="1.05" height="9.1" fill="#c7c7c7"/><rect x="283.0" width="1.05" height="9.1" fill="#c2c2c2"/><rect x="284.0" width="1.05" height="9.1" fill="#bcbcbc"/><rect x="285.0" width="1.05" height="9.1" fill="#c7c7c7"/><rect x="286.0" width="1.05" height="9.1" fill="#c9c9c9"/><rect x="287.0" width="1.05" height="9.1" fill="#b8b8b8"/><rect x="288.0" width="1.05" height="9.1" fill="#b2b2b2"/><rect x="289.0" width="1.05" height="9.1" fill="#bbbbbb"/><rect x="290.0" width="1.05" height="9.1" fill="#bebebe"/><rect x="291.0" width="1.05" height="9.1" fill="#bcbcbc"/><rect x="292.0" width="1.05" height="9.1" fill="#b1b1b1"/><rect x="293.0" width="1.05" height="9.1" fill="#b2b2b2"/><rect x="294.0" width="1.05" height="9.1" fill="#b4b4b4"/><rect x="295.0" width="1.05" height="9.1" fill="#b6b6b6"/><rect x="296.0" width="1.05" height="9.1" fill="#b0b0b0"/><rect x="297.0" width="1.05" height="9.1" fill="#ababab"/><rect x="298.0" width="1.05" height="9.1" fill="#a6a6a6"/><rect x="299.0" width="1.05" height="9.1" fill="#aeaeae"/><rect x="300.0" width="1.05" height="9.1" fill="#adadad"/><rect x="301.0" width="1.05" height="9.1" fill="#a9a9a9"/><rect x="302.0" width="1.05" height="9.1" fill="#bebebe"/><rect x="303.0" width="1.05" height="9.1" fill="#c5c5c5"/><rect x="304.0" width="1.05" height="9.1" fill="#cbcbcb"/><rect x="305.0" width="1.05" height="9.1" fill="#cecece"/><rect x="306.0" width="1.05" height="9.1" fill="#e0e0e0"/><rect x="307.0" width="1.05" height="9.1" fill="#e6e6e6"/><rect x="308.0" width="1.05" height="9.1" fill="#d7d7d7"/><rect x="309.0" width="1.05" height="9.1" fill="#d8d8d8"/><rect x="310.0" width="1.05" height="9.1" fill="#e8e8e8"/><rect x="311.0" width="1.05" height="9.1" fill="#e8e8e8"/><rect x="312.0" width="1.05" height="9.1" fill="#d8d8d8"/><rect x="313.0" width="1.05" height="9.1" fill="#dadada"/><rect x="314.0" width="1.05" height="9.1" fill="#dfdfdf"/><rect x="315.0" width="1.05" height="9.1" fill="#e3e3e3"/><rect x="316.0" width="1.05" height="9.1" fill="#e1e1e1"/><rect x="317.0" width="1.05" height="9.1" fill="#e0e0e0"/><rect x="318.0" width="1.05" height="9.1" fill="#dcdcdc"/><rect x="319.0" width="1.05" height="9.1" fill="#dedede"/><rect x="320.0" width="1.05" height="9.1" fill="#e7e7e7"/><rect x="321.0" width="1.05" height="9.1" fill="#e8e8e8"/><rect x="322.0" width="1.05" height="9.1" fill="#ebebeb"/><rect x="323.0" width="1.05" height="9.1" fill="#f2f2f2"/><rect x="324.0" width="1.05" height="9.1" fill="#f8f8f8"/></g><g transform="translate(0,356.8)"><rect x="361.6" width="1.05" height="11.6" fill="#f2f2f2"/><rect x="362.6" width="1.05" height="11.6" fill="#eaeaea"/><rect x="363.6" width="1.05" height="11.6" fill="#e5e5e5"/><rect x="364.6" width="1.05" height="11.6" fill="#d6d6d6"/><rect x="365.6" width="1.05" height="11.6" fill="#c8c8c8"/><rect x="366.6" width="1.05" height="11.6" fill="#c6c6c6"/><rect x="367.6" width="1.05" height="11.6" fill="#c7c7c7"/><rect x="368.6" width="1.05" height="11.6" fill="#c4c4c4"/><rect x="369.6" width="1.05" height="11.6" fill="#bfbfbf"/><rect x="370.6" width="1.05" height="11.6" fill="#bfbfbf"/><rect x="371.6" width="1.05" height="11.6" fill="#c6c6c6"/><rect x="372.6" width="1.05" height="11.6" fill="#cbcbcb"/><rect x="373.6" width="1.05" height="11.6" fill="#cfcfcf"/><rect x="374.6" width="1.05" height="11.6" fill="#cccccc"/><rect x="375.6" width="1.05" height="11.6" fill="#cccccc"/><rect x="376.6" width="1.05" height="11.6" fill="#cbcbcb"/><rect x="377.6" width="1.05" height="11.6" fill="#d5d5d5"/><rect x="378.6" width="1.05" height="11.6" fill="#d6d6d6"/><rect x="379.6" width="1.05" height="11.6" fill="#cecece"/><rect x="380.6" width="1.05" height="11.6" fill="#d3d3d3"/><rect x="381.6" width="1.05" height="11.6" fill="#d0d0d0"/><rect x="382.6" width="1.05" height="11.6" fill="#cccccc"/><rect x="383.6" width="1.05" height="11.6" fill="#d1d1d1"/><rect x="384.6" width="1.05" height="11.6" fill="#d6d6d6"/><rect x="385.6" width="1.05" height="11.6" fill="#d1d1d1"/><rect x="386.6" width="1.05" height="11.6" fill="#cdcdcd"/><rect x="387.6" width="1.05" height="11.6" fill="#c6c6c6"/><rect x="388.6" width="1.05" height="11.6" fill="#c9c9c9"/><rect x="389.6" width="1.05" height="11.6" fill="#d1d1d1"/><rect x="390.6" width="1.05" height="11.6" fill="#d4d4d4"/><rect x="391.6" width="1.05" height="11.6" fill="#cccccc"/><rect x="392.6" width="1.05" height="11.6" fill="#bababa"/><rect x="393.6" width="1.05" height="11.6" fill="#bababa"/><rect x="394.6" width="1.05" height="11.6" fill="#bbbbbb"/><rect x="395.6" width="1.05" height="11.6" fill="#bdbdbd"/><rect x="396.6" width="1.05" height="11.6" fill="#bababa"/><rect x="397.6" width="1.05" height="11.6" fill="#b5b5b5"/><rect x="398.6" width="1.05" height="11.6" fill="#adadad"/><rect x="399.6" width="1.05" height="11.6" fill="#a5a5a5"/><rect x="400.6" width="1.05" height="11.6" fill="#a4a4a4"/><rect x="401.6" width="1.05" height="11.6" fill="#a5a5a5"/><rect x="402.6" width="1.05" height="11.6" fill="#b2b2b2"/><rect x="403.6" width="1.05" height="11.6" fill="#b7b7b7"/><rect x="404.6" width="1.05" height="11.6" fill="#bababa"/><rect x="405.6" width="1.05" height="11.6" fill="#aaaaaa"/><rect x="406.6" width="1.05" height="11.6" fill="#a1a1a1"/><rect x="407.6" width="1.05" height="11.6" fill="#a8a8a8"/><rect x="408.6" width="1.05" height="11.6" fill="#b6b6b6"/><rect x="409.6" width="1.05" height="11.6" fill="#bfbfbf"/><rect x="410.6" width="1.05" height="11.6" fill="#b8b8b8"/><rect x="411.6" width="1.05" height="11.6" fill="#b7b7b7"/><rect x="412.6" width="1.05" height="11.6" fill="#bebebe"/><rect x="413.6" width="1.05" height="11.6" fill="#b4b4b4"/><rect x="414.6" width="1.05" height="11.6" fill="#b8b8b8"/><rect x="415.6" width="1.05" height="11.6" fill="#c6c6c6"/><rect x="416.6" width="1.05" height="11.6" fill="#bababa"/><rect x="417.6" width="1.05" height="11.6" fill="#b9b9b9"/><rect x="418.6" width="1.05" height="11.6" fill="#b6b6b6"/><rect x="419.6" width="1.05" height="11.6" fill="#aeaeae"/><rect x="420.6" width="1.05" height="11.6" fill="#9f9f9f"/><rect x="421.6" width="1.05" height="11.6" fill="#979797"/><rect x="422.6" width="1.05" height="11.6" fill="#a2a2a2"/><rect x="423.6" width="1.05" height="11.6" fill="#ababab"/><rect x="424.6" width="1.05" height="11.6" fill="#a4a4a4"/><rect x="425.6" width="1.05" height="11.6" fill="#9e9e9e"/><rect x="426.6" width="1.05" height="11.6" fill="#9a9a9a"/><rect x="427.6" width="1.05" height="11.6" fill="#9a9a9a"/><rect x="428.6" width="1.05" height="11.6" fill="#9f9f9f"/><rect x="429.6" width="1.05" height="11.6" fill="#9a9a9a"/><rect x="430.6" width="1.05" height="11.6" fill="#ababab"/><rect x="431.6" width="1.05" height="11.6" fill="#b5b5b5"/><rect x="432.6" width="1.05" height="11.6" fill="#bbbbbb"/><rect x="433.6" width="1.05" height="11.6" fill="#c1c1c1"/><rect x="434.6" width="1.05" height="11.6" fill="#c7c7c7"/><rect x="435.6" width="1.05" height="11.6" fill="#dcdcdc"/><rect x="436.6" width="1.05" height="11.6" fill="#ededed"/><rect x="437.6" width="1.05" height="11.6" fill="#f5f5f5"/></g><g transform="translate(0,369.6)"><rect x="361.6" width="1.05" height="11.4" fill="#f3f3f3"/><rect x="362.6" width="1.05" height="11.4" fill="#e8e8e8"/><rect x="363.6" width="1.05" height="11.4" fill="#dcdcdc"/><rect x="364.6" width="1.05" height="11.4" fill="#d4d4d4"/><rect x="365.6" width="1.05" height="11.4" fill="#cbcbcb"/><rect x="366.6" width="1.05" height="11.4" fill="#c9c9c9"/><rect x="367.6" width="1.05" height="11.4" fill="#cecece"/><rect x="368.6" width="1.05" height="11.4" fill="#cdcdcd"/><rect x="369.6" width="1.05" height="11.4" fill="#c8c8c8"/><rect x="370.6" width="1.05" height="11.4" fill="#c4c4c4"/><rect x="371.6" width="1.05" height="11.4" fill="#c7c7c7"/><rect x="372.6" width="1.05" height="11.4" fill="#d4d4d4"/><rect x="373.6" width="1.05" height="11.4" fill="#d1d1d1"/><rect x="374.6" width="1.05" height="11.4" fill="#c4c4c4"/><rect x="375.6" width="1.05" height="11.4" fill="#c1c1c1"/><rect x="376.6" width="1.05" height="11.4" fill="#c4c4c4"/><rect x="377.6" width="1.05" height="11.4" fill="#cccccc"/><rect x="378.6" width="1.05" height="11.4" fill="#cccccc"/><rect x="379.6" width="1.05" height="11.4" fill="#d1d1d1"/><rect x="380.6" width="1.05" height="11.4" fill="#d7d7d7"/><rect x="381.6" width="1.05" height="11.4" fill="#cfcfcf"/><rect x="382.6" width="1.05" height="11.4" fill="#cacaca"/><rect x="383.6" width="1.05" height="11.4" fill="#d3d3d3"/><rect x="384.6" width="1.05" height="11.4" fill="#dedede"/><rect x="385.6" width="1.05" height="11.4" fill="#d5d5d5"/><rect x="386.6" width="1.05" height="11.4" fill="#c9c9c9"/><rect x="387.6" width="1.05" height="11.4" fill="#c2c2c2"/><rect x="388.6" width="1.05" height="11.4" fill="#c5c5c5"/><rect x="389.6" width="1.05" height="11.4" fill="#cbcbcb"/><rect x="390.6" width="1.05" height="11.4" fill="#d7d7d7"/><rect x="391.6" width="1.05" height="11.4" fill="#cccccc"/><rect x="392.6" width="1.05" height="11.4" fill="#b9b9b9"/><rect x="393.6" width="1.05" height="11.4" fill="#b4b4b4"/><rect x="394.6" width="1.05" height="11.4" fill="#b2b2b2"/><rect x="395.6" width="1.05" height="11.4" fill="#b7b7b7"/><rect x="396.6" width="1.05" height="11.4" fill="#b6b6b6"/><rect x="397.6" width="1.05" height="11.4" fill="#b5b5b5"/><rect x="398.6" width="1.05" height="11.4" fill="#adadad"/><rect x="399.6" width="1.05" height="11.4" fill="#a8a8a8"/><rect x="400.6" width="1.05" height="11.4" fill="#a7a7a7"/><rect x="401.6" width="1.05" height="11.4" fill="#acacac"/><rect x="402.6" width="1.05" height="11.4" fill="#b4b4b4"/><rect x="403.6" width="1.05" height="11.4" fill="#bbbbbb"/><rect x="404.6" width="1.05" height="11.4" fill="#b8b8b8"/><rect x="405.6" width="1.05" height="11.4" fill="#a3a3a3"/><rect x="406.6" width="1.05" height="11.4" fill="#a3a3a3"/><rect x="407.6" width="1.05" height="11.4" fill="#b5b5b5"/><rect x="408.6" width="1.05" height="11.4" fill="#b5b5b5"/><rect x="409.6" width="1.05" height="11.4" fill="#bdbdbd"/><rect x="410.6" width="1.05" height="11.4" fill="#b6b6b6"/><rect x="411.6" width="1.05" height="11.4" fill="#bbbbbb"/><rect x="412.6" width="1.05" height="11.4" fill="#bbbbbb"/><rect x="413.6" width="1.05" height="11.4" fill="#b6b6b6"/><rect x="414.6" width="1.05" height="11.4" fill="#bebebe"/><rect x="415.6" width="1.05" height="11.4" fill="#cacaca"/><rect x="416.6" width="1.05" height="11.4" fill="#c7c7c7"/><rect x="417.6" width="1.05" height="11.4" fill="#bababa"/><rect x="418.6" width="1.05" height="11.4" fill="#b0b0b0"/><rect x="419.6" width="1.05" height="11.4" fill="#b2b2b2"/><rect x="420.6" width="1.05" height="11.4" fill="#b2b2b2"/><rect x="421.6" width="1.05" height="11.4" fill="#a1a1a1"/><rect x="422.6" width="1.05" height="11.4" fill="#9c9c9c"/><rect x="423.6" width="1.05" height="11.4" fill="#a7a7a7"/><rect x="424.6" width="1.05" height="11.4" fill="#a3a3a3"/><rect x="425.6" width="1.05" height="11.4" fill="#a1a1a1"/><rect x="426.6" width="1.05" height="11.4" fill="#9f9f9f"/><rect x="427.6" width="1.05" height="11.4" fill="#a8a8a8"/><rect x="428.6" width="1.05" height="11.4" fill="#a1a1a1"/><rect x="429.6" width="1.05" height="11.4" fill="#9d9d9d"/><rect x="430.6" width="1.05" height="11.4" fill="#adadad"/><rect x="431.6" width="1.05" height="11.4" fill="#b3b3b3"/><rect x="432.6" width="1.05" height="11.4" fill="#b0b0b0"/><rect x="433.6" width="1.05" height="11.4" fill="#c5c5c5"/><rect x="434.6" width="1.05" height="11.4" fill="#cdcdcd"/><rect x="435.6" width="1.05" height="11.4" fill="#dadada"/><rect x="436.6" width="1.05" height="11.4" fill="#ececec"/><rect x="437.6" width="1.05" height="11.4" fill="#f5f5f5"/></g><g transform="translate(0,382.1)"><rect x="361.6" width="1.05" height="13.0" fill="#f4f4f4"/><rect x="362.6" width="1.05" height="13.0" fill="#ececec"/><rect x="363.6" width="1.05" height="13.0" fill="#e3e3e3"/><rect x="364.6" width="1.05" height="13.0" fill="#d5d5d5"/><rect x="365.6" width="1.05" height="13.0" fill="#cdcdcd"/><rect x="366.6" width="1.05" height="13.0" fill="#c6c6c6"/><rect x="367.6" width="1.05" height="13.0" fill="#c6c6c6"/><rect x="368.6" width="1.05" height="13.0" fill="#c7c7c7"/><rect x="369.6" width="1.05" height="13.0" fill="#c6c6c6"/><rect x="370.6" width="1.05" height="13.0" fill="#c8c8c8"/><rect x="371.6" width="1.05" height="13.0" fill="#c7c7c7"/><rect x="372.6" width="1.05" height="13.0" fill="#c9c9c9"/><rect x="373.6" width="1.05" height="13.0" fill="#d2d2d2"/><rect x="374.6" width="1.05" height="13.0" fill="#c6c6c6"/><rect x="375.6" width="1.05" height="13.0" fill="#c4c4c4"/><rect x="376.6" width="1.05" height="13.0" fill="#c8c8c8"/><rect x="377.6" width="1.05" height="13.0" fill="#d3d3d3"/><rect x="378.6" width="1.05" height="13.0" fill="#cecece"/><rect x="379.6" width="1.05" height="13.0" fill="#d2d2d2"/><rect x="380.6" width="1.05" height="13.0" fill="#e0e0e0"/><rect x="381.6" width="1.05" height="13.0" fill="#d8d8d8"/><rect x="382.6" width="1.05" height="13.0" fill="#cecece"/><rect x="383.6" width="1.05" height="13.0" fill="#d1d1d1"/><rect x="384.6" width="1.05" height="13.0" fill="#cecece"/><rect x="385.6" width="1.05" height="13.0" fill="#cbcbcb"/><rect x="386.6" width="1.05" height="13.0" fill="#c4c4c4"/><rect x="387.6" width="1.05" height="13.0" fill="#bdbdbd"/><rect x="388.6" width="1.05" height="13.0" fill="#cacaca"/><rect x="389.6" width="1.05" height="13.0" fill="#d8d8d8"/><rect x="390.6" width="1.05" height="13.0" fill="#d2d2d2"/><rect x="391.6" width="1.05" height="13.0" fill="#c9c9c9"/><rect x="392.6" width="1.05" height="13.0" fill="#b8b8b8"/><rect x="393.6" width="1.05" height="13.0" fill="#a9a9a9"/><rect x="394.6" width="1.05" height="13.0" fill="#a9a9a9"/><rect x="395.6" width="1.05" height="13.0" fill="#b2b2b2"/><rect x="396.6" width="1.05" height="13.0" fill="#b4b4b4"/><rect x="397.6" width="1.05" height="13.0" fill="#b1b1b1"/><rect x="398.6" width="1.05" height="13.0" fill="#adadad"/><rect x="399.6" width="1.05" height="13.0" fill="#aeaeae"/><rect x="400.6" width="1.05" height="13.0" fill="#aaaaaa"/><rect x="401.6" width="1.05" height="13.0" fill="#a8a8a8"/><rect x="402.6" width="1.05" height="13.0" fill="#b0b0b0"/><rect x="403.6" width="1.05" height="13.0" fill="#b5b5b5"/><rect x="404.6" width="1.05" height="13.0" fill="#b3b3b3"/><rect x="405.6" width="1.05" height="13.0" fill="#a8a8a8"/><rect x="406.6" width="1.05" height="13.0" fill="#ababab"/><rect x="407.6" width="1.05" height="13.0" fill="#b1b1b1"/><rect x="408.6" width="1.05" height="13.0" fill="#bababa"/><rect x="409.6" width="1.05" height="13.0" fill="#c9c9c9"/><rect x="410.6" width="1.05" height="13.0" fill="#bbbbbb"/><rect x="411.6" width="1.05" height="13.0" fill="#b5b5b5"/><rect x="412.6" width="1.05" height="13.0" fill="#bababa"/><rect x="413.6" width="1.05" height="13.0" fill="#bababa"/><rect x="414.6" width="1.05" height="13.0" fill="#bcbcbc"/><rect x="415.6" width="1.05" height="13.0" fill="#c7c7c7"/><rect x="416.6" width="1.05" height="13.0" fill="#c9c9c9"/><rect x="417.6" width="1.05" height="13.0" fill="#bebebe"/><rect x="418.6" width="1.05" height="13.0" fill="#b3b3b3"/><rect x="419.6" width="1.05" height="13.0" fill="#adadad"/><rect x="420.6" width="1.05" height="13.0" fill="#aaaaaa"/><rect x="421.6" width="1.05" height="13.0" fill="#9f9f9f"/><rect x="422.6" width="1.05" height="13.0" fill="#a4a4a4"/><rect x="423.6" width="1.05" height="13.0" fill="#b3b3b3"/><rect x="424.6" width="1.05" height="13.0" fill="#acacac"/><rect x="425.6" width="1.05" height="13.0" fill="#adadad"/><rect x="426.6" width="1.05" height="13.0" fill="#aaaaaa"/><rect x="427.6" width="1.05" height="13.0" fill="#acacac"/><rect x="428.6" width="1.05" height="13.0" fill="#a2a2a2"/><rect x="429.6" width="1.05" height="13.0" fill="#999999"/><rect x="430.6" width="1.05" height="13.0" fill="#b1b1b1"/><rect x="431.6" width="1.05" height="13.0" fill="#b8b8b8"/><rect x="432.6" width="1.05" height="13.0" fill="#b8b8b8"/><rect x="433.6" width="1.05" height="13.0" fill="#c5c5c5"/><rect x="434.6" width="1.05" height="13.0" fill="#d0d0d0"/><rect x="435.6" width="1.05" height="13.0" fill="#dddddd"/><rect x="436.6" width="1.05" height="13.0" fill="#ececec"/><rect x="437.6" width="1.05" height="13.0" fill="#f5f5f5"/></g><g transform="translate(0,396.3)"><rect x="361.6" width="1.05" height="9.8" fill="#f3f3f3"/><rect x="362.6" width="1.05" height="9.8" fill="#eaeaea"/><rect x="363.6" width="1.05" height="9.8" fill="#e3e3e3"/><rect x="364.6" width="1.05" height="9.8" fill="#d3d3d3"/><rect x="365.6" width="1.05" height="9.8" fill="#c4c4c4"/><rect x="366.6" width="1.05" height="9.8" fill="#c8c8c8"/><rect x="367.6" width="1.05" height="9.8" fill="#c7c7c7"/><rect x="368.6" width="1.05" height="9.8" fill="#c5c5c5"/><rect x="369.6" width="1.05" height="9.8" fill="#c3c3c3"/><rect x="370.6" width="1.05" height="9.8" fill="#bfbfbf"/><rect x="371.6" width="1.05" height="9.8" fill="#c8c8c8"/><rect x="372.6" width="1.05" height="9.8" fill="#cfcfcf"/><rect x="373.6" width="1.05" height="9.8" fill="#c8c8c8"/><rect x="374.6" width="1.05" height="9.8" fill="#b7b7b7"/><rect x="375.6" width="1.05" height="9.8" fill="#b9b9b9"/><rect x="376.6" width="1.05" height="9.8" fill="#bdbdbd"/><rect x="377.6" width="1.05" height="9.8" fill="#c4c4c4"/><rect x="378.6" width="1.05" height="9.8" fill="#cecece"/><rect x="379.6" width="1.05" height="9.8" fill="#dbdbdb"/><rect x="380.6" width="1.05" height="9.8" fill="#d8d8d8"/><rect x="381.6" width="1.05" height="9.8" fill="#cecece"/><rect x="382.6" width="1.05" height="9.8" fill="#cacaca"/><rect x="383.6" width="1.05" height="9.8" fill="#cecece"/><rect x="384.6" width="1.05" height="9.8" fill="#cecece"/><rect x="385.6" width="1.05" height="9.8" fill="#c8c8c8"/><rect x="386.6" width="1.05" height="9.8" fill="#bebebe"/><rect x="387.6" width="1.05" height="9.8" fill="#bababa"/><rect x="388.6" width="1.05" height="9.8" fill="#bebebe"/><rect x="389.6" width="1.05" height="9.8" fill="#d3d3d3"/><rect x="390.6" width="1.05" height="9.8" fill="#d6d6d6"/><rect x="391.6" width="1.05" height="9.8" fill="#c6c6c6"/><rect x="392.6" width="1.05" height="9.8" fill="#b8b8b8"/><rect x="393.6" width="1.05" height="9.8" fill="#b5b5b5"/><rect x="394.6" width="1.05" height="9.8" fill="#b4b4b4"/><rect x="395.6" width="1.05" height="9.8" fill="#bababa"/><rect x="396.6" width="1.05" height="9.8" fill="#b4b4b4"/><rect x="397.6" width="1.05" height="9.8" fill="#ababab"/><rect x="398.6" width="1.05" height="9.8" fill="#a2a2a2"/><rect x="399.6" width="1.05" height="9.8" fill="#a4a4a4"/><rect x="400.6" width="1.05" height="9.8" fill="#a5a5a5"/><rect x="401.6" width="1.05" height="9.8" fill="#aaaaaa"/><rect x="402.6" width="1.05" height="9.8" fill="#bababa"/><rect x="403.6" width="1.05" height="9.8" fill="#c0c0c0"/><rect x="404.6" width="1.05" height="9.8" fill="#bababa"/><rect x="405.6" width="1.05" height="9.8" fill="#b3b3b3"/><rect x="406.6" width="1.05" height="9.8" fill="#acacac"/><rect x="407.6" width="1.05" height="9.8" fill="#acacac"/><rect x="408.6" width="1.05" height="9.8" fill="#aeaeae"/><rect x="409.6" width="1.05" height="9.8" fill="#c1c1c1"/><rect x="410.6" width="1.05" height="9.8" fill="#bbbbbb"/><rect x="411.6" width="1.05" height="9.8" fill="#b9b9b9"/><rect x="412.6" width="1.05" height="9.8" fill="#bababa"/><rect x="413.6" width="1.05" height="9.8" fill="#bcbcbc"/><rect x="414.6" width="1.05" height="9.8" fill="#bfbfbf"/><rect x="415.6" width="1.05" height="9.8" fill="#c4c4c4"/><rect x="416.6" width="1.05" height="9.8" fill="#bbbbbb"/><rect x="417.6" width="1.05" height="9.8" fill="#b7b7b7"/><rect x="418.6" width="1.05" height="9.8" fill="#b2b2b2"/><rect x="419.6" width="1.05" height="9.8" fill="#b0b0b0"/><rect x="420.6" width="1.05" height="9.8" fill="#a6a6a6"/><rect x="421.6" width="1.05" height="9.8" fill="#9e9e9e"/><rect x="422.6" width="1.05" height="9.8" fill="#9d9d9d"/><rect x="423.6" width="1.05" height="9.8" fill="#a5a5a5"/><rect x="424.6" width="1.05" height="9.8" fill="#a4a4a4"/><rect x="425.6" width="1.05" height="9.8" fill="#9f9f9f"/><rect x="426.6" width="1.05" height="9.8" fill="#9d9d9d"/><rect x="427.6" width="1.05" height="9.8" fill="#9c9c9c"/><rect x="428.6" width="1.05" height="9.8" fill="#989898"/><rect x="429.6" width="1.05" height="9.8" fill="#8c8c8c"/><rect x="430.6" width="1.05" height="9.8" fill="#a5a5a5"/><rect x="431.6" width="1.05" height="9.8" fill="#aeaeae"/><rect x="432.6" width="1.05" height="9.8" fill="#b1b1b1"/><rect x="433.6" width="1.05" height="9.8" fill="#bebebe"/><rect x="434.6" width="1.05" height="9.8" fill="#cbcbcb"/><rect x="435.6" width="1.05" height="9.8" fill="#dcdcdc"/><rect x="436.6" width="1.05" height="9.8" fill="#ececec"/><rect x="437.6" width="1.05" height="9.8" fill="#f5f5f5"/></g><g transform="translate(0,407.3)"><rect x="361.6" width="1.05" height="13.0" fill="#f2f2f2"/><rect x="362.6" width="1.05" height="13.0" fill="#e9e9e9"/><rect x="363.6" width="1.05" height="13.0" fill="#e2e2e2"/><rect x="364.6" width="1.05" height="13.0" fill="#d9d9d9"/><rect x="365.6" width="1.05" height="13.0" fill="#d0d0d0"/><rect x="366.6" width="1.05" height="13.0" fill="#cccccc"/><rect x="367.6" width="1.05" height="13.0" fill="#cacaca"/><rect x="368.6" width="1.05" height="13.0" fill="#c9c9c9"/><rect x="369.6" width="1.05" height="13.0" fill="#c7c7c7"/><rect x="370.6" width="1.05" height="13.0" fill="#c4c4c4"/><rect x="371.6" width="1.05" height="13.0" fill="#c4c4c4"/><rect x="372.6" width="1.05" height="13.0" fill="#d2d2d2"/><rect x="373.6" width="1.05" height="13.0" fill="#d7d7d7"/><rect x="374.6" width="1.05" height="13.0" fill="#cccccc"/><rect x="375.6" width="1.05" height="13.0" fill="#cccccc"/><rect x="376.6" width="1.05" height="13.0" fill="#cecece"/><rect x="377.6" width="1.05" height="13.0" fill="#d1d1d1"/><rect x="378.6" width="1.05" height="13.0" fill="#cfcfcf"/><rect x="379.6" width="1.05" height="13.0" fill="#d4d4d4"/><rect x="380.6" width="1.05" height="13.0" fill="#dadada"/><rect x="381.6" width="1.05" height="13.0" fill="#d2d2d2"/><rect x="382.6" width="1.05" height="13.0" fill="#cbcbcb"/><rect x="383.6" width="1.05" height="13.0" fill="#d6d6d6"/><rect x="384.6" width="1.05" height="13.0" fill="#d7d7d7"/><rect x="385.6" width="1.05" height="13.0" fill="#d1d1d1"/><rect x="386.6" width="1.05" height="13.0" fill="#c8c8c8"/><rect x="387.6" width="1.05" height="13.0" fill="#bfbfbf"/><rect x="388.6" width="1.05" height="13.0" fill="#cacaca"/><rect x="389.6" width="1.05" height="13.0" fill="#d4d4d4"/><rect x="390.6" width="1.05" height="13.0" fill="#cfcfcf"/><rect x="391.6" width="1.05" height="13.0" fill="#c2c2c2"/><rect x="392.6" width="1.05" height="13.0" fill="#bdbdbd"/><rect x="393.6" width="1.05" height="13.0" fill="#b5b5b5"/><rect x="394.6" width="1.05" height="13.0" fill="#b4b4b4"/><rect x="395.6" width="1.05" height="13.0" fill="#b6b6b6"/><rect x="396.6" width="1.05" height="13.0" fill="#b0b0b0"/><rect x="397.6" width="1.05" height="13.0" fill="#aaaaaa"/><rect x="398.6" width="1.05" height="13.0" fill="#a2a2a2"/><rect x="399.6" width="1.05" height="13.0" fill="#a0a0a0"/><rect x="400.6" width="1.05" height="13.0" fill="#9f9f9f"/><rect x="401.6" width="1.05" height="13.0" fill="#a3a3a3"/><rect x="402.6" width="1.05" height="13.0" fill="#adadad"/><rect x="403.6" width="1.05" height="13.0" fill="#aeaeae"/><rect x="404.6" width="1.05" height="13.0" fill="#aeaeae"/><rect x="405.6" width="1.05" height="13.0" fill="#a7a7a7"/><rect x="406.6" width="1.05" height="13.0" fill="#a4a4a4"/><rect x="407.6" width="1.05" height="13.0" fill="#a2a2a2"/><rect x="408.6" width="1.05" height="13.0" fill="#a6a6a6"/><rect x="409.6" width="1.05" height="13.0" fill="#b9b9b9"/><rect x="410.6" width="1.05" height="13.0" fill="#b6b6b6"/><rect x="411.6" width="1.05" height="13.0" fill="#bcbcbc"/><rect x="412.6" width="1.05" height="13.0" fill="#c3c3c3"/><rect x="413.6" width="1.05" height="13.0" fill="#bcbcbc"/><rect x="414.6" width="1.05" height="13.0" fill="#bbbbbb"/><rect x="415.6" width="1.05" height="13.0" fill="#cbcbcb"/><rect x="416.6" width="1.05" height="13.0" fill="#c4c4c4"/><rect x="417.6" width="1.05" height="13.0" fill="#bababa"/><rect x="418.6" width="1.05" height="13.0" fill="#b0b0b0"/><rect x="419.6" width="1.05" height="13.0" fill="#b4b4b4"/><rect x="420.6" width="1.05" height="13.0" fill="#b4b4b4"/><rect x="421.6" width="1.05" height="13.0" fill="#a6a6a6"/><rect x="422.6" width="1.05" height="13.0" fill="#a1a1a1"/><rect x="423.6" width="1.05" height="13.0" fill="#b2b2b2"/><rect x="424.6" width="1.05" height="13.0" fill="#acacac"/><rect x="425.6" width="1.05" height="13.0" fill="#a1a1a1"/><rect x="426.6" width="1.05" height="13.0" fill="#a5a5a5"/><rect x="427.6" width="1.05" height="13.0" fill="#a3a3a3"/><rect x="428.6" width="1.05" height="13.0" fill="#9a9a9a"/><rect x="429.6" width="1.05" height="13.0" fill="#9a9a9a"/><rect x="430.6" width="1.05" height="13.0" fill="#b0b0b0"/><rect x="431.6" width="1.05" height="13.0" fill="#b8b8b8"/><rect x="432.6" width="1.05" height="13.0" fill="#bbbbbb"/><rect x="433.6" width="1.05" height="13.0" fill="#c5c5c5"/><rect x="434.6" width="1.05" height="13.0" fill="#c7c7c7"/><rect x="435.6" width="1.05" height="13.0" fill="#d9d9d9"/><rect x="436.6" width="1.05" height="13.0" fill="#eaeaea"/><rect x="437.6" width="1.05" height="13.0" fill="#f2f2f2"/></g><g transform="translate(0,421.3)"><rect x="361.6" width="1.05" height="10.7" fill="#f8f8f8"/><rect x="362.6" width="1.05" height="10.7" fill="#efefef"/><rect x="363.6" width="1.05" height="10.7" fill="#e1e1e1"/><rect x="364.6" width="1.05" height="10.7" fill="#c3c3c3"/><rect x="365.6" width="1.05" height="10.7" fill="#acacac"/><rect x="366.6" width="1.05" height="10.7" fill="#aeaeae"/><rect x="367.6" width="1.05" height="10.7" fill="#bebebe"/><rect x="368.6" width="1.05" height="10.7" fill="#c7c7c7"/><rect x="369.6" width="1.05" height="10.7" fill="#c0c0c0"/><rect x="370.6" width="1.05" height="10.7" fill="#b3b3b3"/><rect x="371.6" width="1.05" height="10.7" fill="#a6a6a6"/><rect x="372.6" width="1.05" height="10.7" fill="#acacac"/><rect x="373.6" width="1.05" height="10.7" fill="#bbbbbb"/><rect x="374.6" width="1.05" height="10.7" fill="#bababa"/><rect x="375.6" width="1.05" height="10.7" fill="#b4b4b4"/><rect x="376.6" width="1.05" height="10.7" fill="#b9b9b9"/><rect x="377.6" width="1.05" height="10.7" fill="#b6b6b6"/><rect x="378.6" width="1.05" height="10.7" fill="#b2b2b2"/><rect x="379.6" width="1.05" height="10.7" fill="#b1b1b1"/><rect x="380.6" width="1.05" height="10.7" fill="#b9b9b9"/><rect x="381.6" width="1.05" height="10.7" fill="#c0c0c0"/><rect x="382.6" width="1.05" height="10.7" fill="#c2c2c2"/><rect x="383.6" width="1.05" height="10.7" fill="#c2c2c2"/><rect x="384.6" width="1.05" height="10.7" fill="#bebebe"/><rect x="385.6" width="1.05" height="10.7" fill="#bebebe"/><rect x="386.6" width="1.05" height="10.7" fill="#bcbcbc"/><rect x="387.6" width="1.05" height="10.7" fill="#b4b4b4"/><rect x="388.6" width="1.05" height="10.7" fill="#bebebe"/><rect x="389.6" width="1.05" height="10.7" fill="#c6c6c6"/><rect x="390.6" width="1.05" height="10.7" fill="#cecece"/><rect x="391.6" width="1.05" height="10.7" fill="#cdcdcd"/><rect x="392.6" width="1.05" height="10.7" fill="#c5c5c5"/><rect x="393.6" width="1.05" height="10.7" fill="#cdcdcd"/><rect x="394.6" width="1.05" height="10.7" fill="#dddddd"/><rect x="395.6" width="1.05" height="10.7" fill="#d8d8d8"/><rect x="396.6" width="1.05" height="10.7" fill="#d0d0d0"/><rect x="397.6" width="1.05" height="10.7" fill="#d0d0d0"/><rect x="398.6" width="1.05" height="10.7" fill="#c8c8c8"/><rect x="399.6" width="1.05" height="10.7" fill="#bdbdbd"/><rect x="400.6" width="1.05" height="10.7" fill="#b9b9b9"/><rect x="401.6" width="1.05" height="10.7" fill="#c7c7c7"/><rect x="402.6" width="1.05" height="10.7" fill="#cecece"/><rect x="403.6" width="1.05" height="10.7" fill="#c5c5c5"/><rect x="404.6" width="1.05" height="10.7" fill="#c1c1c1"/><rect x="405.6" width="1.05" height="10.7" fill="#bfbfbf"/><rect x="406.6" width="1.05" height="10.7" fill="#bebebe"/><rect x="407.6" width="1.05" height="10.7" fill="#c0c0c0"/><rect x="408.6" width="1.05" height="10.7" fill="#cbcbcb"/><rect x="409.6" width="1.05" height="10.7" fill="#c8c8c8"/><rect x="410.6" width="1.05" height="10.7" fill="#c6c6c6"/><rect x="411.6" width="1.05" height="10.7" fill="#c3c3c3"/><rect x="412.6" width="1.05" height="10.7" fill="#b7b7b7"/><rect x="413.6" width="1.05" height="10.7" fill="#b6b6b6"/><rect x="414.6" width="1.05" height="10.7" fill="#aeaeae"/><rect x="415.6" width="1.05" height="10.7" fill="#b1b1b1"/><rect x="416.6" width="1.05" height="10.7" fill="#adadad"/><rect x="417.6" width="1.05" height="10.7" fill="#a3a3a3"/><rect x="418.6" width="1.05" height="10.7" fill="#bebebe"/><rect x="419.6" width="1.05" height="10.7" fill="#c2c2c2"/><rect x="420.6" width="1.05" height="10.7" fill="#aeaeae"/><rect x="421.6" width="1.05" height="10.7" fill="#b2b2b2"/><rect x="422.6" width="1.05" height="10.7" fill="#b8b8b8"/><rect x="423.6" width="1.05" height="10.7" fill="#b4b4b4"/><rect x="424.6" width="1.05" height="10.7" fill="#aeaeae"/><rect x="425.6" width="1.05" height="10.7" fill="#b1b1b1"/><rect x="426.6" width="1.05" height="10.7" fill="#acacac"/><rect x="427.6" width="1.05" height="10.7" fill="#b9b9b9"/><rect x="428.6" width="1.05" height="10.7" fill="#b8b8b8"/><rect x="429.6" width="1.05" height="10.7" fill="#aeaeae"/><rect x="430.6" width="1.05" height="10.7" fill="#b4b4b4"/><rect x="431.6" width="1.05" height="10.7" fill="#c5c5c5"/><rect x="432.6" width="1.05" height="10.7" fill="#c7c7c7"/><rect x="433.6" width="1.05" height="10.7" fill="#cecece"/><rect x="434.6" width="1.05" height="10.7" fill="#d8d8d8"/><rect x="435.6" width="1.05" height="10.7" fill="#e1e1e1"/><rect x="436.6" width="1.05" height="10.7" fill="#ebebeb"/><rect x="437.6" width="1.05" height="10.7" fill="#f5f5f5"/></g><g transform="translate(0,433.1)"><rect x="361.6" width="1.05" height="10.3" fill="#f7f7f7"/><rect x="362.6" width="1.05" height="10.3" fill="#efefef"/><rect x="363.6" width="1.05" height="10.3" fill="#e6e6e6"/><rect x="364.6" width="1.05" height="10.3" fill="#d0d0d0"/><rect x="365.6" width="1.05" height="10.3" fill="#b1b1b1"/><rect x="366.6" width="1.05" height="10.3" fill="#aeaeae"/><rect x="367.6" width="1.05" height="10.3" fill="#c0c0c0"/><rect x="368.6" width="1.05" height="10.3" fill="#cdcdcd"/><rect x="369.6" width="1.05" height="10.3" fill="#c6c6c6"/><rect x="370.6" width="1.05" height="10.3" fill="#bcbcbc"/><rect x="371.6" width="1.05" height="10.3" fill="#b4b4b4"/><rect x="372.6" width="1.05" height="10.3" fill="#bcbcbc"/><rect x="373.6" width="1.05" height="10.3" fill="#c4c4c4"/><rect x="374.6" width="1.05" height="10.3" fill="#b7b7b7"/><rect x="375.6" width="1.05" height="10.3" fill="#b2b2b2"/><rect x="376.6" width="1.05" height="10.3" fill="#bcbcbc"/><rect x="377.6" width="1.05" height="10.3" fill="#c3c3c3"/><rect x="378.6" width="1.05" height="10.3" fill="#b6b6b6"/><rect x="379.6" width="1.05" height="10.3" fill="#b3b3b3"/><rect x="380.6" width="1.05" height="10.3" fill="#b7b7b7"/><rect x="381.6" width="1.05" height="10.3" fill="#bababa"/><rect x="382.6" width="1.05" height="10.3" fill="#bcbcbc"/><rect x="383.6" width="1.05" height="10.3" fill="#b9b9b9"/><rect x="384.6" width="1.05" height="10.3" fill="#b4b4b4"/><rect x="385.6" width="1.05" height="10.3" fill="#b9b9b9"/><rect x="386.6" width="1.05" height="10.3" fill="#c0c0c0"/><rect x="387.6" width="1.05" height="10.3" fill="#c0c0c0"/><rect x="388.6" width="1.05" height="10.3" fill="#c3c3c3"/><rect x="389.6" width="1.05" height="10.3" fill="#c2c2c2"/><rect x="390.6" width="1.05" height="10.3" fill="#c9c9c9"/><rect x="391.6" width="1.05" height="10.3" fill="#c6c6c6"/><rect x="392.6" width="1.05" height="10.3" fill="#bbbbbb"/><rect x="393.6" width="1.05" height="10.3" fill="#c4c4c4"/><rect x="394.6" width="1.05" height="10.3" fill="#d5d5d5"/><rect x="395.6" width="1.05" height="10.3" fill="#d5d5d5"/><rect x="396.6" width="1.05" height="10.3" fill="#d4d4d4"/><rect x="397.6" width="1.05" height="10.3" fill="#cdcdcd"/><rect x="398.6" width="1.05" height="10.3" fill="#c3c3c3"/><rect x="399.6" width="1.05" height="10.3" fill="#c0c0c0"/><rect x="400.6" width="1.05" height="10.3" fill="#bebebe"/><rect x="401.6" width="1.05" height="10.3" fill="#c3c3c3"/><rect x="402.6" width="1.05" height="10.3" fill="#c5c5c5"/><rect x="403.6" width="1.05" height="10.3" fill="#bebebe"/><rect x="404.6" width="1.05" height="10.3" fill="#c8c8c8"/><rect x="405.6" width="1.05" height="10.3" fill="#c8c8c8"/><rect x="406.6" width="1.05" height="10.3" fill="#c0c0c0"/><rect x="407.6" width="1.05" height="10.3" fill="#bbbbbb"/><rect x="408.6" width="1.05" height="10.3" fill="#bfbfbf"/><rect x="409.6" width="1.05" height="10.3" fill="#c4c4c4"/><rect x="410.6" width="1.05" height="10.3" fill="#c2c2c2"/><rect x="411.6" width="1.05" height="10.3" fill="#c6c6c6"/><rect x="412.6" width="1.05" height="10.3" fill="#bebebe"/><rect x="413.6" width="1.05" height="10.3" fill="#bababa"/><rect x="414.6" width="1.05" height="10.3" fill="#b8b8b8"/><rect x="415.6" width="1.05" height="10.3" fill="#bdbdbd"/><rect x="416.6" width="1.05" height="10.3" fill="#aaaaaa"/><rect x="417.6" width="1.05" height="10.3" fill="#9e9e9e"/><rect x="418.6" width="1.05" height="10.3" fill="#b8b8b8"/><rect x="419.6" width="1.05" height="10.3" fill="#b8b8b8"/><rect x="420.6" width="1.05" height="10.3" fill="#a5a5a5"/><rect x="421.6" width="1.05" height="10.3" fill="#adadad"/><rect x="422.6" width="1.05" height="10.3" fill="#bbbbbb"/><rect x="423.6" width="1.05" height="10.3" fill="#bababa"/><rect x="424.6" width="1.05" height="10.3" fill="#b8b8b8"/><rect x="425.6" width="1.05" height="10.3" fill="#b1b1b1"/><rect x="426.6" width="1.05" height="10.3" fill="#a9a9a9"/><rect x="427.6" width="1.05" height="10.3" fill="#bababa"/><rect x="428.6" width="1.05" height="10.3" fill="#bababa"/><rect x="429.6" width="1.05" height="10.3" fill="#aaaaaa"/><rect x="430.6" width="1.05" height="10.3" fill="#b6b6b6"/><rect x="431.6" width="1.05" height="10.3" fill="#c0c0c0"/><rect x="432.6" width="1.05" height="10.3" fill="#c7c7c7"/><rect x="433.6" width="1.05" height="10.3" fill="#d4d4d4"/><rect x="434.6" width="1.05" height="10.3" fill="#dddddd"/><rect x="435.6" width="1.05" height="10.3" fill="#e3e3e3"/><rect x="436.6" width="1.05" height="10.3" fill="#efefef"/><rect x="437.6" width="1.05" height="10.3" fill="#f8f8f8"/></g><g transform="translate(0,444.5)"><rect x="361.6" width="1.05" height="14.5" fill="#f5f5f5"/><rect x="362.6" width="1.05" height="14.5" fill="#ededed"/><rect x="363.6" width="1.05" height="14.5" fill="#e4e4e4"/><rect x="364.6" width="1.05" height="14.5" fill="#c8c8c8"/><rect x="365.6" width="1.05" height="14.5" fill="#aaaaaa"/><rect x="366.6" width="1.05" height="14.5" fill="#b0b0b0"/><rect x="367.6" width="1.05" height="14.5" fill="#bbbbbb"/><rect x="368.6" width="1.05" height="14.5" fill="#c3c3c3"/><rect x="369.6" width="1.05" height="14.5" fill="#c6c6c6"/><rect x="370.6" width="1.05" height="14.5" fill="#b9b9b9"/><rect x="371.6" width="1.05" height="14.5" fill="#b7b7b7"/><rect x="372.6" width="1.05" height="14.5" fill="#bfbfbf"/><rect x="373.6" width="1.05" height="14.5" fill="#c0c0c0"/><rect x="374.6" width="1.05" height="14.5" fill="#b4b4b4"/><rect x="375.6" width="1.05" height="14.5" fill="#b4b4b4"/><rect x="376.6" width="1.05" height="14.5" fill="#bababa"/><rect x="377.6" width="1.05" height="14.5" fill="#c1c1c1"/><rect x="378.6" width="1.05" height="14.5" fill="#c1c1c1"/><rect x="379.6" width="1.05" height="14.5" fill="#bababa"/><rect x="380.6" width="1.05" height="14.5" fill="#b9b9b9"/><rect x="381.6" width="1.05" height="14.5" fill="#c6c6c6"/><rect x="382.6" width="1.05" height="14.5" fill="#bbbbbb"/><rect x="383.6" width="1.05" height="14.5" fill="#bababa"/><rect x="384.6" width="1.05" height="14.5" fill="#bfbfbf"/><rect x="385.6" width="1.05" height="14.5" fill="#cccccc"/><rect x="386.6" width="1.05" height="14.5" fill="#cbcbcb"/><rect x="387.6" width="1.05" height="14.5" fill="#c8c8c8"/><rect x="388.6" width="1.05" height="14.5" fill="#d0d0d0"/><rect x="389.6" width="1.05" height="14.5" fill="#cfcfcf"/><rect x="390.6" width="1.05" height="14.5" fill="#d6d6d6"/><rect x="391.6" width="1.05" height="14.5" fill="#d6d6d6"/><rect x="392.6" width="1.05" height="14.5" fill="#cecece"/><rect x="393.6" width="1.05" height="14.5" fill="#cacaca"/><rect x="394.6" width="1.05" height="14.5" fill="#d4d4d4"/><rect x="395.6" width="1.05" height="14.5" fill="#d4d4d4"/><rect x="396.6" width="1.05" height="14.5" fill="#d7d7d7"/><rect x="397.6" width="1.05" height="14.5" fill="#d8d8d8"/><rect x="398.6" width="1.05" height="14.5" fill="#c9c9c9"/><rect x="399.6" width="1.05" height="14.5" fill="#c7c7c7"/><rect x="400.6" width="1.05" height="14.5" fill="#c8c8c8"/><rect x="401.6" width="1.05" height="14.5" fill="#d0d0d0"/><rect x="402.6" width="1.05" height="14.5" fill="#d2d2d2"/><rect x="403.6" width="1.05" height="14.5" fill="#cbcbcb"/><rect x="404.6" width="1.05" height="14.5" fill="#c7c7c7"/><rect x="405.6" width="1.05" height="14.5" fill="#c5c5c5"/><rect x="406.6" width="1.05" height="14.5" fill="#c0c0c0"/><rect x="407.6" width="1.05" height="14.5" fill="#c5c5c5"/><rect x="408.6" width="1.05" height="14.5" fill="#cccccc"/><rect x="409.6" width="1.05" height="14.5" fill="#c6c6c6"/><rect x="410.6" width="1.05" height="14.5" fill="#c5c5c5"/><rect x="411.6" width="1.05" height="14.5" fill="#c5c5c5"/><rect x="412.6" width="1.05" height="14.5" fill="#bdbdbd"/><rect x="413.6" width="1.05" height="14.5" fill="#b5b5b5"/><rect x="414.6" width="1.05" height="14.5" fill="#afafaf"/><rect x="415.6" width="1.05" height="14.5" fill="#b4b4b4"/><rect x="416.6" width="1.05" height="14.5" fill="#b3b3b3"/><rect x="417.6" width="1.05" height="14.5" fill="#a9a9a9"/><rect x="418.6" width="1.05" height="14.5" fill="#bdbdbd"/><rect x="419.6" width="1.05" height="14.5" fill="#bfbfbf"/><rect x="420.6" width="1.05" height="14.5" fill="#afafaf"/><rect x="421.6" width="1.05" height="14.5" fill="#a6a6a6"/><rect x="422.6" width="1.05" height="14.5" fill="#aaaaaa"/><rect x="423.6" width="1.05" height="14.5" fill="#adadad"/><rect x="424.6" width="1.05" height="14.5" fill="#adadad"/><rect x="425.6" width="1.05" height="14.5" fill="#b2b2b2"/><rect x="426.6" width="1.05" height="14.5" fill="#afafaf"/><rect x="427.6" width="1.05" height="14.5" fill="#c2c2c2"/><rect x="428.6" width="1.05" height="14.5" fill="#c2c2c2"/><rect x="429.6" width="1.05" height="14.5" fill="#b3b3b3"/><rect x="430.6" width="1.05" height="14.5" fill="#bdbdbd"/><rect x="431.6" width="1.05" height="14.5" fill="#c5c5c5"/><rect x="432.6" width="1.05" height="14.5" fill="#cacaca"/><rect x="433.6" width="1.05" height="14.5" fill="#d8d8d8"/><rect x="434.6" width="1.05" height="14.5" fill="#dfdfdf"/><rect x="435.6" width="1.05" height="14.5" fill="#dedede"/><rect x="436.6" width="1.05" height="14.5" fill="#ebebeb"/><rect x="437.6" width="1.05" height="14.5" fill="#f7f7f7"/></g><g transform="translate(0,460.2)"><rect x="361.6" width="1.05" height="12.3" fill="#f5f5f5"/><rect x="362.6" width="1.05" height="12.3" fill="#ebebeb"/><rect x="363.6" width="1.05" height="12.3" fill="#e1e1e1"/><rect x="364.6" width="1.05" height="12.3" fill="#d8d8d8"/><rect x="365.6" width="1.05" height="12.3" fill="#d4d4d4"/><rect x="366.6" width="1.05" height="12.3" fill="#cdcdcd"/><rect x="367.6" width="1.05" height="12.3" fill="#c6c6c6"/><rect x="368.6" width="1.05" height="12.3" fill="#cbcbcb"/><rect x="369.6" width="1.05" height="12.3" fill="#cbcbcb"/><rect x="370.6" width="1.05" height="12.3" fill="#c6c6c6"/><rect x="371.6" width="1.05" height="12.3" fill="#c5c5c5"/><rect x="372.6" width="1.05" height="12.3" fill="#cccccc"/><rect x="373.6" width="1.05" height="12.3" fill="#c5c5c5"/><rect x="374.6" width="1.05" height="12.3" fill="#bdbdbd"/><rect x="375.6" width="1.05" height="12.3" fill="#bfbfbf"/><rect x="376.6" width="1.05" height="12.3" fill="#c0c0c0"/><rect x="377.6" width="1.05" height="12.3" fill="#cecece"/><rect x="378.6" width="1.05" height="12.3" fill="#d0d0d0"/><rect x="379.6" width="1.05" height="12.3" fill="#d0d0d0"/><rect x="380.6" width="1.05" height="12.3" fill="#cecece"/><rect x="381.6" width="1.05" height="12.3" fill="#d8d8d8"/><rect x="382.6" width="1.05" height="12.3" fill="#e1e1e1"/><rect x="383.6" width="1.05" height="12.3" fill="#dadada"/><rect x="384.6" width="1.05" height="12.3" fill="#cacaca"/><rect x="385.6" width="1.05" height="12.3" fill="#c1c1c1"/><rect x="386.6" width="1.05" height="12.3" fill="#cdcdcd"/><rect x="387.6" width="1.05" height="12.3" fill="#d3d3d3"/><rect x="388.6" width="1.05" height="12.3" fill="#cacaca"/><rect x="389.6" width="1.05" height="12.3" fill="#cfcfcf"/><rect x="390.6" width="1.05" height="12.3" fill="#cccccc"/><rect x="391.6" width="1.05" height="12.3" fill="#cfcfcf"/><rect x="392.6" width="1.05" height="12.3" fill="#cccccc"/><rect x="393.6" width="1.05" height="12.3" fill="#cacaca"/><rect x="394.6" width="1.05" height="12.3" fill="#c6c6c6"/><rect x="395.6" width="1.05" height="12.3" fill="#cdcdcd"/><rect x="396.6" width="1.05" height="12.3" fill="#cfcfcf"/><rect x="397.6" width="1.05" height="12.3" fill="#cecece"/><rect x="398.6" width="1.05" height="12.3" fill="#dbdbdb"/><rect x="399.6" width="1.05" height="12.3" fill="#dbdbdb"/><rect x="400.6" width="1.05" height="12.3" fill="#d2d2d2"/><rect x="401.6" width="1.05" height="12.3" fill="#cfcfcf"/><rect x="402.6" width="1.05" height="12.3" fill="#c3c3c3"/><rect x="403.6" width="1.05" height="12.3" fill="#c0c0c0"/><rect x="404.6" width="1.05" height="12.3" fill="#cdcdcd"/><rect x="405.6" width="1.05" height="12.3" fill="#c7c7c7"/><rect x="406.6" width="1.05" height="12.3" fill="#cacaca"/><rect x="407.6" width="1.05" height="12.3" fill="#c7c7c7"/><rect x="408.6" width="1.05" height="12.3" fill="#c4c4c4"/><rect x="409.6" width="1.05" height="12.3" fill="#cecece"/><rect x="410.6" width="1.05" height="12.3" fill="#d7d7d7"/><rect x="411.6" width="1.05" height="12.3" fill="#d2d2d2"/><rect x="412.6" width="1.05" height="12.3" fill="#c3c3c3"/><rect x="413.6" width="1.05" height="12.3" fill="#d1d1d1"/><rect x="414.6" width="1.05" height="12.3" fill="#d0d0d0"/><rect x="415.6" width="1.05" height="12.3" fill="#d0d0d0"/><rect x="416.6" width="1.05" height="12.3" fill="#d6d6d6"/><rect x="417.6" width="1.05" height="12.3" fill="#cccccc"/><rect x="418.6" width="1.05" height="12.3" fill="#d3d3d3"/><rect x="419.6" width="1.05" height="12.3" fill="#dddddd"/><rect x="420.6" width="1.05" height="12.3" fill="#d1d1d1"/><rect x="421.6" width="1.05" height="12.3" fill="#d2d2d2"/><rect x="422.6" width="1.05" height="12.3" fill="#d1d1d1"/><rect x="423.6" width="1.05" height="12.3" fill="#cdcdcd"/><rect x="424.6" width="1.05" height="12.3" fill="#cfcfcf"/><rect x="425.6" width="1.05" height="12.3" fill="#c2c2c2"/><rect x="426.6" width="1.05" height="12.3" fill="#cccccc"/><rect x="427.6" width="1.05" height="12.3" fill="#c5c5c5"/><rect x="428.6" width="1.05" height="12.3" fill="#c6c6c6"/><rect x="429.6" width="1.05" height="12.3" fill="#c6c6c6"/><rect x="430.6" width="1.05" height="12.3" fill="#c5c5c5"/><rect x="431.6" width="1.05" height="12.3" fill="#b9b9b9"/><rect x="432.6" width="1.05" height="12.3" fill="#b2b2b2"/><rect x="433.6" width="1.05" height="12.3" fill="#b7b7b7"/><rect x="434.6" width="1.05" height="12.3" fill="#bfbfbf"/><rect x="435.6" width="1.05" height="12.3" fill="#d5d5d5"/><rect x="436.6" width="1.05" height="12.3" fill="#e6e6e6"/><rect x="437.6" width="1.05" height="12.3" fill="#f4f4f4"/></g><g transform="translate(0,473.7)"><rect x="361.6" width="1.05" height="9.1" fill="#f3f3f3"/><rect x="362.6" width="1.05" height="9.1" fill="#e5e5e5"/><rect x="363.6" width="1.05" height="9.1" fill="#d7d7d7"/><rect x="364.6" width="1.05" height="9.1" fill="#cfcfcf"/><rect x="365.6" width="1.05" height="9.1" fill="#c2c2c2"/><rect x="366.6" width="1.05" height="9.1" fill="#bbbbbb"/><rect x="367.6" width="1.05" height="9.1" fill="#bcbcbc"/><rect x="368.6" width="1.05" height="9.1" fill="#c3c3c3"/><rect x="369.6" width="1.05" height="9.1" fill="#bdbdbd"/><rect x="370.6" width="1.05" height="9.1" fill="#b9b9b9"/><rect x="371.6" width="1.05" height="9.1" fill="#bdbdbd"/><rect x="372.6" width="1.05" height="9.1" fill="#c7c7c7"/><rect x="373.6" width="1.05" height="9.1" fill="#bcbcbc"/><rect x="374.6" width="1.05" height="9.1" fill="#b6b6b6"/><rect x="375.6" width="1.05" height="9.1" fill="#bfbfbf"/><rect x="376.6" width="1.05" height="9.1" fill="#b2b2b2"/><rect x="377.6" width="1.05" height="9.1" fill="#a2a2a2"/><rect x="378.6" width="1.05" height="9.1" fill="#a5a5a5"/><rect x="379.6" width="1.05" height="9.1" fill="#a2a2a2"/><rect x="380.6" width="1.05" height="9.1" fill="#9e9e9e"/><rect x="381.6" width="1.05" height="9.1" fill="#a9a9a9"/><rect x="382.6" width="1.05" height="9.1" fill="#afafaf"/><rect x="383.6" width="1.05" height="9.1" fill="#ababab"/><rect x="384.6" width="1.05" height="9.1" fill="#acacac"/><rect x="385.6" width="1.05" height="9.1" fill="#a9a9a9"/><rect x="386.6" width="1.05" height="9.1" fill="#b2b2b2"/><rect x="387.6" width="1.05" height="9.1" fill="#bebebe"/><rect x="388.6" width="1.05" height="9.1" fill="#c0c0c0"/><rect x="389.6" width="1.05" height="9.1" fill="#bebebe"/><rect x="390.6" width="1.05" height="9.1" fill="#bcbcbc"/><rect x="391.6" width="1.05" height="9.1" fill="#bdbdbd"/><rect x="392.6" width="1.05" height="9.1" fill="#c4c4c4"/><rect x="393.6" width="1.05" height="9.1" fill="#c3c3c3"/><rect x="394.6" width="1.05" height="9.1" fill="#bcbcbc"/><rect x="395.6" width="1.05" height="9.1" fill="#a3a3a3"/><rect x="396.6" width="1.05" height="9.1" fill="#a3a3a3"/><rect x="397.6" width="1.05" height="9.1" fill="#a8a8a8"/><rect x="398.6" width="1.05" height="9.1" fill="#afafaf"/><rect x="399.6" width="1.05" height="9.1" fill="#aeaeae"/><rect x="400.6" width="1.05" height="9.1" fill="#b0b0b0"/><rect x="401.6" width="1.05" height="9.1" fill="#b3b3b3"/><rect x="402.6" width="1.05" height="9.1" fill="#ababab"/><rect x="403.6" width="1.05" height="9.1" fill="#b9b9b9"/><rect x="404.6" width="1.05" height="9.1" fill="#c7c7c7"/><rect x="405.6" width="1.05" height="9.1" fill="#c0c0c0"/><rect x="406.6" width="1.05" height="9.1" fill="#bebebe"/><rect x="407.6" width="1.05" height="9.1" fill="#b9b9b9"/><rect x="408.6" width="1.05" height="9.1" fill="#bababa"/><rect x="409.6" width="1.05" height="9.1" fill="#c6c6c6"/><rect x="410.6" width="1.05" height="9.1" fill="#c9c9c9"/><rect x="411.6" width="1.05" height="9.1" fill="#c5c5c5"/><rect x="412.6" width="1.05" height="9.1" fill="#bababa"/><rect x="413.6" width="1.05" height="9.1" fill="#cecece"/><rect x="414.6" width="1.05" height="9.1" fill="#d9d9d9"/><rect x="415.6" width="1.05" height="9.1" fill="#dadada"/><rect x="416.6" width="1.05" height="9.1" fill="#dadada"/><rect x="417.6" width="1.05" height="9.1" fill="#cbcbcb"/><rect x="418.6" width="1.05" height="9.1" fill="#d1d1d1"/><rect x="419.6" width="1.05" height="9.1" fill="#dbdbdb"/><rect x="420.6" width="1.05" height="9.1" fill="#cccccc"/><rect x="421.6" width="1.05" height="9.1" fill="#cfcfcf"/><rect x="422.6" width="1.05" height="9.1" fill="#d6d6d6"/><rect x="423.6" width="1.05" height="9.1" fill="#dedede"/><rect x="424.6" width="1.05" height="9.1" fill="#e0e0e0"/><rect x="425.6" width="1.05" height="9.1" fill="#c4c4c4"/><rect x="426.6" width="1.05" height="9.1" fill="#c3c3c3"/><rect x="427.6" width="1.05" height="9.1" fill="#d0d0d0"/><rect x="428.6" width="1.05" height="9.1" fill="#d6d6d6"/><rect x="429.6" width="1.05" height="9.1" fill="#e1e1e1"/><rect x="430.6" width="1.05" height="9.1" fill="#dddddd"/><rect x="431.6" width="1.05" height="9.1" fill="#d2d2d2"/><rect x="432.6" width="1.05" height="9.1" fill="#c9c9c9"/><rect x="433.6" width="1.05" height="9.1" fill="#d0d0d0"/><rect x="434.6" width="1.05" height="9.1" fill="#d7d7d7"/><rect x="435.6" width="1.05" height="9.1" fill="#dfdfdf"/><rect x="436.6" width="1.05" height="9.1" fill="#e6e6e6"/><rect x="437.6" width="1.05" height="9.1" fill="#f3f3f3"/></g><g transform="translate(0,356.8)"><rect x="468.0" width="1.05" height="11.6" fill="#f3f3f3"/><rect x="469.0" width="1.05" height="11.6" fill="#eaeaea"/><rect x="470.0" width="1.05" height="11.6" fill="#e3e3e3"/><rect x="471.0" width="1.05" height="11.6" fill="#c8c8c8"/><rect x="472.0" width="1.05" height="11.6" fill="#b2b2b2"/><rect x="473.0" width="1.05" height="11.6" fill="#aaaaaa"/><rect x="474.0" width="1.05" height="11.6" fill="#a6a6a6"/><rect x="475.0" width="1.05" height="11.6" fill="#a8a8a8"/><rect x="476.0" width="1.05" height="11.6" fill="#a5a5a5"/><rect x="477.0" width="1.05" height="11.6" fill="#a7a7a7"/><rect x="478.0" width="1.05" height="11.6" fill="#b1b1b1"/><rect x="479.0" width="1.05" height="11.6" fill="#b1b1b1"/><rect x="480.0" width="1.05" height="11.6" fill="#b5b5b5"/><rect x="481.0" width="1.05" height="11.6" fill="#b0b0b0"/><rect x="482.0" width="1.05" height="11.6" fill="#b5b5b5"/><rect x="483.0" width="1.05" height="11.6" fill="#bfbfbf"/><rect x="484.0" width="1.05" height="11.6" fill="#c5c5c5"/><rect x="485.0" width="1.05" height="11.6" fill="#c1c1c1"/><rect x="486.0" width="1.05" height="11.6" fill="#c7c7c7"/><rect x="487.0" width="1.05" height="11.6" fill="#d7d7d7"/><rect x="488.0" width="1.05" height="11.6" fill="#cacaca"/><rect x="489.0" width="1.05" height="11.6" fill="#c8c8c8"/><rect x="490.0" width="1.05" height="11.6" fill="#dddddd"/><rect x="491.0" width="1.05" height="11.6" fill="#dddddd"/><rect x="492.0" width="1.05" height="11.6" fill="#e2e2e2"/><rect x="493.0" width="1.05" height="11.6" fill="#e2e2e2"/><rect x="494.0" width="1.05" height="11.6" fill="#dddddd"/><rect x="495.0" width="1.05" height="11.6" fill="#dcdcdc"/><rect x="496.0" width="1.05" height="11.6" fill="#e8e8e8"/><rect x="497.0" width="1.05" height="11.6" fill="#e8e8e8"/><rect x="498.0" width="1.05" height="11.6" fill="#c4c4c4"/><rect x="499.0" width="1.05" height="11.6" fill="#acacac"/><rect x="500.0" width="1.05" height="11.6" fill="#afafaf"/><rect x="501.0" width="1.05" height="11.6" fill="#b4b4b4"/><rect x="502.0" width="1.05" height="11.6" fill="#b6b6b6"/><rect x="503.0" width="1.05" height="11.6" fill="#b5b5b5"/><rect x="504.0" width="1.05" height="11.6" fill="#b4b4b4"/><rect x="505.0" width="1.05" height="11.6" fill="#b7b7b7"/><rect x="506.0" width="1.05" height="11.6" fill="#b3b3b3"/><rect x="507.0" width="1.05" height="11.6" fill="#b2b2b2"/><rect x="508.0" width="1.05" height="11.6" fill="#b7b7b7"/><rect x="509.0" width="1.05" height="11.6" fill="#c0c0c0"/><rect x="510.0" width="1.05" height="11.6" fill="#bfbfbf"/><rect x="511.0" width="1.05" height="11.6" fill="#adadad"/><rect x="512.0" width="1.05" height="11.6" fill="#a9a9a9"/><rect x="513.0" width="1.05" height="11.6" fill="#c0c0c0"/><rect x="514.0" width="1.05" height="11.6" fill="#d5d5d5"/><rect x="515.0" width="1.05" height="11.6" fill="#d3d3d3"/><rect x="516.0" width="1.05" height="11.6" fill="#c6c6c6"/><rect x="517.0" width="1.05" height="11.6" fill="#d2d2d2"/><rect x="518.0" width="1.05" height="11.6" fill="#cecece"/><rect x="519.0" width="1.05" height="11.6" fill="#c7c7c7"/><rect x="520.0" width="1.05" height="11.6" fill="#cdcdcd"/><rect x="521.0" width="1.05" height="11.6" fill="#c8c8c8"/><rect x="522.0" width="1.05" height="11.6" fill="#c5c5c5"/><rect x="523.0" width="1.05" height="11.6" fill="#cdcdcd"/><rect x="524.0" width="1.05" height="11.6" fill="#d2d2d2"/><rect x="525.0" width="1.05" height="11.6" fill="#cacaca"/><rect x="526.0" width="1.05" height="11.6" fill="#c4c4c4"/><rect x="527.0" width="1.05" height="11.6" fill="#d3d3d3"/><rect x="528.0" width="1.05" height="11.6" fill="#c2c2c2"/><rect x="529.0" width="1.05" height="11.6" fill="#a8a8a8"/><rect x="530.0" width="1.05" height="11.6" fill="#b4b4b4"/><rect x="531.0" width="1.05" height="11.6" fill="#b0b0b0"/><rect x="532.0" width="1.05" height="11.6" fill="#adadad"/><rect x="533.0" width="1.05" height="11.6" fill="#b5b5b5"/><rect x="534.0" width="1.05" height="11.6" fill="#b2b2b2"/><rect x="535.0" width="1.05" height="11.6" fill="#adadad"/><rect x="536.0" width="1.05" height="11.6" fill="#ababab"/><rect x="537.0" width="1.05" height="11.6" fill="#b3b3b3"/><rect x="538.0" width="1.05" height="11.6" fill="#bebebe"/><rect x="539.0" width="1.05" height="11.6" fill="#bdbdbd"/><rect x="540.0" width="1.05" height="11.6" fill="#c1c1c1"/><rect x="541.0" width="1.05" height="11.6" fill="#bcbcbc"/><rect x="542.0" width="1.05" height="11.6" fill="#bababa"/><rect x="543.0" width="1.05" height="11.6" fill="#c8c8c8"/><rect x="544.0" width="1.05" height="11.6" fill="#d2d2d2"/><rect x="545.0" width="1.05" height="11.6" fill="#dcdcdc"/><rect x="546.0" width="1.05" height="11.6" fill="#e0e0e0"/><rect x="547.0" width="1.05" height="11.6" fill="#eaeaea"/><rect x="548.0" width="1.05" height="11.6" fill="#f5f5f5"/></g><g transform="translate(0,369.6)"><rect x="468.0" width="1.05" height="11.4" fill="#f6f6f6"/><rect x="469.0" width="1.05" height="11.4" fill="#efefef"/><rect x="470.0" width="1.05" height="11.4" fill="#e2e2e2"/><rect x="471.0" width="1.05" height="11.4" fill="#cdcdcd"/><rect x="472.0" width="1.05" height="11.4" fill="#bfbfbf"/><rect x="473.0" width="1.05" height="11.4" fill="#b4b4b4"/><rect x="474.0" width="1.05" height="11.4" fill="#a9a9a9"/><rect x="475.0" width="1.05" height="11.4" fill="#b0b0b0"/><rect x="476.0" width="1.05" height="11.4" fill="#afafaf"/><rect x="477.0" width="1.05" height="11.4" fill="#b0b0b0"/><rect x="478.0" width="1.05" height="11.4" fill="#b6b6b6"/><rect x="479.0" width="1.05" height="11.4" fill="#b6b6b6"/><rect x="480.0" width="1.05" height="11.4" fill="#b1b1b1"/><rect x="481.0" width="1.05" height="11.4" fill="#aaaaaa"/><rect x="482.0" width="1.05" height="11.4" fill="#b5b5b5"/><rect x="483.0" width="1.05" height="11.4" fill="#bdbdbd"/><rect x="484.0" width="1.05" height="11.4" fill="#bbbbbb"/><rect x="485.0" width="1.05" height="11.4" fill="#bfbfbf"/><rect x="486.0" width="1.05" height="11.4" fill="#bebebe"/><rect x="487.0" width="1.05" height="11.4" fill="#d1d1d1"/><rect x="488.0" width="1.05" height="11.4" fill="#c8c8c8"/><rect x="489.0" width="1.05" height="11.4" fill="#c7c7c7"/><rect x="490.0" width="1.05" height="11.4" fill="#e2e2e2"/><rect x="491.0" width="1.05" height="11.4" fill="#e5e5e5"/><rect x="492.0" width="1.05" height="11.4" fill="#e5e5e5"/><rect x="493.0" width="1.05" height="11.4" fill="#e8e8e8"/><rect x="494.0" width="1.05" height="11.4" fill="#dbdbdb"/><rect x="495.0" width="1.05" height="11.4" fill="#dadada"/><rect x="496.0" width="1.05" height="11.4" fill="#e8e8e8"/><rect x="497.0" width="1.05" height="11.4" fill="#e8e8e8"/><rect x="498.0" width="1.05" height="11.4" fill="#c4c4c4"/><rect x="499.0" width="1.05" height="11.4" fill="#b2b2b2"/><rect x="500.0" width="1.05" height="11.4" fill="#b8b8b8"/><rect x="501.0" width="1.05" height="11.4" fill="#b5b5b5"/><rect x="502.0" width="1.05" height="11.4" fill="#b2b2b2"/><rect x="503.0" width="1.05" height="11.4" fill="#b3b3b3"/><rect x="504.0" width="1.05" height="11.4" fill="#b5b5b5"/><rect x="505.0" width="1.05" height="11.4" fill="#b6b6b6"/><rect x="506.0" width="1.05" height="11.4" fill="#b0b0b0"/><rect x="507.0" width="1.05" height="11.4" fill="#afafaf"/><rect x="508.0" width="1.05" height="11.4" fill="#b7b7b7"/><rect x="509.0" width="1.05" height="11.4" fill="#bfbfbf"/><rect x="510.0" width="1.05" height="11.4" fill="#c7c7c7"/><rect x="511.0" width="1.05" height="11.4" fill="#bbbbbb"/><rect x="512.0" width="1.05" height="11.4" fill="#b4b4b4"/><rect x="513.0" width="1.05" height="11.4" fill="#bfbfbf"/><rect x="514.0" width="1.05" height="11.4" fill="#d5d5d5"/><rect x="515.0" width="1.05" height="11.4" fill="#d3d3d3"/><rect x="516.0" width="1.05" height="11.4" fill="#cbcbcb"/><rect x="517.0" width="1.05" height="11.4" fill="#d4d4d4"/><rect x="518.0" width="1.05" height="11.4" fill="#c9c9c9"/><rect x="519.0" width="1.05" height="11.4" fill="#c6c6c6"/><rect x="520.0" width="1.05" height="11.4" fill="#c9c9c9"/><rect x="521.0" width="1.05" height="11.4" fill="#c6c6c6"/><rect x="522.0" width="1.05" height="11.4" fill="#c5c5c5"/><rect x="523.0" width="1.05" height="11.4" fill="#cccccc"/><rect x="524.0" width="1.05" height="11.4" fill="#cfcfcf"/><rect x="525.0" width="1.05" height="11.4" fill="#c9c9c9"/><rect x="526.0" width="1.05" height="11.4" fill="#c5c5c5"/><rect x="527.0" width="1.05" height="11.4" fill="#d5d5d5"/><rect x="528.0" width="1.05" height="11.4" fill="#bebebe"/><rect x="529.0" width="1.05" height="11.4" fill="#a4a4a4"/><rect x="530.0" width="1.05" height="11.4" fill="#a8a8a8"/><rect x="531.0" width="1.05" height="11.4" fill="#a0a0a0"/><rect x="532.0" width="1.05" height="11.4" fill="#9c9c9c"/><rect x="533.0" width="1.05" height="11.4" fill="#a4a4a4"/><rect x="534.0" width="1.05" height="11.4" fill="#a2a2a2"/><rect x="535.0" width="1.05" height="11.4" fill="#a8a8a8"/><rect x="536.0" width="1.05" height="11.4" fill="#aeaeae"/><rect x="537.0" width="1.05" height="11.4" fill="#b1b1b1"/><rect x="538.0" width="1.05" height="11.4" fill="#bfbfbf"/><rect x="539.0" width="1.05" height="11.4" fill="#c8c8c8"/><rect x="540.0" width="1.05" height="11.4" fill="#c6c6c6"/><rect x="541.0" width="1.05" height="11.4" fill="#c3c3c3"/><rect x="542.0" width="1.05" height="11.4" fill="#c8c8c8"/><rect x="543.0" width="1.05" height="11.4" fill="#d0d0d0"/><rect x="544.0" width="1.05" height="11.4" fill="#d2d2d2"/><rect x="545.0" width="1.05" height="11.4" fill="#dddddd"/><rect x="546.0" width="1.05" height="11.4" fill="#e0e0e0"/><rect x="547.0" width="1.05" height="11.4" fill="#ebebeb"/><rect x="548.0" width="1.05" height="11.4" fill="#f7f7f7"/></g><g transform="translate(0,382.1)"><rect x="468.0" width="1.05" height="13.0" fill="#f3f3f3"/><rect x="469.0" width="1.05" height="13.0" fill="#e9e9e9"/><rect x="470.0" width="1.05" height="13.0" fill="#dcdcdc"/><rect x="471.0" width="1.05" height="13.0" fill="#c8c8c8"/><rect x="472.0" width="1.05" height="13.0" fill="#b7b7b7"/><rect x="473.0" width="1.05" height="13.0" fill="#acacac"/><rect x="474.0" width="1.05" height="13.0" fill="#a2a2a2"/><rect x="475.0" width="1.05" height="13.0" fill="#a3a3a3"/><rect x="476.0" width="1.05" height="13.0" fill="#ababab"/><rect x="477.0" width="1.05" height="13.0" fill="#b4b4b4"/><rect x="478.0" width="1.05" height="13.0" fill="#bcbcbc"/><rect x="479.0" width="1.05" height="13.0" fill="#b5b5b5"/><rect x="480.0" width="1.05" height="13.0" fill="#b6b6b6"/><rect x="481.0" width="1.05" height="13.0" fill="#b5b5b5"/><rect x="482.0" width="1.05" height="13.0" fill="#c0c0c0"/><rect x="483.0" width="1.05" height="13.0" fill="#bdbdbd"/><rect x="484.0" width="1.05" height="13.0" fill="#b2b2b2"/><rect x="485.0" width="1.05" height="13.0" fill="#bababa"/><rect x="486.0" width="1.05" height="13.0" fill="#c0c0c0"/><rect x="487.0" width="1.05" height="13.0" fill="#c6c6c6"/><rect x="488.0" width="1.05" height="13.0" fill="#c1c1c1"/><rect x="489.0" width="1.05" height="13.0" fill="#c1c1c1"/><rect x="490.0" width="1.05" height="13.0" fill="#dadada"/><rect x="491.0" width="1.05" height="13.0" fill="#dfdfdf"/><rect x="492.0" width="1.05" height="13.0" fill="#dcdcdc"/><rect x="493.0" width="1.05" height="13.0" fill="#e8e8e8"/><rect x="494.0" width="1.05" height="13.0" fill="#e8e8e8"/><rect x="495.0" width="1.05" height="13.0" fill="#dfdfdf"/><rect x="496.0" width="1.05" height="13.0" fill="#e8e8e8"/><rect x="497.0" width="1.05" height="13.0" fill="#e8e8e8"/><rect x="498.0" width="1.05" height="13.0" fill="#c6c6c6"/><rect x="499.0" width="1.05" height="13.0" fill="#aeaeae"/><rect x="500.0" width="1.05" height="13.0" fill="#b5b5b5"/><rect x="501.0" width="1.05" height="13.0" fill="#b6b6b6"/><rect x="502.0" width="1.05" height="13.0" fill="#b6b6b6"/><rect x="503.0" width="1.05" height="13.0" fill="#b0b0b0"/><rect x="504.0" width="1.05" height="13.0" fill="#b2b2b2"/><rect x="505.0" width="1.05" height="13.0" fill="#bcbcbc"/><rect x="506.0" width="1.05" height="13.0" fill="#aeaeae"/><rect x="507.0" width="1.05" height="13.0" fill="#ababab"/><rect x="508.0" width="1.05" height="13.0" fill="#b1b1b1"/><rect x="509.0" width="1.05" height="13.0" fill="#bebebe"/><rect x="510.0" width="1.05" height="13.0" fill="#bfbfbf"/><rect x="511.0" width="1.05" height="13.0" fill="#adadad"/><rect x="512.0" width="1.05" height="13.0" fill="#aaaaaa"/><rect x="513.0" width="1.05" height="13.0" fill="#b2b2b2"/><rect x="514.0" width="1.05" height="13.0" fill="#c7c7c7"/><rect x="515.0" width="1.05" height="13.0" fill="#d3d3d3"/><rect x="516.0" width="1.05" height="13.0" fill="#d0d0d0"/><rect x="517.0" width="1.05" height="13.0" fill="#d4d4d4"/><rect x="518.0" width="1.05" height="13.0" fill="#d0d0d0"/><rect x="519.0" width="1.05" height="13.0" fill="#d0d0d0"/><rect x="520.0" width="1.05" height="13.0" fill="#d1d1d1"/><rect x="521.0" width="1.05" height="13.0" fill="#cfcfcf"/><rect x="522.0" width="1.05" height="13.0" fill="#cfcfcf"/><rect x="523.0" width="1.05" height="13.0" fill="#d5d5d5"/><rect x="524.0" width="1.05" height="13.0" fill="#d8d8d8"/><rect x="525.0" width="1.05" height="13.0" fill="#cacaca"/><rect x="526.0" width="1.05" height="13.0" fill="#c7c7c7"/><rect x="527.0" width="1.05" height="13.0" fill="#d3d3d3"/><rect x="528.0" width="1.05" height="13.0" fill="#bcbcbc"/><rect x="529.0" width="1.05" height="13.0" fill="#a2a2a2"/><rect x="530.0" width="1.05" height="13.0" fill="#b0b0b0"/><rect x="531.0" width="1.05" height="13.0" fill="#aeaeae"/><rect x="532.0" width="1.05" height="13.0" fill="#a9a9a9"/><rect x="533.0" width="1.05" height="13.0" fill="#ababab"/><rect x="534.0" width="1.05" height="13.0" fill="#afafaf"/><rect x="535.0" width="1.05" height="13.0" fill="#afafaf"/><rect x="536.0" width="1.05" height="13.0" fill="#a9a9a9"/><rect x="537.0" width="1.05" height="13.0" fill="#b0b0b0"/><rect x="538.0" width="1.05" height="13.0" fill="#bdbdbd"/><rect x="539.0" width="1.05" height="13.0" fill="#bbbbbb"/><rect x="540.0" width="1.05" height="13.0" fill="#b6b6b6"/><rect x="541.0" width="1.05" height="13.0" fill="#b4b4b4"/><rect x="542.0" width="1.05" height="13.0" fill="#c0c0c0"/><rect x="543.0" width="1.05" height="13.0" fill="#d4d4d4"/><rect x="544.0" width="1.05" height="13.0" fill="#d9d9d9"/><rect x="545.0" width="1.05" height="13.0" fill="#dcdcdc"/><rect x="546.0" width="1.05" height="13.0" fill="#e1e1e1"/><rect x="547.0" width="1.05" height="13.0" fill="#ececec"/><rect x="548.0" width="1.05" height="13.0" fill="#f5f5f5"/></g><g transform="translate(0,396.3)"><rect x="468.0" width="1.05" height="9.8" fill="#f5f5f5"/><rect x="469.0" width="1.05" height="9.8" fill="#eaeaea"/><rect x="470.0" width="1.05" height="9.8" fill="#e0e0e0"/><rect x="471.0" width="1.05" height="9.8" fill="#c9c9c9"/><rect x="472.0" width="1.05" height="9.8" fill="#b8b8b8"/><rect x="473.0" width="1.05" height="9.8" fill="#b4b4b4"/><rect x="474.0" width="1.05" height="9.8" fill="#ababab"/><rect x="475.0" width="1.05" height="9.8" fill="#a9a9a9"/><rect x="476.0" width="1.05" height="9.8" fill="#a9a9a9"/><rect x="477.0" width="1.05" height="9.8" fill="#aaaaaa"/><rect x="478.0" width="1.05" height="9.8" fill="#acacac"/><rect x="479.0" width="1.05" height="9.8" fill="#afafaf"/><rect x="480.0" width="1.05" height="9.8" fill="#b4b4b4"/><rect x="481.0" width="1.05" height="9.8" fill="#ababab"/><rect x="482.0" width="1.05" height="9.8" fill="#b1b1b1"/><rect x="483.0" width="1.05" height="9.8" fill="#b6b6b6"/><rect x="484.0" width="1.05" height="9.8" fill="#b8b8b8"/><rect x="485.0" width="1.05" height="9.8" fill="#c3c3c3"/><rect x="486.0" width="1.05" height="9.8" fill="#c0c0c0"/><rect x="487.0" width="1.05" height="9.8" fill="#cccccc"/><rect x="488.0" width="1.05" height="9.8" fill="#c9c9c9"/><rect x="489.0" width="1.05" height="9.8" fill="#c4c4c4"/><rect x="490.0" width="1.05" height="9.8" fill="#dddddd"/><rect x="491.0" width="1.05" height="9.8" fill="#e0e0e0"/><rect x="492.0" width="1.05" height="9.8" fill="#dadada"/><rect x="493.0" width="1.05" height="9.8" fill="#dedede"/><rect x="494.0" width="1.05" height="9.8" fill="#dbdbdb"/><rect x="495.0" width="1.05" height="9.8" fill="#d7d7d7"/><rect x="496.0" width="1.05" height="9.8" fill="#e8e8e8"/><rect x="497.0" width="1.05" height="9.8" fill="#e8e8e8"/><rect x="498.0" width="1.05" height="9.8" fill="#c2c2c2"/><rect x="499.0" width="1.05" height="9.8" fill="#acacac"/><rect x="500.0" width="1.05" height="9.8" fill="#b7b7b7"/><rect x="501.0" width="1.05" height="9.8" fill="#b8b8b8"/><rect x="502.0" width="1.05" height="9.8" fill="#bbbbbb"/><rect x="503.0" width="1.05" height="9.8" fill="#b6b6b6"/><rect x="504.0" width="1.05" height="9.8" fill="#b5b5b5"/><rect x="505.0" width="1.05" height="9.8" fill="#b7b7b7"/><rect x="506.0" width="1.05" height="9.8" fill="#afafaf"/><rect x="507.0" width="1.05" height="9.8" fill="#aeaeae"/><rect x="508.0" width="1.05" height="9.8" fill="#afafaf"/><rect x="509.0" width="1.05" height="9.8" fill="#b2b2b2"/><rect x="510.0" width="1.05" height="9.8" fill="#c1c1c1"/><rect x="511.0" width="1.05" height="9.8" fill="#bababa"/><rect x="512.0" width="1.05" height="9.8" fill="#b2b2b2"/><rect x="513.0" width="1.05" height="9.8" fill="#b9b9b9"/><rect x="514.0" width="1.05" height="9.8" fill="#d6d6d6"/><rect x="515.0" width="1.05" height="9.8" fill="#d4d4d4"/><rect x="516.0" width="1.05" height="9.8" fill="#c2c2c2"/><rect x="517.0" width="1.05" height="9.8" fill="#cacaca"/><rect x="518.0" width="1.05" height="9.8" fill="#c9c9c9"/><rect x="519.0" width="1.05" height="9.8" fill="#c4c4c4"/><rect x="520.0" width="1.05" height="9.8" fill="#cbcbcb"/><rect x="521.0" width="1.05" height="9.8" fill="#cdcdcd"/><rect x="522.0" width="1.05" height="9.8" fill="#d1d1d1"/><rect x="523.0" width="1.05" height="9.8" fill="#cecece"/><rect x="524.0" width="1.05" height="9.8" fill="#d0d0d0"/><rect x="525.0" width="1.05" height="9.8" fill="#cbcbcb"/><rect x="526.0" width="1.05" height="9.8" fill="#cacaca"/><rect x="527.0" width="1.05" height="9.8" fill="#dadada"/><rect x="528.0" width="1.05" height="9.8" fill="#c7c7c7"/><rect x="529.0" width="1.05" height="9.8" fill="#ababab"/><rect x="530.0" width="1.05" height="9.8" fill="#b2b2b2"/><rect x="531.0" width="1.05" height="9.8" fill="#afafaf"/><rect x="532.0" width="1.05" height="9.8" fill="#bababa"/><rect x="533.0" width="1.05" height="9.8" fill="#b4b4b4"/><rect x="534.0" width="1.05" height="9.8" fill="#b5b5b5"/><rect x="535.0" width="1.05" height="9.8" fill="#bfbfbf"/><rect x="536.0" width="1.05" height="9.8" fill="#b5b5b5"/><rect x="537.0" width="1.05" height="9.8" fill="#b2b2b2"/><rect x="538.0" width="1.05" height="9.8" fill="#c2c2c2"/><rect x="539.0" width="1.05" height="9.8" fill="#c3c3c3"/><rect x="540.0" width="1.05" height="9.8" fill="#c6c6c6"/><rect x="541.0" width="1.05" height="9.8" fill="#bfbfbf"/><rect x="542.0" width="1.05" height="9.8" fill="#c5c5c5"/><rect x="543.0" width="1.05" height="9.8" fill="#cecece"/><rect x="544.0" width="1.05" height="9.8" fill="#d6d6d6"/><rect x="545.0" width="1.05" height="9.8" fill="#d9d9d9"/><rect x="546.0" width="1.05" height="9.8" fill="#dedede"/><rect x="547.0" width="1.05" height="9.8" fill="#eaeaea"/><rect x="548.0" width="1.05" height="9.8" fill="#f5f5f5"/></g><g transform="translate(0,407.3)"><rect x="468.0" width="1.05" height="13.0" fill="#f4f4f4"/><rect x="469.0" width="1.05" height="13.0" fill="#e9e9e9"/><rect x="470.0" width="1.05" height="13.0" fill="#dadada"/><rect x="471.0" width="1.05" height="13.0" fill="#c5c5c5"/><rect x="472.0" width="1.05" height="13.0" fill="#b6b6b6"/><rect x="473.0" width="1.05" height="13.0" fill="#b0b0b0"/><rect x="474.0" width="1.05" height="13.0" fill="#acacac"/><rect x="475.0" width="1.05" height="13.0" fill="#acacac"/><rect x="476.0" width="1.05" height="13.0" fill="#a8a8a8"/><rect x="477.0" width="1.05" height="13.0" fill="#acacac"/><rect x="478.0" width="1.05" height="13.0" fill="#b4b4b4"/><rect x="479.0" width="1.05" height="13.0" fill="#b3b3b3"/><rect x="480.0" width="1.05" height="13.0" fill="#b3b3b3"/><rect x="481.0" width="1.05" height="13.0" fill="#b0b0b0"/><rect x="482.0" width="1.05" height="13.0" fill="#b5b5b5"/><rect x="483.0" width="1.05" height="13.0" fill="#b4b4b4"/><rect x="484.0" width="1.05" height="13.0" fill="#b9b9b9"/><rect x="485.0" width="1.05" height="13.0" fill="#c1c1c1"/><rect x="486.0" width="1.05" height="13.0" fill="#bfbfbf"/><rect x="487.0" width="1.05" height="13.0" fill="#cbcbcb"/><rect x="488.0" width="1.05" height="13.0" fill="#c4c4c4"/><rect x="489.0" width="1.05" height="13.0" fill="#bdbdbd"/><rect x="490.0" width="1.05" height="13.0" fill="#d4d4d4"/><rect x="491.0" width="1.05" height="13.0" fill="#dedede"/><rect x="492.0" width="1.05" height="13.0" fill="#e1e1e1"/><rect x="493.0" width="1.05" height="13.0" fill="#e8e8e8"/><rect x="494.0" width="1.05" height="13.0" fill="#e2e2e2"/><rect x="495.0" width="1.05" height="13.0" fill="#dcdcdc"/><rect x="496.0" width="1.05" height="13.0" fill="#e8e8e8"/><rect x="497.0" width="1.05" height="13.0" fill="#e8e8e8"/><rect x="498.0" width="1.05" height="13.0" fill="#bfbfbf"/><rect x="499.0" width="1.05" height="13.0" fill="#aaaaaa"/><rect x="500.0" width="1.05" height="13.0" fill="#aeaeae"/><rect x="501.0" width="1.05" height="13.0" fill="#acacac"/><rect x="502.0" width="1.05" height="13.0" fill="#b4b4b4"/><rect x="503.0" width="1.05" height="13.0" fill="#b6b6b6"/><rect x="504.0" width="1.05" height="13.0" fill="#bcbcbc"/><rect x="505.0" width="1.05" height="13.0" fill="#c4c4c4"/><rect x="506.0" width="1.05" height="13.0" fill="#bcbcbc"/><rect x="507.0" width="1.05" height="13.0" fill="#b3b3b3"/><rect x="508.0" width="1.05" height="13.0" fill="#b6b6b6"/><rect x="509.0" width="1.05" height="13.0" fill="#b7b7b7"/><rect x="510.0" width="1.05" height="13.0" fill="#bababa"/><rect x="511.0" width="1.05" height="13.0" fill="#aeaeae"/><rect x="512.0" width="1.05" height="13.0" fill="#a9a9a9"/><rect x="513.0" width="1.05" height="13.0" fill="#ababab"/><rect x="514.0" width="1.05" height="13.0" fill="#c6c6c6"/><rect x="515.0" width="1.05" height="13.0" fill="#cecece"/><rect x="516.0" width="1.05" height="13.0" fill="#c3c3c3"/><rect x="517.0" width="1.05" height="13.0" fill="#d0d0d0"/><rect x="518.0" width="1.05" height="13.0" fill="#d3d3d3"/><rect x="519.0" width="1.05" height="13.0" fill="#c9c9c9"/><rect x="520.0" width="1.05" height="13.0" fill="#cfcfcf"/><rect x="521.0" width="1.05" height="13.0" fill="#cacaca"/><rect x="522.0" width="1.05" height="13.0" fill="#cfcfcf"/><rect x="523.0" width="1.05" height="13.0" fill="#d1d1d1"/><rect x="524.0" width="1.05" height="13.0" fill="#cecece"/><rect x="525.0" width="1.05" height="13.0" fill="#cbcbcb"/><rect x="526.0" width="1.05" height="13.0" fill="#c7c7c7"/><rect x="527.0" width="1.05" height="13.0" fill="#d5d5d5"/><rect x="528.0" width="1.05" height="13.0" fill="#bebebe"/><rect x="529.0" width="1.05" height="13.0" fill="#a0a0a0"/><rect x="530.0" width="1.05" height="13.0" fill="#acacac"/><rect x="531.0" width="1.05" height="13.0" fill="#afafaf"/><rect x="532.0" width="1.05" height="13.0" fill="#afafaf"/><rect x="533.0" width="1.05" height="13.0" fill="#aeaeae"/><rect x="534.0" width="1.05" height="13.0" fill="#b2b2b2"/><rect x="535.0" width="1.05" height="13.0" fill="#b7b7b7"/><rect x="536.0" width="1.05" height="13.0" fill="#adadad"/><rect x="537.0" width="1.05" height="13.0" fill="#b7b7b7"/><rect x="538.0" width="1.05" height="13.0" fill="#bfbfbf"/><rect x="539.0" width="1.05" height="13.0" fill="#b4b4b4"/><rect x="540.0" width="1.05" height="13.0" fill="#b4b4b4"/><rect x="541.0" width="1.05" height="13.0" fill="#aeaeae"/><rect x="542.0" width="1.05" height="13.0" fill="#aeaeae"/><rect x="543.0" width="1.05" height="13.0" fill="#bcbcbc"/><rect x="544.0" width="1.05" height="13.0" fill="#c8c8c8"/><rect x="545.0" width="1.05" height="13.0" fill="#d2d2d2"/><rect x="546.0" width="1.05" height="13.0" fill="#dbdbdb"/><rect x="547.0" width="1.05" height="13.0" fill="#ececec"/><rect x="548.0" width="1.05" height="13.0" fill="#f8f8f8"/></g><g transform="translate(0,421.3)"><rect x="468.0" width="1.05" height="10.7" fill="#f5f5f5"/><rect x="469.0" width="1.05" height="10.7" fill="#f1f1f1"/><rect x="470.0" width="1.05" height="10.7" fill="#e6e6e6"/><rect x="471.0" width="1.05" height="10.7" fill="#d6d6d6"/><rect x="472.0" width="1.05" height="10.7" fill="#d8d8d8"/><rect x="473.0" width="1.05" height="10.7" fill="#dadada"/><rect x="474.0" width="1.05" height="10.7" fill="#cecece"/><rect x="475.0" width="1.05" height="10.7" fill="#c7c7c7"/><rect x="476.0" width="1.05" height="10.7" fill="#c4c4c4"/><rect x="477.0" width="1.05" height="10.7" fill="#c3c3c3"/><rect x="478.0" width="1.05" height="10.7" fill="#c5c5c5"/><rect x="479.0" width="1.05" height="10.7" fill="#c2c2c2"/><rect x="480.0" width="1.05" height="10.7" fill="#bdbdbd"/><rect x="481.0" width="1.05" height="10.7" fill="#bebebe"/><rect x="482.0" width="1.05" height="10.7" fill="#b6b6b6"/><rect x="483.0" width="1.05" height="10.7" fill="#b9b9b9"/><rect x="484.0" width="1.05" height="10.7" fill="#c0c0c0"/><rect x="485.0" width="1.05" height="10.7" fill="#c2c2c2"/><rect x="486.0" width="1.05" height="10.7" fill="#bbbbbb"/><rect x="487.0" width="1.05" height="10.7" fill="#b7b7b7"/><rect x="488.0" width="1.05" height="10.7" fill="#b7b7b7"/><rect x="489.0" width="1.05" height="10.7" fill="#bcbcbc"/><rect x="490.0" width="1.05" height="10.7" fill="#b7b7b7"/><rect x="491.0" width="1.05" height="10.7" fill="#bdbdbd"/><rect x="492.0" width="1.05" height="10.7" fill="#c9c9c9"/><rect x="493.0" width="1.05" height="10.7" fill="#bfbfbf"/><rect x="494.0" width="1.05" height="10.7" fill="#b3b3b3"/><rect x="495.0" width="1.05" height="10.7" fill="#bebebe"/><rect x="496.0" width="1.05" height="10.7" fill="#c1c1c1"/><rect x="497.0" width="1.05" height="10.7" fill="#c3c3c3"/><rect x="498.0" width="1.05" height="10.7" fill="#c9c9c9"/><rect x="499.0" width="1.05" height="10.7" fill="#c4c4c4"/><rect x="500.0" width="1.05" height="10.7" fill="#b9b9b9"/><rect x="501.0" width="1.05" height="10.7" fill="#ababab"/><rect x="502.0" width="1.05" height="10.7" fill="#b4b4b4"/><rect x="503.0" width="1.05" height="10.7" fill="#cecece"/><rect x="504.0" width="1.05" height="10.7" fill="#cecece"/><rect x="505.0" width="1.05" height="10.7" fill="#bababa"/><rect x="506.0" width="1.05" height="10.7" fill="#bfbfbf"/><rect x="507.0" width="1.05" height="10.7" fill="#d1d1d1"/><rect x="508.0" width="1.05" height="10.7" fill="#c9c9c9"/><rect x="509.0" width="1.05" height="10.7" fill="#c6c6c6"/><rect x="510.0" width="1.05" height="10.7" fill="#c9c9c9"/><rect x="511.0" width="1.05" height="10.7" fill="#d3d3d3"/><rect x="512.0" width="1.05" height="10.7" fill="#d8d8d8"/><rect x="513.0" width="1.05" height="10.7" fill="#dcdcdc"/><rect x="514.0" width="1.05" height="10.7" fill="#dbdbdb"/><rect x="515.0" width="1.05" height="10.7" fill="#d4d4d4"/><rect x="516.0" width="1.05" height="10.7" fill="#d3d3d3"/><rect x="517.0" width="1.05" height="10.7" fill="#d9d9d9"/><rect x="518.0" width="1.05" height="10.7" fill="#d8d8d8"/><rect x="519.0" width="1.05" height="10.7" fill="#cccccc"/><rect x="520.0" width="1.05" height="10.7" fill="#d0d0d0"/><rect x="521.0" width="1.05" height="10.7" fill="#d7d7d7"/><rect x="522.0" width="1.05" height="10.7" fill="#d4d4d4"/><rect x="523.0" width="1.05" height="10.7" fill="#c4c4c4"/><rect x="524.0" width="1.05" height="10.7" fill="#c9c9c9"/><rect x="525.0" width="1.05" height="10.7" fill="#cecece"/><rect x="526.0" width="1.05" height="10.7" fill="#c8c8c8"/><rect x="527.0" width="1.05" height="10.7" fill="#c6c6c6"/><rect x="528.0" width="1.05" height="10.7" fill="#cbcbcb"/><rect x="529.0" width="1.05" height="10.7" fill="#cfcfcf"/><rect x="530.0" width="1.05" height="10.7" fill="#c7c7c7"/><rect x="531.0" width="1.05" height="10.7" fill="#bfbfbf"/><rect x="532.0" width="1.05" height="10.7" fill="#c8c8c8"/><rect x="533.0" width="1.05" height="10.7" fill="#cfcfcf"/><rect x="534.0" width="1.05" height="10.7" fill="#dbdbdb"/><rect x="535.0" width="1.05" height="10.7" fill="#d7d7d7"/><rect x="536.0" width="1.05" height="10.7" fill="#c1c1c1"/><rect x="537.0" width="1.05" height="10.7" fill="#c3c3c3"/><rect x="538.0" width="1.05" height="10.7" fill="#d1d1d1"/><rect x="539.0" width="1.05" height="10.7" fill="#d3d3d3"/><rect x="540.0" width="1.05" height="10.7" fill="#c7c7c7"/><rect x="541.0" width="1.05" height="10.7" fill="#c9c9c9"/><rect x="542.0" width="1.05" height="10.7" fill="#c6c6c6"/><rect x="543.0" width="1.05" height="10.7" fill="#b4b4b4"/><rect x="544.0" width="1.05" height="10.7" fill="#b7b7b7"/><rect x="545.0" width="1.05" height="10.7" fill="#cdcdcd"/><rect x="546.0" width="1.05" height="10.7" fill="#e4e4e4"/><rect x="547.0" width="1.05" height="10.7" fill="#efefef"/><rect x="548.0" width="1.05" height="10.7" fill="#f7f7f7"/></g><g transform="translate(0,433.1)"><rect x="468.0" width="1.05" height="10.3" fill="#f7f7f7"/><rect x="469.0" width="1.05" height="10.3" fill="#f1f1f1"/><rect x="470.0" width="1.05" height="10.3" fill="#e6e6e6"/><rect x="471.0" width="1.05" height="10.3" fill="#dedede"/><rect x="472.0" width="1.05" height="10.3" fill="#dadada"/><rect x="473.0" width="1.05" height="10.3" fill="#cdcdcd"/><rect x="474.0" width="1.05" height="10.3" fill="#c3c3c3"/><rect x="475.0" width="1.05" height="10.3" fill="#c2c2c2"/><rect x="476.0" width="1.05" height="10.3" fill="#c4c4c4"/><rect x="477.0" width="1.05" height="10.3" fill="#c8c8c8"/><rect x="478.0" width="1.05" height="10.3" fill="#d6d6d6"/><rect x="479.0" width="1.05" height="10.3" fill="#c5c5c5"/><rect x="480.0" width="1.05" height="10.3" fill="#bdbdbd"/><rect x="481.0" width="1.05" height="10.3" fill="#c3c3c3"/><rect x="482.0" width="1.05" height="10.3" fill="#bdbdbd"/><rect x="483.0" width="1.05" height="10.3" fill="#b6b6b6"/><rect x="484.0" width="1.05" height="10.3" fill="#bababa"/><rect x="485.0" width="1.05" height="10.3" fill="#bcbcbc"/><rect x="486.0" width="1.05" height="10.3" fill="#bfbfbf"/><rect x="487.0" width="1.05" height="10.3" fill="#bcbcbc"/><rect x="488.0" width="1.05" height="10.3" fill="#c1c1c1"/><rect x="489.0" width="1.05" height="10.3" fill="#bebebe"/><rect x="490.0" width="1.05" height="10.3" fill="#bcbcbc"/><rect x="491.0" width="1.05" height="10.3" fill="#cacaca"/><rect x="492.0" width="1.05" height="10.3" fill="#d0d0d0"/><rect x="493.0" width="1.05" height="10.3" fill="#bdbdbd"/><rect x="494.0" width="1.05" height="10.3" fill="#b0b0b0"/><rect x="495.0" width="1.05" height="10.3" fill="#bebebe"/><rect x="496.0" width="1.05" height="10.3" fill="#c2c2c2"/><rect x="497.0" width="1.05" height="10.3" fill="#c0c0c0"/><rect x="498.0" width="1.05" height="10.3" fill="#c3c3c3"/><rect x="499.0" width="1.05" height="10.3" fill="#c2c2c2"/><rect x="500.0" width="1.05" height="10.3" fill="#bcbcbc"/><rect x="501.0" width="1.05" height="10.3" fill="#b3b3b3"/><rect x="502.0" width="1.05" height="10.3" fill="#b5b5b5"/><rect x="503.0" width="1.05" height="10.3" fill="#c3c3c3"/><rect x="504.0" width="1.05" height="10.3" fill="#cbcbcb"/><rect x="505.0" width="1.05" height="10.3" fill="#c0c0c0"/><rect x="506.0" width="1.05" height="10.3" fill="#c3c3c3"/><rect x="507.0" width="1.05" height="10.3" fill="#d1d1d1"/><rect x="508.0" width="1.05" height="10.3" fill="#c7c7c7"/><rect x="509.0" width="1.05" height="10.3" fill="#c3c3c3"/><rect x="510.0" width="1.05" height="10.3" fill="#cecece"/><rect x="511.0" width="1.05" height="10.3" fill="#d9d9d9"/><rect x="512.0" width="1.05" height="10.3" fill="#dcdcdc"/><rect x="513.0" width="1.05" height="10.3" fill="#d8d8d8"/><rect x="514.0" width="1.05" height="10.3" fill="#dadada"/><rect x="515.0" width="1.05" height="10.3" fill="#dadada"/><rect x="516.0" width="1.05" height="10.3" fill="#d5d5d5"/><rect x="517.0" width="1.05" height="10.3" fill="#d1d1d1"/><rect x="518.0" width="1.05" height="10.3" fill="#d3d3d3"/><rect x="519.0" width="1.05" height="10.3" fill="#d0d0d0"/><rect x="520.0" width="1.05" height="10.3" fill="#d5d5d5"/><rect x="521.0" width="1.05" height="10.3" fill="#d4d4d4"/><rect x="522.0" width="1.05" height="10.3" fill="#d0d0d0"/><rect x="523.0" width="1.05" height="10.3" fill="#cacaca"/><rect x="524.0" width="1.05" height="10.3" fill="#cbcbcb"/><rect x="525.0" width="1.05" height="10.3" fill="#d1d1d1"/><rect x="526.0" width="1.05" height="10.3" fill="#c8c8c8"/><rect x="527.0" width="1.05" height="10.3" fill="#cacaca"/><rect x="528.0" width="1.05" height="10.3" fill="#d3d3d3"/><rect x="529.0" width="1.05" height="10.3" fill="#dadada"/><rect x="530.0" width="1.05" height="10.3" fill="#d0d0d0"/><rect x="531.0" width="1.05" height="10.3" fill="#c5c5c5"/><rect x="532.0" width="1.05" height="10.3" fill="#c6c6c6"/><rect x="533.0" width="1.05" height="10.3" fill="#cacaca"/><rect x="534.0" width="1.05" height="10.3" fill="#dbdbdb"/><rect x="535.0" width="1.05" height="10.3" fill="#d5d5d5"/><rect x="536.0" width="1.05" height="10.3" fill="#c5c5c5"/><rect x="537.0" width="1.05" height="10.3" fill="#c6c6c6"/><rect x="538.0" width="1.05" height="10.3" fill="#d0d0d0"/><rect x="539.0" width="1.05" height="10.3" fill="#cfcfcf"/><rect x="540.0" width="1.05" height="10.3" fill="#c7c7c7"/><rect x="541.0" width="1.05" height="10.3" fill="#c6c6c6"/><rect x="542.0" width="1.05" height="10.3" fill="#bebebe"/><rect x="543.0" width="1.05" height="10.3" fill="#b8b8b8"/><rect x="544.0" width="1.05" height="10.3" fill="#bcbcbc"/><rect x="545.0" width="1.05" height="10.3" fill="#cccccc"/><rect x="546.0" width="1.05" height="10.3" fill="#e3e3e3"/><rect x="547.0" width="1.05" height="10.3" fill="#efefef"/><rect x="548.0" width="1.05" height="10.3" fill="#f5f5f5"/></g><g transform="translate(0,444.5)"><rect x="468.0" width="1.05" height="14.5" fill="#f5f5f5"/><rect x="469.0" width="1.05" height="14.5" fill="#efefef"/><rect x="470.0" width="1.05" height="14.5" fill="#e4e4e4"/><rect x="471.0" width="1.05" height="14.5" fill="#d9d9d9"/><rect x="472.0" width="1.05" height="14.5" fill="#dcdcdc"/><rect x="473.0" width="1.05" height="14.5" fill="#d3d3d3"/><rect x="474.0" width="1.05" height="14.5" fill="#cbcbcb"/><rect x="475.0" width="1.05" height="14.5" fill="#cecece"/><rect x="476.0" width="1.05" height="14.5" fill="#cbcbcb"/><rect x="477.0" width="1.05" height="14.5" fill="#d1d1d1"/><rect x="478.0" width="1.05" height="14.5" fill="#d2d2d2"/><rect x="479.0" width="1.05" height="14.5" fill="#bfbfbf"/><rect x="480.0" width="1.05" height="14.5" fill="#b5b5b5"/><rect x="481.0" width="1.05" height="14.5" fill="#bcbcbc"/><rect x="482.0" width="1.05" height="14.5" fill="#bfbfbf"/><rect x="483.0" width="1.05" height="14.5" fill="#c6c6c6"/><rect x="484.0" width="1.05" height="14.5" fill="#cacaca"/><rect x="485.0" width="1.05" height="14.5" fill="#cdcdcd"/><rect x="486.0" width="1.05" height="14.5" fill="#c6c6c6"/><rect x="487.0" width="1.05" height="14.5" fill="#b7b7b7"/><rect x="488.0" width="1.05" height="14.5" fill="#bfbfbf"/><rect x="489.0" width="1.05" height="14.5" fill="#c4c4c4"/><rect x="490.0" width="1.05" height="14.5" fill="#bbbbbb"/><rect x="491.0" width="1.05" height="14.5" fill="#c7c7c7"/><rect x="492.0" width="1.05" height="14.5" fill="#d7d7d7"/><rect x="493.0" width="1.05" height="14.5" fill="#c5c5c5"/><rect x="494.0" width="1.05" height="14.5" fill="#b2b2b2"/><rect x="495.0" width="1.05" height="14.5" fill="#bdbdbd"/><rect x="496.0" width="1.05" height="14.5" fill="#bfbfbf"/><rect x="497.0" width="1.05" height="14.5" fill="#bcbcbc"/><rect x="498.0" width="1.05" height="14.5" fill="#bebebe"/><rect x="499.0" width="1.05" height="14.5" fill="#c5c5c5"/><rect x="500.0" width="1.05" height="14.5" fill="#bfbfbf"/><rect x="501.0" width="1.05" height="14.5" fill="#b1b1b1"/><rect x="502.0" width="1.05" height="14.5" fill="#b3b3b3"/><rect x="503.0" width="1.05" height="14.5" fill="#c1c1c1"/><rect x="504.0" width="1.05" height="14.5" fill="#c3c3c3"/><rect x="505.0" width="1.05" height="14.5" fill="#b2b2b2"/><rect x="506.0" width="1.05" height="14.5" fill="#b8b8b8"/><rect x="507.0" width="1.05" height="14.5" fill="#c4c4c4"/><rect x="508.0" width="1.05" height="14.5" fill="#bfbfbf"/><rect x="509.0" width="1.05" height="14.5" fill="#bfbfbf"/><rect x="510.0" width="1.05" height="14.5" fill="#c5c5c5"/><rect x="511.0" width="1.05" height="14.5" fill="#d6d6d6"/><rect x="512.0" width="1.05" height="14.5" fill="#d7d7d7"/><rect x="513.0" width="1.05" height="14.5" fill="#d3d3d3"/><rect x="514.0" width="1.05" height="14.5" fill="#d4d4d4"/><rect x="515.0" width="1.05" height="14.5" fill="#d5d5d5"/><rect x="516.0" width="1.05" height="14.5" fill="#dbdbdb"/><rect x="517.0" width="1.05" height="14.5" fill="#dbdbdb"/><rect x="518.0" width="1.05" height="14.5" fill="#d5d5d5"/><rect x="519.0" width="1.05" height="14.5" fill="#d4d4d4"/><rect x="520.0" width="1.05" height="14.5" fill="#d8d8d8"/><rect x="521.0" width="1.05" height="14.5" fill="#d9d9d9"/><rect x="522.0" width="1.05" height="14.5" fill="#cecece"/><rect x="523.0" width="1.05" height="14.5" fill="#c9c9c9"/><rect x="524.0" width="1.05" height="14.5" fill="#c8c8c8"/><rect x="525.0" width="1.05" height="14.5" fill="#c9c9c9"/><rect x="526.0" width="1.05" height="14.5" fill="#c5c5c5"/><rect x="527.0" width="1.05" height="14.5" fill="#c1c1c1"/><rect x="528.0" width="1.05" height="14.5" fill="#cecece"/><rect x="529.0" width="1.05" height="14.5" fill="#d8d8d8"/><rect x="530.0" width="1.05" height="14.5" fill="#d3d3d3"/><rect x="531.0" width="1.05" height="14.5" fill="#c6c6c6"/><rect x="532.0" width="1.05" height="14.5" fill="#cacaca"/><rect x="533.0" width="1.05" height="14.5" fill="#cecece"/><rect x="534.0" width="1.05" height="14.5" fill="#d6d6d6"/><rect x="535.0" width="1.05" height="14.5" fill="#d1d1d1"/><rect x="536.0" width="1.05" height="14.5" fill="#c0c0c0"/><rect x="537.0" width="1.05" height="14.5" fill="#c0c0c0"/><rect x="538.0" width="1.05" height="14.5" fill="#c3c3c3"/><rect x="539.0" width="1.05" height="14.5" fill="#c9c9c9"/><rect x="540.0" width="1.05" height="14.5" fill="#c5c5c5"/><rect x="541.0" width="1.05" height="14.5" fill="#c6c6c6"/><rect x="542.0" width="1.05" height="14.5" fill="#c4c4c4"/><rect x="543.0" width="1.05" height="14.5" fill="#bcbcbc"/><rect x="544.0" width="1.05" height="14.5" fill="#b4b4b4"/><rect x="545.0" width="1.05" height="14.5" fill="#c9c9c9"/><rect x="546.0" width="1.05" height="14.5" fill="#dfdfdf"/><rect x="547.0" width="1.05" height="14.5" fill="#e9e9e9"/><rect x="548.0" width="1.05" height="14.5" fill="#f5f5f5"/></g><g transform="translate(0,460.2)"><rect x="468.0" width="1.05" height="12.3" fill="#f5f5f5"/><rect x="469.0" width="1.05" height="12.3" fill="#f2f2f2"/><rect x="470.0" width="1.05" height="12.3" fill="#e9e9e9"/><rect x="471.0" width="1.05" height="12.3" fill="#d5d5d5"/><rect x="472.0" width="1.05" height="12.3" fill="#c7c7c7"/><rect x="473.0" width="1.05" height="12.3" fill="#bebebe"/><rect x="474.0" width="1.05" height="12.3" fill="#b5b5b5"/><rect x="475.0" width="1.05" height="12.3" fill="#b2b2b2"/><rect x="476.0" width="1.05" height="12.3" fill="#b9b9b9"/><rect x="477.0" width="1.05" height="12.3" fill="#c5c5c5"/><rect x="478.0" width="1.05" height="12.3" fill="#bdbdbd"/><rect x="479.0" width="1.05" height="12.3" fill="#b8b8b8"/><rect x="480.0" width="1.05" height="12.3" fill="#b1b1b1"/><rect x="481.0" width="1.05" height="12.3" fill="#b3b3b3"/><rect x="482.0" width="1.05" height="12.3" fill="#bcbcbc"/><rect x="483.0" width="1.05" height="12.3" fill="#bbbbbb"/><rect x="484.0" width="1.05" height="12.3" fill="#b4b4b4"/><rect x="485.0" width="1.05" height="12.3" fill="#b6b6b6"/><rect x="486.0" width="1.05" height="12.3" fill="#b8b8b8"/><rect x="487.0" width="1.05" height="12.3" fill="#c4c4c4"/><rect x="488.0" width="1.05" height="12.3" fill="#cccccc"/><rect x="489.0" width="1.05" height="12.3" fill="#c4c4c4"/><rect x="490.0" width="1.05" height="12.3" fill="#bdbdbd"/><rect x="491.0" width="1.05" height="12.3" fill="#c8c8c8"/><rect x="492.0" width="1.05" height="12.3" fill="#cfcfcf"/><rect x="493.0" width="1.05" height="12.3" fill="#d2d2d2"/><rect x="494.0" width="1.05" height="12.3" fill="#c6c6c6"/><rect x="495.0" width="1.05" height="12.3" fill="#b8b8b8"/><rect x="496.0" width="1.05" height="12.3" fill="#bdbdbd"/><rect x="497.0" width="1.05" height="12.3" fill="#b8b8b8"/><rect x="498.0" width="1.05" height="12.3" fill="#b1b1b1"/><rect x="499.0" width="1.05" height="12.3" fill="#b2b2b2"/><rect x="500.0" width="1.05" height="12.3" fill="#bcbcbc"/><rect x="501.0" width="1.05" height="12.3" fill="#cbcbcb"/><rect x="502.0" width="1.05" height="12.3" fill="#cecece"/><rect x="503.0" width="1.05" height="12.3" fill="#cdcdcd"/><rect x="504.0" width="1.05" height="12.3" fill="#d1d1d1"/><rect x="505.0" width="1.05" height="12.3" fill="#cdcdcd"/><rect x="506.0" width="1.05" height="12.3" fill="#c9c9c9"/><rect x="507.0" width="1.05" height="12.3" fill="#c6c6c6"/><rect x="508.0" width="1.05" height="12.3" fill="#d2d2d2"/><rect x="509.0" width="1.05" height="12.3" fill="#dadada"/><rect x="510.0" width="1.05" height="12.3" fill="#d5d5d5"/><rect x="511.0" width="1.05" height="12.3" fill="#dddddd"/><rect x="512.0" width="1.05" height="12.3" fill="#e1e1e1"/><rect x="513.0" width="1.05" height="12.3" fill="#dedede"/><rect x="514.0" width="1.05" height="12.3" fill="#d9d9d9"/><rect x="515.0" width="1.05" height="12.3" fill="#cdcdcd"/><rect x="516.0" width="1.05" height="12.3" fill="#d5d5d5"/><rect x="517.0" width="1.05" height="12.3" fill="#dddddd"/><rect x="518.0" width="1.05" height="12.3" fill="#dfdfdf"/><rect x="519.0" width="1.05" height="12.3" fill="#dcdcdc"/><rect x="520.0" width="1.05" height="12.3" fill="#c9c9c9"/><rect x="521.0" width="1.05" height="12.3" fill="#d1d1d1"/><rect x="522.0" width="1.05" height="12.3" fill="#dcdcdc"/><rect x="523.0" width="1.05" height="12.3" fill="#d0d0d0"/><rect x="524.0" width="1.05" height="12.3" fill="#c0c0c0"/><rect x="525.0" width="1.05" height="12.3" fill="#c1c1c1"/><rect x="526.0" width="1.05" height="12.3" fill="#bfbfbf"/><rect x="527.0" width="1.05" height="12.3" fill="#bdbdbd"/><rect x="528.0" width="1.05" height="12.3" fill="#bebebe"/><rect x="529.0" width="1.05" height="12.3" fill="#c0c0c0"/><rect x="530.0" width="1.05" height="12.3" fill="#c7c7c7"/><rect x="531.0" width="1.05" height="12.3" fill="#c0c0c0"/><rect x="532.0" width="1.05" height="12.3" fill="#c0c0c0"/><rect x="533.0" width="1.05" height="12.3" fill="#c7c7c7"/><rect x="534.0" width="1.05" height="12.3" fill="#bebebe"/><rect x="535.0" width="1.05" height="12.3" fill="#b8b8b8"/><rect x="536.0" width="1.05" height="12.3" fill="#bdbdbd"/><rect x="537.0" width="1.05" height="12.3" fill="#bdbdbd"/><rect x="538.0" width="1.05" height="12.3" fill="#bdbdbd"/><rect x="539.0" width="1.05" height="12.3" fill="#bcbcbc"/><rect x="540.0" width="1.05" height="12.3" fill="#bebebe"/><rect x="541.0" width="1.05" height="12.3" fill="#c9c9c9"/><rect x="542.0" width="1.05" height="12.3" fill="#c6c6c6"/><rect x="543.0" width="1.05" height="12.3" fill="#c0c0c0"/><rect x="544.0" width="1.05" height="12.3" fill="#c6c6c6"/><rect x="545.0" width="1.05" height="12.3" fill="#d0d0d0"/><rect x="546.0" width="1.05" height="12.3" fill="#dfdfdf"/><rect x="547.0" width="1.05" height="12.3" fill="#efefef"/><rect x="548.0" width="1.05" height="12.3" fill="#f8f8f8"/></g><g transform="translate(0,473.7)"><rect x="468.0" width="1.05" height="9.1" fill="#f5f5f5"/><rect x="469.0" width="1.05" height="9.1" fill="#f1f1f1"/><rect x="470.0" width="1.05" height="9.1" fill="#ececec"/><rect x="471.0" width="1.05" height="9.1" fill="#dbdbdb"/><rect x="472.0" width="1.05" height="9.1" fill="#cacaca"/><rect x="473.0" width="1.05" height="9.1" fill="#c3c3c3"/><rect x="474.0" width="1.05" height="9.1" fill="#c0c0c0"/><rect x="475.0" width="1.05" height="9.1" fill="#c5c5c5"/><rect x="476.0" width="1.05" height="9.1" fill="#c9c9c9"/><rect x="477.0" width="1.05" height="9.1" fill="#d6d6d6"/><rect x="478.0" width="1.05" height="9.1" fill="#d9d9d9"/><rect x="479.0" width="1.05" height="9.1" fill="#cacaca"/><rect x="480.0" width="1.05" height="9.1" fill="#c3c3c3"/><rect x="481.0" width="1.05" height="9.1" fill="#cdcdcd"/><rect x="482.0" width="1.05" height="9.1" fill="#d9d9d9"/><rect x="483.0" width="1.05" height="9.1" fill="#cacaca"/><rect x="484.0" width="1.05" height="9.1" fill="#c7c7c7"/><rect x="485.0" width="1.05" height="9.1" fill="#d2d2d2"/><rect x="486.0" width="1.05" height="9.1" fill="#cccccc"/><rect x="487.0" width="1.05" height="9.1" fill="#cacaca"/><rect x="488.0" width="1.05" height="9.1" fill="#cccccc"/><rect x="489.0" width="1.05" height="9.1" fill="#cacaca"/><rect x="490.0" width="1.05" height="9.1" fill="#d0d0d0"/><rect x="491.0" width="1.05" height="9.1" fill="#d1d1d1"/><rect x="492.0" width="1.05" height="9.1" fill="#dbdbdb"/><rect x="493.0" width="1.05" height="9.1" fill="#e2e2e2"/><rect x="494.0" width="1.05" height="9.1" fill="#d7d7d7"/><rect x="495.0" width="1.05" height="9.1" fill="#cdcdcd"/><rect x="496.0" width="1.05" height="9.1" fill="#d2d2d2"/><rect x="497.0" width="1.05" height="9.1" fill="#cfcfcf"/><rect x="498.0" width="1.05" height="9.1" fill="#c7c7c7"/><rect x="499.0" width="1.05" height="9.1" fill="#c6c6c6"/><rect x="500.0" width="1.05" height="9.1" fill="#d3d3d3"/><rect x="501.0" width="1.05" height="9.1" fill="#dfdfdf"/><rect x="502.0" width="1.05" height="9.1" fill="#d7d7d7"/><rect x="503.0" width="1.05" height="9.1" fill="#d9d9d9"/><rect x="504.0" width="1.05" height="9.1" fill="#d5d5d5"/><rect x="505.0" width="1.05" height="9.1" fill="#d7d7d7"/><rect x="506.0" width="1.05" height="9.1" fill="#e1e1e1"/><rect x="507.0" width="1.05" height="9.1" fill="#dadada"/><rect x="508.0" width="1.05" height="9.1" fill="#d7d7d7"/><rect x="509.0" width="1.05" height="9.1" fill="#dbdbdb"/><rect x="510.0" width="1.05" height="9.1" fill="#cdcdcd"/><rect x="511.0" width="1.05" height="9.1" fill="#d8d8d8"/><rect x="512.0" width="1.05" height="9.1" fill="#d6d6d6"/><rect x="513.0" width="1.05" height="9.1" fill="#cecece"/><rect x="514.0" width="1.05" height="9.1" fill="#cbcbcb"/><rect x="515.0" width="1.05" height="9.1" fill="#c4c4c4"/><rect x="516.0" width="1.05" height="9.1" fill="#c9c9c9"/><rect x="517.0" width="1.05" height="9.1" fill="#cacaca"/><rect x="518.0" width="1.05" height="9.1" fill="#d2d2d2"/><rect x="519.0" width="1.05" height="9.1" fill="#d4d4d4"/><rect x="520.0" width="1.05" height="9.1" fill="#c6c6c6"/><rect x="521.0" width="1.05" height="9.1" fill="#d2d2d2"/><rect x="522.0" width="1.05" height="9.1" fill="#c1c1c1"/><rect x="523.0" width="1.05" height="9.1" fill="#a1a1a1"/><rect x="524.0" width="1.05" height="9.1" fill="#959595"/><rect x="525.0" width="1.05" height="9.1" fill="#959595"/><rect x="526.0" width="1.05" height="9.1" fill="#999999"/><rect x="527.0" width="1.05" height="9.1" fill="#999999"/><rect x="528.0" width="1.05" height="9.1" fill="#afafaf"/><rect x="529.0" width="1.05" height="9.1" fill="#c5c5c5"/><rect x="530.0" width="1.05" height="9.1" fill="#d7d7d7"/><rect x="531.0" width="1.05" height="9.1" fill="#d8d8d8"/><rect x="532.0" width="1.05" height="9.1" fill="#d1d1d1"/><rect x="533.0" width="1.05" height="9.1" fill="#d1d1d1"/><rect x="534.0" width="1.05" height="9.1" fill="#c6c6c6"/><rect x="535.0" width="1.05" height="9.1" fill="#c1c1c1"/><rect x="536.0" width="1.05" height="9.1" fill="#c6c6c6"/><rect x="537.0" width="1.05" height="9.1" fill="#cdcdcd"/><rect x="538.0" width="1.05" height="9.1" fill="#d1d1d1"/><rect x="539.0" width="1.05" height="9.1" fill="#c9c9c9"/><rect x="540.0" width="1.05" height="9.1" fill="#cfcfcf"/><rect x="541.0" width="1.05" height="9.1" fill="#d8d8d8"/><rect x="542.0" width="1.05" height="9.1" fill="#d4d4d4"/><rect x="543.0" width="1.05" height="9.1" fill="#cacaca"/><rect x="544.0" width="1.05" height="9.1" fill="#c8c8c8"/><rect x="545.0" width="1.05" height="9.1" fill="#d3d3d3"/><rect x="546.0" width="1.05" height="9.1" fill="#e1e1e1"/><rect x="547.0" width="1.05" height="9.1" fill="#ededed"/><rect x="548.0" width="1.05" height="9.1" fill="#f5f5f5"/></g>
<rect x="138.00" y="421.30" width="2.4" height="10.70" fill="#808080"/>
<rect x="138.10" y="433.10" width="2.2" height="10.30" fill="#454545"/>
<rect x="138.20" y="444.50" width="2.0" height="14.50" fill="#333"/>
<rect x="155.10" y="421.30" width="2.4" height="10.70" fill="#666"/>
<rect x="154.80" y="433.10" width="3.0" height="10.30" fill="#707070"/>
<rect x="155.90" y="444.50" width="1.8" height="14.50" fill="#151515"/>
<rect x="162.85" y="444.50" width="1.3" height="14.50" fill="#707070"/>
<rect x="199.65" y="444.50" width="1.3" height="14.50" fill="#555"/>
<rect x="147.20" y="444.50" width="1.2" height="14.50" fill="#909090"/>
<rect x="187.35" y="460.20" width="1.3" height="12.30" fill="#454545"/>
<rect x="184.20" y="473.70" width="2.6" height="9.10" fill="#777"/>
<rect x="195.30" y="473.70" width="2.0" height="9.10" fill="#929292"/>
<rect x="302.90" y="421.30" width="1.0" height="10.70" fill="#333"/>
<rect x="302.90" y="433.10" width="1.0" height="10.30" fill="#333"/>
<rect x="302.45" y="444.50" width="0.9" height="14.50" fill="#d89494"/>
<rect x="310.00" y="444.50" width="1.0" height="14.50" fill="#7a7a7a"/>
<rect x="310.00" y="433.10" width="1.0" height="10.30" fill="#999"/>
<rect x="297.45" y="460.20" width="1.5" height="12.30" fill="#111"/>
<rect x="293.20" y="460.20" width="1.0" height="12.30" fill="#606060"/>
<rect x="288.00" y="473.70" width="1.0" height="9.10" fill="#303030"/>
<rect x="300.30" y="473.70" width="1.0" height="9.10" fill="#707070"/>
<rect x="388.40" y="421.30" width="1.2" height="10.70" fill="#222"/>
<rect x="388.40" y="433.10" width="1.2" height="10.30" fill="#222"/>
<rect x="388.40" y="444.50" width="1.2" height="2.18" fill="#444"/>
<rect x="388.35" y="446.68" width="1.3" height="12.32" fill="#e04848"/>
<rect x="398.80" y="421.30" width="1.0" height="10.70" fill="#606060"/>
<rect x="398.80" y="433.10" width="1.0" height="10.30" fill="#606060"/>
<rect x="398.80" y="444.50" width="1.0" height="14.50" fill="#606060"/>
<rect x="405.90" y="433.10" width="1.0" height="10.30" fill="#222"/>
<rect x="405.90" y="444.50" width="1.0" height="4.35" fill="#555"/>
<rect x="379.65" y="460.20" width="1.3" height="12.30" fill="#111"/>
<rect x="400.70" y="460.20" width="1.6" height="12.30" fill="#404040"/>
<rect x="479.90" y="421.30" width="1.0" height="10.70" fill="#aaa"/>
<rect x="497.00" y="421.30" width="1.0" height="10.70" fill="#a0a0a0"/>
<rect x="518.10" y="421.30" width="1.0" height="10.70" fill="#aaa"/>
<rect x="539.70" y="421.30" width="1.0" height="10.70" fill="#9a9a9a"/>
<rect x="479.90" y="433.10" width="1.0" height="10.30" fill="#aaa"/>
<rect x="497.00" y="433.10" width="1.0" height="10.30" fill="#a0a0a0"/>
<rect x="518.10" y="433.10" width="1.0" height="10.30" fill="#aaa"/>
<rect x="539.70" y="433.10" width="1.0" height="10.30" fill="#9a9a9a"/>
<rect x="479.90" y="444.50" width="1.0" height="14.50" fill="#aaa"/>
<rect x="497.00" y="444.50" width="1.0" height="14.50" fill="#a0a0a0"/>
<rect x="518.10" y="444.50" width="1.0" height="14.50" fill="#aaa"/>
<rect x="539.70" y="444.50" width="1.0" height="14.50" fill="#9a9a9a"/>
<rect x="508.80" y="433.10" width="1.0" height="10.30" fill="#888"/>
<rect x="508.80" y="444.50" width="1.0" height="14.50" fill="#888"/>
<line x1="226.60" y1="344.30" x2="226.60" y2="503.30" stroke="#555" stroke-width="1.3"/>
<line x1="351.00" y1="344.30" x2="351.00" y2="503.30" stroke="#555" stroke-width="1.3"/>
<line x1="452.40" y1="344.30" x2="452.40" y2="503.30" stroke="#555" stroke-width="1.3"/>
<line x1="0.00" y1="420.50" x2="556.00" y2="420.50" stroke="#555" stroke-width="1.3"/>
<line x1="0.00" y1="459.50" x2="560.00" y2="459.50" stroke="#555" stroke-width="1.3"/>
<text x="142.70" y="487.40" font-size="10.4" text-anchor="end" fill="#1e1e1e" stroke="#1e1e1e" stroke-width="0.32" transform="rotate(-90 142.70 487.40)">30</text>
<text x="160.60" y="487.40" font-size="10.4" text-anchor="end" fill="#1e1e1e" stroke="#1e1e1e" stroke-width="0.32" transform="rotate(-90 160.60 487.40)">50</text>
<text x="177.20" y="487.40" font-size="10.4" text-anchor="end" fill="#1e1e1e" stroke="#1e1e1e" stroke-width="0.32" transform="rotate(-90 177.20 487.40)">70</text>
<text x="195.30" y="487.40" font-size="10.4" text-anchor="end" fill="#1e1e1e" stroke="#1e1e1e" stroke-width="0.32" transform="rotate(-90 195.30 487.40)">90</text>
<text x="212.30" y="487.40" font-size="10.4" text-anchor="end" fill="#1e1e1e" stroke="#1e1e1e" stroke-width="0.32" transform="rotate(-90 212.30 487.40)">110</text>
<text x="258.10" y="487.40" font-size="10.4" text-anchor="end" fill="#1e1e1e" stroke="#1e1e1e" stroke-width="0.32" transform="rotate(-90 258.10 487.40)">30</text>
<text x="274.30" y="487.40" font-size="10.4" text-anchor="end" fill="#1e1e1e" stroke="#1e1e1e" stroke-width="0.32" transform="rotate(-90 274.30 487.40)">50</text>
<text x="290.60" y="487.40" font-size="10.4" text-anchor="end" fill="#1e1e1e" stroke="#1e1e1e" stroke-width="0.32" transform="rotate(-90 290.60 487.40)">70</text>
<text x="305.50" y="487.40" font-size="10.4" text-anchor="end" fill="#1e1e1e" stroke="#1e1e1e" stroke-width="0.32" transform="rotate(-90 305.50 487.40)">90</text>
<text x="322.10" y="487.40" font-size="10.4" text-anchor="end" fill="#1e1e1e" stroke="#1e1e1e" stroke-width="0.32" transform="rotate(-90 322.10 487.40)">110</text>
<text x="370.80" y="487.40" font-size="10.4" text-anchor="end" fill="#1e1e1e" stroke="#1e1e1e" stroke-width="0.32" transform="rotate(-90 370.80 487.40)">30</text>
<text x="387.90" y="487.40" font-size="10.4" text-anchor="end" fill="#1e1e1e" stroke="#1e1e1e" stroke-width="0.32" transform="rotate(-90 387.90 487.40)">50</text>
<text x="406.00" y="487.40" font-size="10.4" text-anchor="end" fill="#1e1e1e" stroke="#1e1e1e" stroke-width="0.32" transform="rotate(-90 406.00 487.40)">70</text>
<text x="423.10" y="487.40" font-size="10.4" text-anchor="end" fill="#1e1e1e" stroke="#1e1e1e" stroke-width="0.32" transform="rotate(-90 423.10 487.40)">90</text>
<text x="440.20" y="487.40" font-size="10.4" text-anchor="end" fill="#1e1e1e" stroke="#1e1e1e" stroke-width="0.32" transform="rotate(-90 440.20 487.40)">110</text>
<text x="480.40" y="487.40" font-size="10.4" text-anchor="end" fill="#1e1e1e" stroke="#1e1e1e" stroke-width="0.32" transform="rotate(-90 480.40 487.40)">30</text>
<text x="497.50" y="487.40" font-size="10.4" text-anchor="end" fill="#1e1e1e" stroke="#1e1e1e" stroke-width="0.32" transform="rotate(-90 497.50 487.40)">50</text>
<text x="514.90" y="487.40" font-size="10.4" text-anchor="end" fill="#1e1e1e" stroke="#1e1e1e" stroke-width="0.32" transform="rotate(-90 514.90 487.40)">70</text>
<text x="532.60" y="487.40" font-size="10.4" text-anchor="end" fill="#1e1e1e" stroke="#1e1e1e" stroke-width="0.32" transform="rotate(-90 532.60 487.40)">90</text>
<text x="549.70" y="487.40" font-size="10.4" text-anchor="end" fill="#1e1e1e" stroke="#1e1e1e" stroke-width="0.32" transform="rotate(-90 549.70 487.40)">110</text>
<text x="286.20" y="524.70" font-size="10.4" fill="#1e1e1e" stroke="#1e1e1e" stroke-width="0.32">8-mer start position (bp)</text>
<defs><linearGradient id="dg" x1="0" x2="1"><stop offset="0" stop-color="#fafafa"/><stop offset="0.43" stop-color="#6a6a6a"/><stop offset="0.47" stop-color="#000"/><stop offset="1" stop-color="#ff1a10"/></linearGradient></defs>
<text x="615.50" y="425.90" font-size="10.4" fill="#1e1e1e" stroke="#1e1e1e" stroke-width="0.32">Density (%)</text>
<rect x="610.1" y="430.8" width="63.1" height="8" fill="url(#dg)"/>
<text x="599.60" y="438.60" font-size="10.4" fill="#1e1e1e" stroke="#1e1e1e" stroke-width="0.32">0</text>
<text x="679.40" y="438.60" font-size="10.4" fill="#1e1e1e" stroke="#1e1e1e" stroke-width="0.32">5</text></svg></body></html>
